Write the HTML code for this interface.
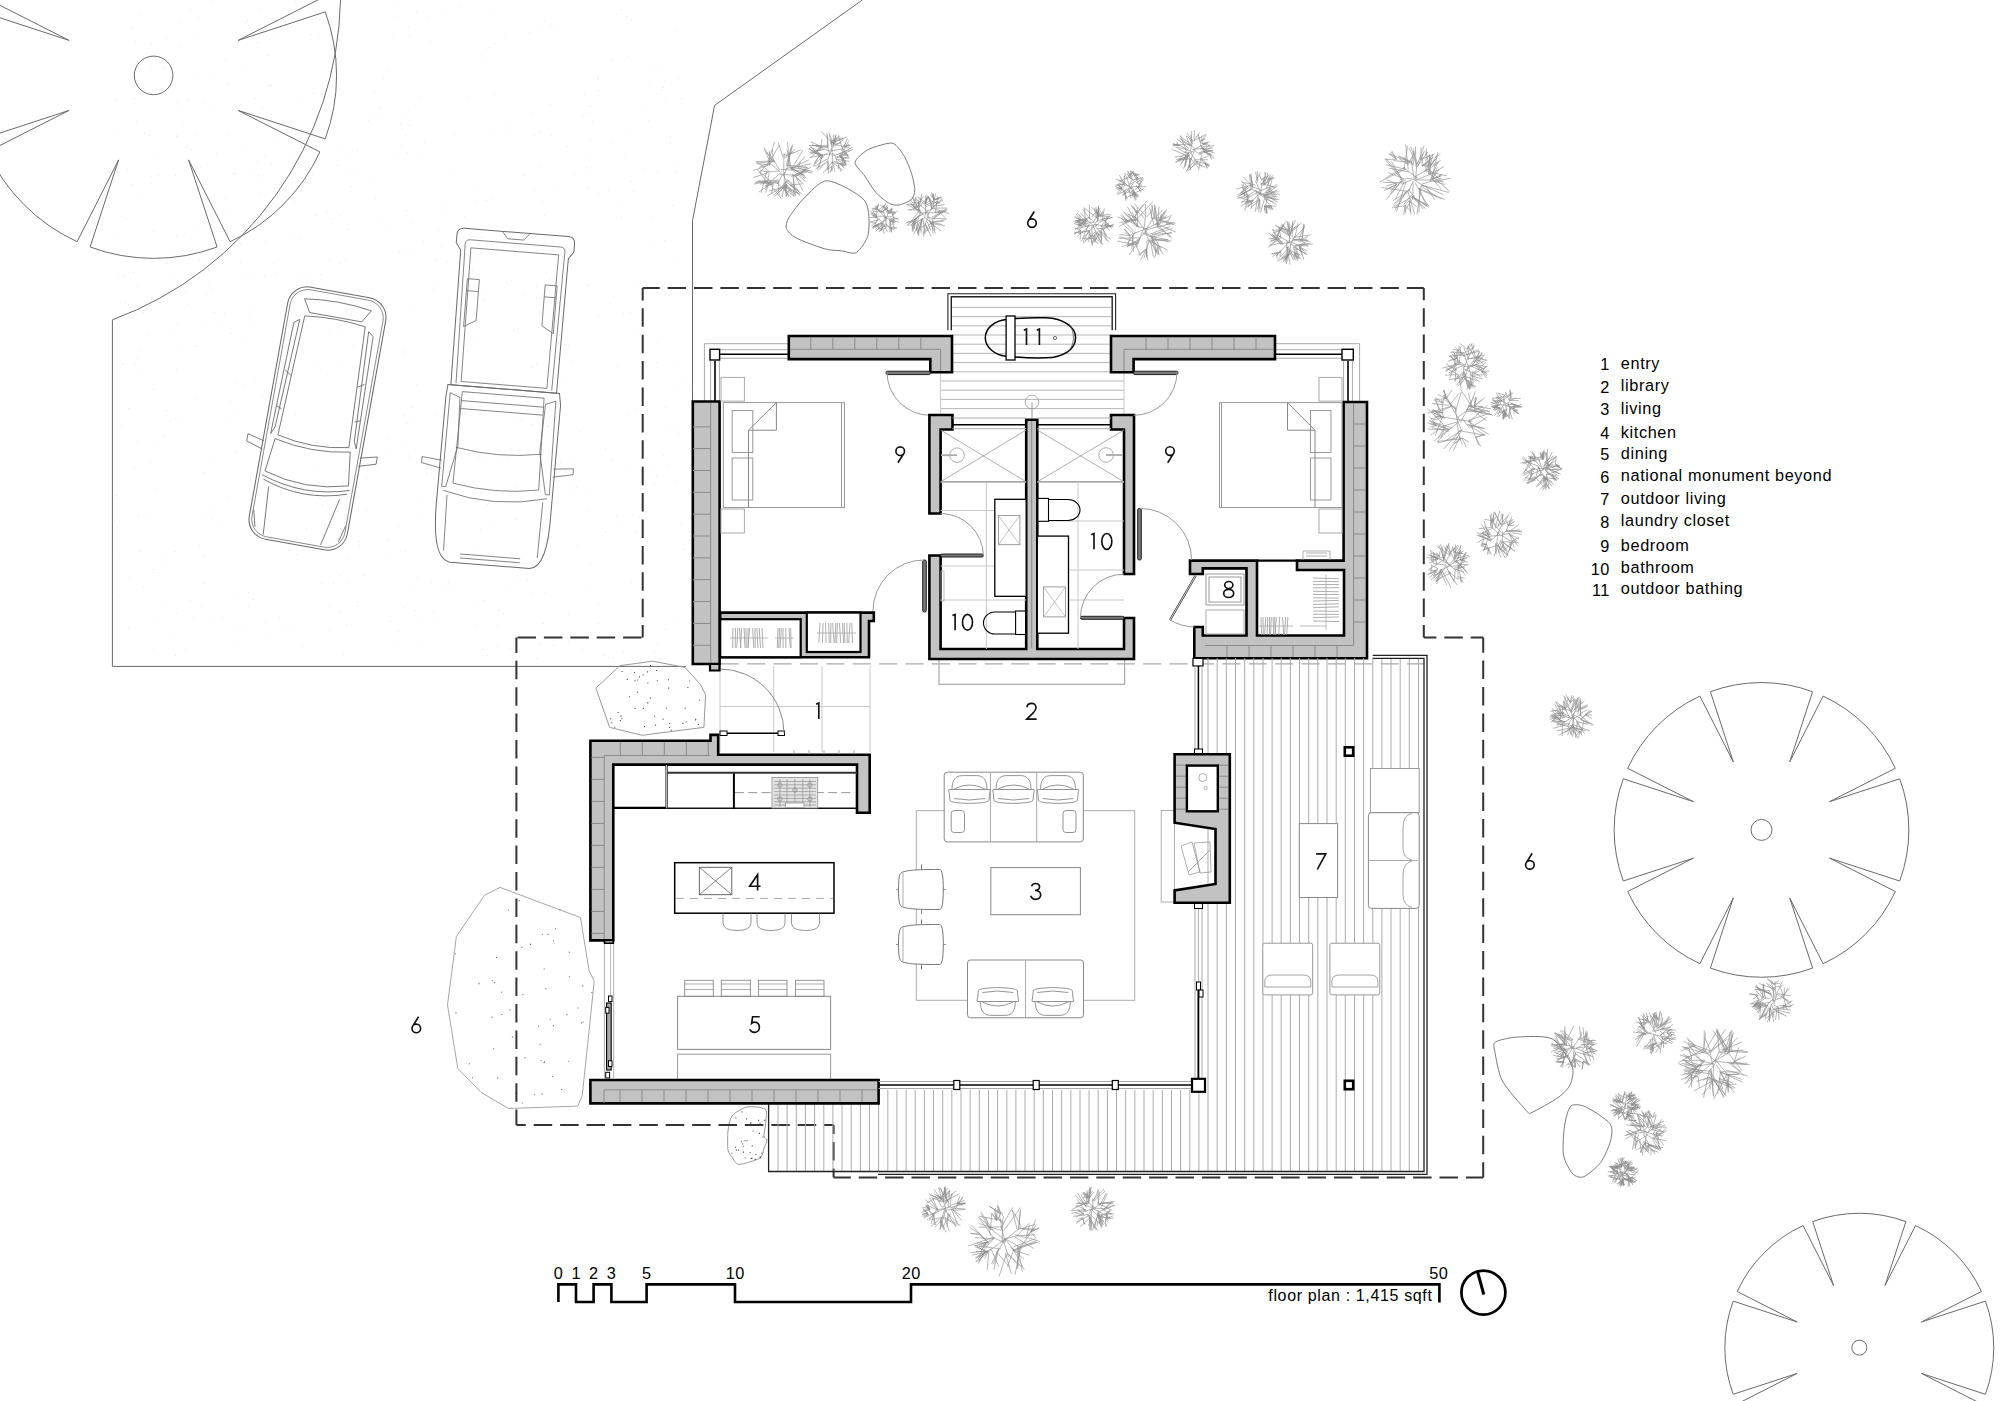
<!DOCTYPE html>
<html><head><meta charset="utf-8"><title>floor plan</title>
<style>
html,body{margin:0;padding:0;background:#fff;width:2000px;height:1401px;overflow:hidden}
svg{display:block}
.lbl{font-family:"Liberation Sans",sans-serif;fill:#111}
.leg{font-family:"Liberation Sans",sans-serif;fill:#000}
</style></head><body>
<svg width="2000" height="1401" viewBox="0 0 2000 1401" stroke-linecap="butt">
<rect x="0" y="0" width="2000" height="1401" fill="#fff"/>
<path d="M301.2 99.6h0.8 M489.3 47.8h0.8 M423.1 241.4h0.8 M148.3 334.9h0.8 M136.6 286.2h0.8 M155.2 59.9h0.8 M359.1 545.7h0.8 M186.2 147.3h0.8 M475.8 625.5h0.8 M446.8 261.8h0.8 M676.3 30.7h0.8 M608.6 191.1h0.8 M197.9 77.7h0.8 M292.4 538.6h0.8 M218.9 383.9h0.8 M482.4 245.8h0.8 M430 41.4h0.8 M149.3 135.9h0.8 M506.2 282.2h0.8 M295.6 386.5h0.8 M375.6 197.8h0.8 M571.8 461.3h0.8 M255.4 379.1h0.8 M417 577.6h0.8 M534.4 190h0.8 M678.6 77.9h0.8 M355.4 499.7h0.8 M202.4 322.7h0.8 M137.5 441h0.8 M554.6 378.2h0.8 M618.4 207.1h0.8 M514.8 392.3h0.8 M448.4 301.1h0.8 M598 623.5h0.8 M387.6 438.3h0.8 M149.9 463h0.8 M487.1 655.4h0.8 M587.6 187.8h0.8 M336.8 441.3h0.8 M128 304.7h0.8 M211.6 77.3h0.8 M148.9 507h0.8 M189.4 163.4h0.8 M339.8 575.1h0.8 M161.3 296.5h0.8 M430.9 583h0.8 M586.1 570.2h0.8 M275.1 274.1h0.8 M321.3 583.6h0.8 M665.7 99.6h0.8 M216.3 153.1h0.8 M249.2 320.1h0.8 M453.7 173.4h0.8 M117.4 276.5h0.8 M327.3 373.8h0.8 M663 455.7h0.8 M411.4 407.6h0.8 M503.8 35.6h0.8 M632.2 514.8h0.8 M617.8 526.6h0.8 M340.6 263.3h0.8 M174.5 418.6h0.8 M150.8 44.4h0.8 M235 107.1h0.8 M310.5 34.7h0.8 M115.1 99.8h0.8 M173.3 240h0.8 M129.7 577.1h0.8 M468.1 98h0.8 M260 229.3h0.8 M324.4 81.1h0.8 M603.1 655.4h0.8 M382.9 319.3h0.8 M164.4 67.4h0.8 M312 174.7h0.8 M591.6 106.5h0.8 M128.3 627.7h0.8 M418.7 96.8h0.8 M427.3 17.8h0.8 M418.7 645.8h0.8 M611.4 459.5h0.8 M265.1 242h0.8 M211 509.5h0.8 M421.2 514.2h0.8 M304.6 147.2h0.8 M581.6 650.1h0.8 M605.3 532h0.8 M585.5 488.3h0.8 M245.4 341.6h0.8 M319.4 19.1h0.8 M131.1 184.4h0.8 M264 457.1h0.8 M665 295.2h0.8 M653.8 652.1h0.8 M664.1 240.7h0.8 M241.8 149.7h0.8 M228.1 134.9h0.8 M473.8 594.2h0.8 M598.3 316.5h0.8 M490.5 527.8h0.8 M163.7 436h0.8 M638.1 516.3h0.8 M546.3 315.5h0.8 M217.6 520.8h0.8 M306.2 528.5h0.8 M673.7 261.3h0.8 M345.8 624.9h0.8 M531.8 112.2h0.8 M188 99.8h0.8 M635.3 532.3h0.8 M199.1 545.5h0.8 M678.7 433.8h0.8 M316.5 362.1h0.8 M190.3 9.4h0.8 M673.3 428.8h0.8 M417.8 616.2h0.8 M364.4 575.4h0.8 M590 139.3h0.8 M259.8 193.4h0.8 M253.3 387h0.8 M264.1 276.5h0.8 M190.4 600.6h0.8 M318.4 302.4h0.8 M450.4 596.8h0.8 M356.9 605.7h0.8 M403.4 351h0.8 M416 12.3h0.8 M368.1 120.9h0.8 M117.3 527.5h0.8 M214.1 312.5h0.8 M532 367.3h0.8 M302.4 342.1h0.8 M434.4 517.6h0.8 M176 369.8h0.8 M257.9 182.8h0.8 M559.1 335.1h0.8 M438 501.6h0.8 M639.7 292.5h0.8 M467.2 333.7h0.8 M409.5 457.2h0.8 M375.1 352h0.8 M389.9 621.4h0.8 M517.1 578.5h0.8 M656.8 171.3h0.8 M436.7 622.6h0.8 M598 90.5h0.8 M184.9 291.8h0.8 M156.7 158.8h0.8 M157 441.9h0.8 M565.8 592h0.8 M203.8 472.6h0.8 M494.6 94.4h0.8 M622.6 638.6h0.8 M241.3 628.7h0.8 M344 321.6h0.8 M684.2 549.4h0.8 M207.8 284.8h0.8 M411.5 223.8h0.8 M227.6 210.2h0.8 M530.2 12.9h0.8 M433.6 290.7h0.8 M125.4 218.8h0.8 M473.8 338.1h0.8 M152 650.2h0.8 M568.3 641.3h0.8 M175.2 175.3h0.8 M137.8 514.1h0.8 M270.5 85.5h0.8 M357.8 601.5h0.8 M585.9 170.7h0.8 M200.9 606.7h0.8 M443.1 462.3h0.8 M166.4 38h0.8 M510.7 280.7h0.8 M156.6 619.3h0.8 M479.8 529.1h0.8 M163.2 565.1h0.8 M153.3 569.4h0.8 M375.9 223.8h0.8 M433 611.6h0.8 M269 85.3h0.8 M418 157.4h0.8 M177.9 106.6h0.8 M144 133.2h0.8 M294.4 201.3h0.8 M551.7 191.4h0.8 M402.6 117.4h0.8 M314.5 12h0.8 M259 10.1h0.8 M536.5 363.7h0.8 M223.9 313.3h0.8 M652.4 70.1h0.8 M585.9 285.2h0.8 M399.6 550.8h0.8 M341 334.4h0.8 M510.5 648.4h0.8 M312.1 549.3h0.8 M521.4 419.7h0.8 M347.7 229.4h0.8 M146.3 85.7h0.8 M155.7 489h0.8 M262 107.7h0.8 M163.6 555.2h0.8 M615.6 442.6h0.8 M277.1 159.9h0.8 M283.5 303.2h0.8 M205.6 294.2h0.8 M266.4 634.8h0.8 M674.3 361.1h0.8 M255.6 637.3h0.8 M293 235.3h0.8 M115.6 251.9h0.8 M387.9 331.8h0.8 M230.6 333.1h0.8 M117.8 174.4h0.8 M166.6 263.7h0.8 M139 14.8h0.8 M289.9 153.7h0.8 M451.7 349.3h0.8 M546.6 434h0.8 M526.7 580.2h0.8 M339 215.2h0.8 M681.2 98.6h0.8 M531.4 424.5h0.8 M140.2 551.3h0.8 M627.9 414h0.8 M537 536.1h0.8 M195.1 345.7h0.8 M405 551.1h0.8 M577.7 545.4h0.8 M450.8 589.3h0.8 M507.7 457.6h0.8 M247.2 20.6h0.8 M191.5 238.1h0.8 M175.3 551.6h0.8 M436.2 414.3h0.8 M475.1 449.2h0.8 M396.3 2.2h0.8 M573.7 493.9h0.8 M404.2 353.2h0.8 M494.1 43.6h0.8 M538.7 166.4h0.8 M157.8 175.3h0.8 M534.4 135.4h0.8 M540.4 644h0.8 M399 252.5h0.8 M390.4 451.2h0.8 M556 407.2h0.8 M484.6 51.1h0.8 M199.8 167.6h0.8 M542.3 200.9h0.8 M441.5 8.2h0.8 M149.9 177.4h0.8 M501.4 456.8h0.8 M503.5 192h0.8 M412 306.7h0.8 M383.1 78.2h0.8 M628.9 131.5h0.8 M677.4 617.9h0.8 M125.1 302.9h0.8 M586.4 639h0.8 M373.4 177.3h0.8 M235.7 624.1h0.8 M236.2 383.8h0.8 M196.5 345.9h0.8 M662.8 87.5h0.8 M586.6 335.8h0.8 M624.9 464.2h0.8 M248 592.5h0.8 M394.5 16.4h0.8 M117.1 324.5h0.8 M374.2 199.3h0.8 M195.9 227h0.8 M296.7 554.6h0.8 M116 495.5h0.8 M597.5 79.2h0.8 M647.7 470.6h0.8 M633.4 191.3h0.8 M329 259.3h0.8 M689.3 388.9h0.8 M322.4 282.5h0.8 M273.2 31.9h0.8 M173.5 550.9h0.8 M279.2 617.5h0.8 M258.4 175.4h0.8 M408.8 125.3h0.8 M329.7 631.1h0.8 M623.5 535.9h0.8 M477.8 602.9h0.8 M655.9 362.5h0.8 M528.8 32.7h0.8 M536.1 297.6h0.8 M547.8 425.4h0.8 M279.6 32.3h0.8 M647.9 84h0.8 M386.5 226.8h0.8 M286.2 487.8h0.8 M676.4 171.7h0.8 M492.2 198.6h0.8 M435.5 260.3h0.8 M211.2 106.7h0.8 M234.5 597.9h0.8 M400.8 145.2h0.8 M636.1 657.7h0.8 M373.7 92.1h0.8 M225.6 59.9h0.8 M311.6 60.1h0.8 M252.5 170.5h0.8 M442.5 585.6h0.8 M546.1 272.4h0.8 M353 346h0.8 M331.7 223.2h0.8 M150.7 183.2h0.8 M671.4 83.1h0.8 M404.5 415.6h0.8 M611.1 142.5h0.8 M270.8 164h0.8 M344.9 294.3h0.8 M663.5 560.1h0.8 M616.9 14.4h0.8 M133.5 468.3h0.8 M630 312.4h0.8 M452.6 0.1h0.8 M340.1 611.7h0.8 M589.7 564.6h0.8 M674 164h0.8 M177.7 101.9h0.8 M415.4 450.2h0.8 M656.4 476.3h0.8 M487.2 504.8h0.8 M378 364h0.8 M137.7 516.3h0.8 M248.7 607.1h0.8 M486.2 200.5h0.8 M188.6 166.2h0.8 M480.9 461.1h0.8 M179.5 46.4h0.8 M416.6 384.7h0.8 M338.1 147.6h0.8 M460.6 6.9h0.8 M288.4 304.1h0.8 M666.4 425.4h0.8 M623.2 313.7h0.8 M250 163.1h0.8 M667.4 465.1h0.8 M291.8 14.4h0.8 M401.5 445.1h0.8 M356.5 169.8h0.8 M498.7 610.6h0.8 M245.4 22.5h0.8 M309.4 277.6h0.8 M507.5 130.7h0.8 M573.3 487.8h0.8 M405.3 135.4h0.8 M672.7 205.7h0.8 M586.5 152.3h0.8 M242.3 501.9h0.8 M284.6 628.3h0.8 M400.1 123.6h0.8 M243.4 275.2h0.8 M497.5 626.2h0.8 M199.2 259.7h0.8 M237.4 642.9h0.8 M196.6 34.2h0.8 M149.6 259.6h0.8 M631.4 583.2h0.8 M536.3 658.4h0.8 M650.7 217.3h0.8 M221.7 617.7h0.8 M544.1 21h0.8 M497 249.9h0.8 M330 218.9h0.8 M212.3 1.9h0.8 M275.9 232h0.8 M664.4 81.6h0.8 M669.5 136.9h0.8 M320.1 542.2h0.8 M587.7 285.4h0.8 M143.3 312.5h0.8 M329.3 606.9h0.8 M226 240.4h0.8 M630.8 20h0.8 M351.2 535.8h0.8 M555.8 26.8h0.8 M135 41.3h0.8 M644 169.6h0.8 M544.7 593h0.8 M310 179.7h0.8 M665.7 407.2h0.8 M265.7 473h0.8 M297 181.9h0.8 M117.2 498.7h0.8 M642 418.4h0.8 M657.4 16h0.8 M249.5 313.6h0.8 M665.1 629.6h0.8 M337.2 165.7h0.8 M362.2 325.7h0.8 M648.7 120.7h0.8 M576.5 487.4h0.8 M588.1 510.1h0.8 M464.2 216.3h0.8 M298.7 238.8h0.8 M564.8 52.1h0.8 M228.5 496.9h0.8 M257.2 42.7h0.8 M134.5 364.7h0.8 M302.3 647h0.8 M623 652h0.8 M267.3 55.5h0.8 M170.4 329h0.8 M523.1 295h0.8 M249.7 275.1h0.8 M471.7 444.9h0.8 M545.1 559h0.8 M497 80h0.8 M598.5 193.9h0.8 M441 246.2h0.8 M539.4 131.5h0.8 M257.3 161.9h0.8 M203.2 583.6h0.8 M447.5 215.4h0.8 M342.7 655h0.8 M406.7 152.7h0.8 M579.9 431.2h0.8 M684.8 67.5h0.8 M388 540.6h0.8 M598.3 603.5h0.8 M138.2 193.8h0.8 M183.5 125.1h0.8 M674.5 384.9h0.8 M649.8 245.7h0.8 M613 296.4h0.8 M264.5 513.3h0.8 M658.8 69.8h0.8 M457.8 409.2h0.8 M240.1 243.3h0.8 M196.3 134.6h0.8 M261.6 395.6h0.8 M489.7 134.3h0.8 M121.5 216h0.8 M505 122.2h0.8 M294.5 134.2h0.8 M572.3 361.7h0.8 M151.4 66.9h0.8 M342.3 363.1h0.8 M482.5 60.2h0.8 M209.1 459h0.8 M350.6 187h0.8 M291.9 629.1h0.8 M294.6 373.9h0.8 M320.4 274.9h0.8 M611.9 657.8h0.8 M324.2 130.2h0.8 M533.6 134.4h0.8 M118.4 595.1h0.8 M358.7 541.4h0.8 M348.6 582.7h0.8 M380 107.3h0.8 M123.5 364h0.8 M483.4 600.5h0.8 M166.2 410.6h0.8 M328.2 332.9h0.8 M198.9 187h0.8 M414.7 610.8h0.8 M177.6 323.7h0.8 M577.8 638.1h0.8 M228.5 83.6h0.8 M657.3 643.9h0.8 M392.6 35.2h0.8 M647.5 256h0.8 M634.9 409.4h0.8 M589.1 105.8h0.8 M566.8 146.6h0.8 M347.6 558.6h0.8 M591.8 120.8h0.8 M240.4 263.8h0.8 M412.8 253.2h0.8 M185.8 163.1h0.8 M531.8 592.2h0.8 M138.6 371.1h0.8 M550.5 25.2h0.8 M597 77.7h0.8 M459.7 363h0.8 M475.5 202.1h0.8 M356.5 384.5h0.8 M359.8 434.8h0.8 M371.9 289.3h0.8 M128.4 408.5h0.8 M396.5 155.3h0.8 M554 514.8h0.8 M378.5 118.5h0.8 M387.1 70.7h0.8 M188.9 284.2h0.8 M167.7 291.7h0.8 M408.3 26.9h0.8 M481 54.3h0.8 M536.8 513.2h0.8 M409.1 35.8h0.8 M404.8 249.4h0.8 M661.7 89.9h0.8 M607.8 657.4h0.8 M535.9 537.9h0.8 M226.4 647.9h0.8 M397.8 631.4h0.8 M641.7 109h0.8 M568.3 614.2h0.8 M152.7 231.6h0.8 M549.8 104.8h0.8 M630.5 181.5h0.8 M584 94.8h0.8 M403.8 607.1h0.8 M234.8 173.5h0.8 M406 210.6h0.8 M136.2 120.2h0.8 M207.7 618h0.8 M505.8 591h0.8 M212 518h0.8 M181.2 350.3h0.8 M480.9 237.5h0.8 M616.9 366.4h0.8 M448.5 582.5h0.8 M175.2 655.4h0.8 M477.1 260.2h0.8 M573.7 174.7h0.8 M684.5 381.1h0.8 M322.1 504.7h0.8 M369.3 116.7h0.8 M542.6 31.9h0.8 M586.4 167.4h0.8 M482.6 649.5h0.8 M451.9 438h0.8 M294.8 1.2h0.8 M134.4 98.6h0.8 M469.2 285.3h0.8 M409.8 591.1h0.8 M190.9 150h0.8 M490.5 14.7h0.8 M116.5 234.3h0.8 M176.2 235.7h0.8 M243.9 385.2h0.8 M453.7 134.8h0.8 M473.8 313.4h0.8 M192.5 618.2h0.8 M255.1 98.5h0.8 M170.1 421.2h0.8 M616 516.2h0.8 M346.1 174.4h0.8 M121.6 425.7h0.8 M438.3 231.2h0.8 M486.2 292.9h0.8 M653.9 484.1h0.8 M257.9 596.3h0.8 M140.3 350.8h0.8 M348.4 156.9h0.8 M148.6 514.1h0.8 M122.1 363.6h0.8 M656 93.9h0.8 M229.7 401.3h0.8 M406.5 423.4h0.8 M582.7 115.3h0.8 M292.9 198.2h0.8 M142.9 587h0.8 M565.2 472.2h0.8 M118.7 557.3h0.8 M543.5 307.1h0.8 M541.5 298.6h0.8 M244.9 69.5h0.8 M248.6 25.6h0.8 M307.9 494.8h0.8 M514.7 557.9h0.8 M524.2 175.6h0.8 M433.4 287.8h0.8 M568.4 345.3h0.8 M267.5 423.7h0.8 M670 143.2h0.8 M621 10.1h0.8 M264.7 155.8h0.8 M542.7 623.5h0.8 M544 215.7h0.8 M621.1 216.8h0.8 M252.5 599h0.8 M477.7 457.3h0.8 M497.5 646.1h0.8 M385 554.2h0.8 M516.1 566h0.8 M366.4 478.3h0.8 M442.9 203.1h0.8 M236.9 410.9h0.8 M159.7 601.1h0.8 M198.1 17.8h0.8 M176.3 613.1h0.8 M313.3 93.6h0.8 M131.5 27.5h0.8 M513.3 418.4h0.8 M515.8 486.3h0.8 M152.8 389.7h0.8 M324 539.6h0.8 M586.2 588.2h0.8 M152.9 572.7h0.8 M640.8 623.3h0.8 M176.6 135.8h0.8 M179.4 22.7h0.8 M602.4 535.9h0.8 M479.6 544.5h0.8 M478.1 189.7h0.8 M172.4 64.6h0.8 M550.5 135.3h0.8 M298.5 279.7h0.8 M127 169.4h0.8 M277.5 472.4h0.8 M326.6 211.7h0.8 M669.3 332.5h0.8 M604.5 408.1h0.8 M132.8 272.5h0.8 M366 510.2h0.8 M314.4 465.1h0.8 M424.3 142.9h0.8 M610.8 60h0.8 M586.4 112.4h0.8 M115.7 133.3h0.8 M553.3 645.4h0.8 M117.5 323.9h0.8 M397.6 525.9h0.8 M221.1 326.4h0.8 M314.6 549h0.8 M264.8 623h0.8 M278.1 141.7h0.8 M517.2 328.9h0.8 M178.2 420.1h0.8 M161.5 520h0.8 M515.9 519.4h0.8 M476.1 234.7h0.8 M345.7 260.4h0.8 M627 56.9h0.8 M625.9 16.6h0.8 M233.5 173.7h0.8 M633.2 330.8h0.8 M333.1 583.4h0.8 M249.3 304.2h0.8 M420.6 498h0.8 M548 426.6h0.8 M315.4 215.6h0.8 M204.3 556.5h0.8 M495.7 489.7h0.8 M212.5 289.6h0.8 M559.7 382.3h0.8 M187.5 304.9h0.8 M623.9 157h0.8 M225.2 199h0.8 M519.3 556.8h0.8 M203.9 103h0.8 M257.4 215.5h0.8 M415.3 106.2h0.8 M303.6 124.9h0.8 M675.7 481h0.8 M173.5 635.2h0.8 M173.4 253.6h0.8 M680.7 524.6h0.8 M536.6 287h0.8 M227.8 421.1h0.8 M176.5 136.3h0.8 M338.3 22.4h0.8 M344.4 522.1h0.8 M513.7 330.3h0.8 M478.6 305.8h0.8 M196.5 398.4h0.8 M347.7 489h0.8 M637.1 283.8h0.8 M445 494.4h0.8 M357.2 150.9h0.8 M530.3 580.9h0.8 M560.1 462.1h0.8 M605.2 448.5h0.8 M483.9 299.6h0.8 M295 414.7h0.8 M171.3 276.9h0.8 M564.9 470.7h0.8 M477 165h0.8 M358.6 300.4h0.8 M472.4 270.2h0.8 M503.3 613.9h0.8 M220.3 432h0.8 M562.5 256.5h0.8 M396.7 643.2h0.8 M136.9 358.6h0.8 M207.5 516h0.8 M655.8 342.7h0.8 M173.1 379.2h0.8 M426.1 473.4h0.8 M409.5 421.9h0.8 M591.7 344.3h0.8 M351 625.7h0.8 M235.8 451.7h0.8 M340.7 503.4h0.8 M185.4 649.7h0.8 M319.4 37.4h0.8 M272.8 263.8h0.8 M122.7 276.3h0.8 M356.8 460.8h0.8" stroke="#d8d8d8" stroke-width="0.8" fill="none"/>
<path d="M188.6 -9.1L230.1 -90.9A183 183 0 0 1 319.9 -1.1L238.1 40.4M238.1 40.4L325.2 11.9A183 183 0 0 1 325.2 138.9L238.1 110.4M238.1 110.4L319.9 151.9A183 183 0 0 1 230.1 241.7L188.6 159.9M188.6 159.9L217.1 247A183 183 0 0 1 90.1 247L118.6 159.9M118.6 159.9L77.1 241.7A183 183 0 0 1 -12.7 151.9L69.1 110.4M69.1 110.4L-18 138.9A183 183 0 0 1 -18 11.9L69.1 40.4M69.1 40.4L-12.7 -1.1A183 183 0 0 1 77.1 -90.9L118.6 -9.1M118.6 -9.1L90.1 -96.2A183 183 0 0 1 217.1 -96.2L188.6 -9.1" stroke="#6a6a6a" stroke-width="1" fill="none"/>
<circle cx="153.6" cy="75.4" r="19.3" stroke="#6a6a6a" stroke-width="1" fill="none"/>
<path d="M1789.7 761.9L1823.1 696.1A147.3 147.3 0 0 1 1895.3 768.3L1829.5 801.7M1829.5 801.7L1899.7 778.8A147.3 147.3 0 0 1 1899.7 881L1829.5 858.1M1829.5 858.1L1895.3 891.5A147.3 147.3 0 0 1 1823.1 963.7L1789.7 897.9M1789.7 897.9L1812.6 968.1A147.3 147.3 0 0 1 1710.4 968.1L1733.3 897.9M1733.3 897.9L1699.9 963.7A147.3 147.3 0 0 1 1627.7 891.5L1693.5 858.1M1693.5 858.1L1623.3 881A147.3 147.3 0 0 1 1623.3 778.8L1693.5 801.7M1693.5 801.7L1627.7 768.3A147.3 147.3 0 0 1 1699.9 696.1L1733.3 761.9M1733.3 761.9L1710.4 691.7A147.3 147.3 0 0 1 1812.6 691.7L1789.7 761.9" stroke="#6a6a6a" stroke-width="1" fill="none"/>
<circle cx="1761.5" cy="829.9" r="10.5" stroke="#6a6a6a" stroke-width="1" fill="none"/>
<path d="M1885 1285.6L1915.5 1225.6A134.4 134.4 0 0 1 1981.4 1291.5L1921.4 1322M1921.4 1322L1985.4 1301.1A134.4 134.4 0 0 1 1985.4 1394.3L1921.4 1373.4M1921.4 1373.4L1981.4 1403.9A134.4 134.4 0 0 1 1915.5 1469.8L1885 1409.8M1885 1409.8L1905.9 1473.8A134.4 134.4 0 0 1 1812.7 1473.8L1833.6 1409.8M1833.6 1409.8L1803.1 1469.8A134.4 134.4 0 0 1 1737.2 1403.9L1797.2 1373.4M1797.2 1373.4L1733.2 1394.3A134.4 134.4 0 0 1 1733.2 1301.1L1797.2 1322M1797.2 1322L1737.2 1291.5A134.4 134.4 0 0 1 1803.1 1225.6L1833.6 1285.6M1833.6 1285.6L1812.7 1221.6A134.4 134.4 0 0 1 1905.9 1221.6L1885 1285.6" stroke="#6a6a6a" stroke-width="1" fill="none"/>
<circle cx="1859.3" cy="1347.7" r="7.5" stroke="#6a6a6a" stroke-width="1" fill="none"/>
<path d="M340.5 0 A348.5 348.5 0 0 1 112.4 319.8 L112.4 666.4 L 686 666.4" stroke="#6a6a6a" stroke-width="1" fill="none"/>
<path d="M862.3 0 L714.6 105.4 L692.5 220.6 L692.5 402" stroke="#6a6a6a" stroke-width="1" fill="none"/>
<path d="M827.6 180.7C835.5 181.1 859.5 193.9 864.8 200.8C870.1 207.7 869.4 227.1 868.3 233.8C867.2 240.5 860 250.3 856.5 252.5C853 254.7 845.5 251.3 841.4 250.8C837.3 250.3 830.8 250.6 824.9 248.9C819 247.2 801 240.6 796 237.9C791 235.2 787.3 231 786.4 228.3C785.5 225.6 786.8 221.2 789.1 217.3C791.4 213.4 799.3 202.8 804.3 198C809.3 193.2 819.7 180.3 827.6 180.7Z" stroke="#7a7a7a" stroke-width="1" fill="none"/>
<path d="M855.1 162.3C855.5 158.9 863.4 152.3 867.5 149.9C871.6 147.5 883.2 144.3 886.8 143.6C890.4 142.9 892.7 142.7 895 144.4C897.3 146.1 902.5 153 904.6 156.8C906.7 160.6 910.2 169 911.5 173.3C912.8 177.6 914.8 186.4 914.8 189.8C914.8 193.2 913.5 197.4 911.5 199.4C909.5 201.4 902 204.4 899.1 204.9C896.2 205.4 892.5 205.1 889.5 203.5C886.5 201.9 879 196.1 875.8 192.5C872.6 188.9 867.5 179.9 864.8 176C862.1 172.1 854.7 165.7 855.1 162.3Z" stroke="#7a7a7a" stroke-width="1" fill="none"/>
<path d="M1495.6 1041.9C1498.5 1040.1 1509.7 1037.5 1517.1 1037.1C1524.5 1036.7 1545.2 1035.2 1552.4 1039C1559.6 1042.8 1569.8 1060.1 1572.1 1066C1574.4 1071.9 1572 1080.5 1570.2 1084.6C1568.4 1088.7 1563 1094 1558 1097.6C1553 1101.2 1536.1 1110.7 1532 1112.4C1527.9 1114.1 1530.3 1114.7 1526.4 1110.6C1522.5 1106.5 1506.4 1088.6 1502.3 1080.9C1498.2 1073.2 1495.7 1056.3 1494.8 1051.2C1493.9 1046.1 1492.7 1043.7 1495.6 1041.9Z" stroke="#7a7a7a" stroke-width="1" fill="none"/>
<path d="M1570.9 1106.1C1573.7 1103.7 1580.7 1104.6 1585.8 1106.9C1590.9 1109.2 1606.7 1119.3 1609.9 1123.6C1613.1 1127.9 1611.9 1135.2 1610.7 1140.3C1609.5 1145.4 1604.1 1157.9 1600.6 1162.6C1597.1 1167.3 1587.5 1175.2 1583.9 1176.7C1580.3 1178.2 1575.5 1176.6 1572.8 1173.8C1570.1 1171 1564.6 1161.4 1563.5 1155.1C1562.4 1148.8 1563.6 1131.8 1564.6 1125.4C1565.6 1119 1568.1 1108.5 1570.9 1106.1Z" stroke="#7a7a7a" stroke-width="1" fill="none"/>
<polygon points="595.9,688 619.9,665.7 652.5,661.2 685,667.4 700.5,684.6 705.6,694.8 703.9,727.4 676.5,730.8 642.2,735.3 609.6,727.4" stroke="#999" stroke-width="1" fill="none"/>
<path d="M634.5 680.8h1M620.5 716.1h1M699 700.3h1M619.9 720.6h1M638.9 676.9h1M610.1 718.7h1M684.7 708.2h1M647.4 702.8h1M634.6 708.5h1M685.7 721.7h1M647.3 683h1M656 670.5h1M687.4 687.5h1M689.2 681h1M637.2 680h1M642.6 675h1M626.7 679.4h1M629 696.7h1M642.9 708.4h1M668.2 688.1h1M697.8 724.5h1M695.3 719.3h1M611.3 722.8h1M667.9 679.7h1M621.5 718.7h1M633.9 672.5h1M695.1 719.9h1M614.3 727.2h1M662.6 719.1h1M669.2 727.4h1M682.4 723.4h1M617.6 712.5h1M654.1 716.2h1M644 726.6h1M656.8 680.8h1M621.6 671.5h1M650 665.5h1M647.1 671.9h1M649.8 698.1h1M655.1 725.1h1M647.2 702.9h1M668.9 723.5h1M637 692.2h1M665.8 708.3h1M670.8 730.2h1" stroke="#444" stroke-width="1.1" fill="none"/>
<polygon points="500,887.4 484.5,895.3 456.4,936.4 447.5,1005 457.8,1068.4 481.1,1092.4 508.5,1108.5 577.8,1106.1 582.2,1095.8 589.1,1030.7 594.2,981 589.1,970.7 580.5,917.6" stroke="#a5a5a5" stroke-width="1" fill="none"/>
<path d="M522.4 994.6h1M552.9 1025.6h1M497.2 1077.9h1M501.2 992.3h1M524.6 1057.8h1M478.4 983.6h1M509.5 1009.9h1M568.8 952.2h1M568.9 976.7h1M521.4 947.5h1M521.8 1103h1M543.5 1062.5h1M496 957.5h1M491.4 1017.1h1M540.6 1060.8h1M577.4 1008h1M454.8 953.8h1M582.7 1022h1M544 1061.9h1M581 1022.7h1M538 1026h1M549.7 1019.2h1M547.4 934.4h1M545.3 988.6h1M559.4 909.8h1M561.1 1089.5h1M543.7 969h1M568.2 1061.3h1M530 944.4h1M491.8 980.7h1M494.2 982.6h1M541.6 1093.9h1M455.5 1012.9h1M566.4 1014.6h1M582.3 986.1h1M534.3 1094.7h1M591.4 992.5h1M508 910h1M542 934.3h1M553 941h1M555.1 928.8h1M552.2 1076.5h1M539.7 1044.2h1M515.1 1093.5h1M493.1 1048.7h1M471.9 1077.8h1M518.8 900.6h1M501.4 1014.5h1M511.9 1037.1h1M468.8 1063.7h1" stroke="#666" stroke-width="1.1" fill="none"/>
<path d="M747 1107C751.3 1106.1 762.5 1107.3 765 1109C767.5 1110.7 766.1 1116.5 766 1120C765.9 1123.5 763.9 1133.4 764 1136C764.1 1138.6 767 1138.4 767 1140C767 1141.6 764.9 1145.7 764 1148C763.1 1150.3 763.2 1155.9 760 1158C756.8 1160.1 742.6 1164.5 739 1164.4C735.4 1164.3 733.4 1158.9 732 1157C730.6 1155.1 728.5 1153.4 728 1150C727.5 1146.6 727.5 1135.4 728 1131C728.5 1126.6 729.5 1119.1 732 1116C734.5 1112.9 742.7 1107.9 747 1107Z" stroke="#999" stroke-width="1" fill="none"/>
<path d="M742.2 1144h1M752.6 1131h1M743 1152.1h1M750.1 1123.8h1M755.4 1154.5h1M740.9 1141.8h1M751.4 1124.7h1M744.7 1158h1M742.7 1146.3h1M751.5 1158.4h1M759.5 1123.3h1M744.5 1140.7h1M759.8 1157.9h1M759.7 1156.8h1M750.3 1122.7h1M761.2 1153.3h1M754.7 1159.4h1M741.5 1111.9h1M749.6 1152.8h1M735.8 1150.1h1M764.3 1120.4h1M751.7 1145.9h1M746.1 1118.9h1M737.9 1150.1h1M758.9 1133.4h1M731.4 1153.3h1M758.1 1120.4h1M750.6 1158.5h1M762.5 1137h1M746.6 1140.8h1M735.4 1118h1M735 1147.2h1" stroke="#444" stroke-width="1.1" fill="none"/>
<path d="M783.7 174.4L784 153.3M782.6 157.1L801.2 149.8M782.8 156.5L778.2 142.3M785.1 158.2L794.9 149.3M783.8 154.6L794.6 152.5M783.9 174.7L788.4 164.8M788.4 165.4L806.7 167.1M789.4 166.9L787.6 141.9M786.2 165.9L790.9 147.9M787.6 167.2L791.7 146M787.1 166.3L792.8 144.4M785.2 169L791.1 167.4M790.3 167.7L804.5 175.2M791 166.9L787.1 149.7M790.5 167L812.7 171.4M790.2 168.7L808.7 159.8M789.7 166.9L804.6 175.8M791.2 167.8L811.4 163.7M780.4 169.4L794.6 170.1M793.1 168.7L806.5 178.1M791.2 169.4L812.6 172.9M792.4 170.3L805.4 156.2M792.7 170.1L805.6 181.6M791.1 169.6L803.1 150.1M780.1 174.4L795.4 175.2M793.7 175L794.1 195.4M791.1 176.5L807.9 168.6M792.6 173.9L795.5 196.3M794.3 176L811 167.2M794.6 174.7L803.2 191.1M782.2 173.5L787.8 182.6M787.5 180.3L773.7 195.7M786 180.7L781.9 197M786.1 182L786.4 197M787.5 180.2L800.4 196.2M787.8 179.4L798.9 190.9M785.4 181.2L802 194.2M784.9 172L783.8 187.2M783.1 188.1L794.1 196.3M782.9 186.3L798.7 193.8M785.2 186.2L800 194.3M783.7 187.2L769 191M782.6 184.8L788.5 196.5M785.4 185.3L774.8 196.3M785.3 185.3L767.2 195.8M782.4 174.6L777.9 183.3M779.6 182.2L754.9 182.7M778.6 183.6L779.1 195.2M779.9 180.1L756.4 181.6M777.3 182.7L791.3 197.6M777.8 181.2L759.8 184.1M779.2 183.5L758.2 180.7M782.3 171.4L767.7 184.1M767 182.4L757.4 169.3M769.6 180.2L754.2 184.1M768.9 182.4L765.7 192.5M769.1 182.9L781.3 198.5M770.9 183.4L758.9 192.1M770.9 181.4L759.8 171.6M779.5 171L765.7 171.9M769.2 172.9L765.8 190M766.4 172L759.9 170M769.1 171.4L756.5 161.6M768.4 172.6L753.1 177.6M766.8 171.1L761.2 192.7M780.2 171.8L767.3 161.4M769.6 161.8L779.3 145.1M769.5 165.6L769.6 150.8M770.6 164.3L757.5 164M769.7 161.4L759 173.5M768.2 161.4L774.6 141.9M770 164.5L753 170.6M770.3 162.5L764.4 149.4M779.4 169.4L773.2 159.4M773 161.9L763.9 147.6M775.3 161L755.9 163.3M773.3 161.5L772.5 149.3M774.2 162.4L769.1 152.5M772.6 160.9L755.7 161.7M773.2 161.7L759.4 167.1M772.2 160.7L766.8 152.1M795.5 176.5L801 181.8M795.5 176.5L805.7 169.8M795.5 176.5L803.9 184.1M795.5 176.5L804.3 171.5M773.2 183.8L762.7 182.5M773.2 183.8L764.8 185.5M773.2 183.8L765.4 186.9M773.2 183.8L771.5 193.7M798.1 167.9L807.9 167.7M798.1 167.9L806.3 170.7M798.1 167.9L800.4 161.9M786.1 184.2L785.4 192.5M786.1 184.2L789.8 191.3M786.1 184.2L778 192.9M786.1 184.2L792.1 190.9M789.3 190.1L794.6 196.8M789.3 190.1L785.6 196.2M789.3 190.1L795.8 194.6M790.5 185.1L802.2 183.8M790.5 185.1L799.2 191.6M790.5 185.1L796 188.6M799.5 174.3L806.8 167M799.5 174.3L809.2 170.6M799.5 174.3L805.1 178.8M786.1 184L785.5 194M786.1 184L779.5 192.2M786.1 184L785.2 191.3" stroke="#8e8e8e" stroke-width="0.65" fill="none"/>
<path d="M833.1 153.4L836.8 158.5M835.2 157.9L845.2 165.3M837.6 159.5L849.4 161.3M836.7 157.2L847.8 157.4M835.7 157.6L841.1 172M836.6 157.4L853 149.4M832.4 153.2L832.3 163.2M832.3 161.9L832 170.9M832.8 161.7L823 173M833.6 161L845.3 165.8M833.3 163L843.1 170.6M832.3 160.9L835 171.8M833.2 162.7L845.3 164.1M831.9 149.6L826.4 162.6M827.6 158.8L813.5 166.7M827.4 161.1L827.4 169.7M828.3 160.9L828.6 173.8M826.3 163L815.5 168.9M825.1 162.4L818.3 170.7M827.5 153.2L820.8 157.8M821.5 157L815 163.9M821.5 157.5L808.4 148.5M820.9 157.8L810.3 145.7M822.7 157.5L809.8 146.6M823.6 157.1L812.9 147.5M822.4 155.5L813 151.9M833 153.9L819.2 154.5M821.7 155L808.9 148.5M820.5 154.2L814.2 163.2M822.4 154.9L819.1 167.1M822.6 155.2L817.3 169.5M820.2 153.2L810.9 153.9M822.8 155.1L809.4 157.5M819.5 155.3L813.1 166.4M829.8 151.4L821.8 148M822.7 147.3L810.7 141.7M822.1 147.2L810.3 158M822 149.7L810.4 153.1M823.7 149.3L809.3 152.5M829.9 154.9L827.3 145.1M828.3 146L826.8 133.3M828 146.3L812.3 145.4M827.6 147.3L827.2 135.1M828.9 146.2L808.8 145.4M827.8 147.9L811.9 144.8M832.4 152.5L830.9 140.3M830.6 142.1L839.4 136.3M831.4 140.7L841.8 137.8M831.8 142.5L843.3 138.7M829.9 143.9L846.9 136.8M832.3 143.3L821.6 131.6M830 150.8L834.5 144.2M832.4 146.7L829.2 134.6M834.3 146.8L828.8 132.3M834.7 144.4L846.5 147.3M835 146L843.7 139.6M833.6 144.2L833.2 134.6M832.7 145L836.1 134.6M830.3 151L843 148.9M841.4 149.9L849.3 158M841.8 148.4L845.8 142.9M842.6 149.6L838.3 135.2M842.5 148.7L847.2 154.4M841.6 150.4L849.1 156.3M843 148.7L849 143.9M833.4 155.2L841.3 153.9M839.5 155L846 165.3M841 153.8L848.2 155.6M840.7 153.7L845.5 164.6M838.4 153.7L850.6 149.8M840.2 155.4L845.9 161.2M841.9 154.4L848.8 140.5M840.1 154L852.5 147.1M841.7 157.9L849.2 158.3M841.7 157.9L846.6 165.1M841.7 157.9L843.3 166M841.7 157.9L846.4 163.4M821.1 147.7L815.6 152.2M821.1 147.7L821.7 139.2M821.1 147.7L816.3 149.8M821.1 147.7L816.2 145M821.1 147.7L815.7 146.2M839.3 163.3L843 166.4M839.3 163.3L843.9 166.3M839.3 163.3L837.8 169.2M839.3 163.3L844.7 168.4M839.7 156.1L844.1 159M839.7 156.1L846 162.4M839.7 156.1L848.2 154.4M839.7 156.1L844.3 160.2M839.7 156.1L843.4 159.1M834.6 144.2L835.2 135.1M834.6 144.2L837.1 137.5M834.6 144.2L840.9 143M834.6 144.2L834.4 139.2M831.9 166.7L826.8 169.5M831.9 166.7L830.1 172.5M831.9 166.7L831.7 171.3M844.4 145.9L850.7 145.2M844.4 145.9L850.8 148.5M844.4 145.9L850.2 145.6M844.4 145.9L847.2 138.6" stroke="#8e8e8e" stroke-width="0.65" fill="none"/>
<path d="M881.3 221.3L878.5 218.9M877.1 217.6L872.5 214.8M878 219.6L871.3 226.3M878.1 218.1L873 228.8M879.8 219.2L870.3 222.2M878.3 218.5L872.5 215.9M883.3 216.1L875.4 216.3M876.6 215.4L873.2 212.3M877.2 215.8L873.1 212.5M877.2 217.7L869.6 217.6M876.1 216.7L877.8 204.9M876.6 217.5L870.3 213.7M877.2 217.5L870.8 212.3M877.2 217.2L870.2 210.6M884.4 216.3L879.5 211M878.7 210L886 204.4M881.2 212.5L888.2 207.1M880.5 212.9L885.8 202.8M880.1 212.6L876 205.8M885.7 218.4L883.2 211.3M882.7 211.5L872.9 211.4M884.2 212.5L873 207.8M882.7 212.7L874.6 206.7M883 211.7L887.2 205.1M883.3 210.8L887.7 205.5M885.5 221.3L888.7 211.1M887.4 211.4L891.9 209.3M887.8 213.9L882.9 205.4M889.2 212.8L891.5 208.5M887.9 210.6L880.1 204.9M889.1 212.6L895.9 212.9M888.7 212.7L884.2 206.1M888.3 213.4L894.2 212.7M882.7 216.7L893.4 216.8M893.8 218.2L890.9 208.5M892.3 216L894.6 211.5M892.5 215.7L897.3 210.6M893.4 217.4L898.9 219.3M884 217.4L893.3 220.4M891 220.3L899 222.1M892.6 219.1L896 222.2M893.7 219.9L893.9 224.9M889.9 219.6L891.3 231.8M890 218.2L889.6 229.4M890.6 218.5L897.9 219M891.7 220.5L894 227.7M885.4 217.6L886.7 227.2M887.8 225L876.5 230M885.6 223.6L879 232M886.4 227.6L879.3 231.3M888 226.7L897 227.7M885.2 223.7L891.4 228.8M885.3 216.8L882.1 224.7M884 223.9L880.8 231M882 223L872.8 227.3M883.6 223.1L875.5 231.6M883.2 222.9L872.1 227.3M883.9 224.2L887.3 232M881.6 222.6L880.8 230.3M881.4 222.5L884.2 233.9M885.9 219.8L877.2 224.7M877.1 224.4L872.6 227M879.4 225.4L870.1 221.6M877.1 225.5L879.3 229.5M878.8 223.3L874 228.3M877.5 225L875.5 227.5M878.7 225.4L874.5 225.9M878.7 225.4L875.4 229.6M878.7 225.4L879 229M888.6 212.9L887.2 208.4M888.6 212.9L892.4 208M888.6 212.9L887.3 206.9M888.6 212.9L894.4 211.1M888.6 212.9L893.1 209.3M890 221.2L891.4 225.3M890 221.2L893.2 220M890 221.2L894 222M891.6 221.2L895 218.2M891.6 221.2L895.1 222.5M891.6 221.2L894.1 218.8M891.3 227.9L891.7 231.4M891.3 227.9L896.2 228.9M891.3 227.9L889.3 232.1M891.3 227.9L891.4 232.8M891.3 227.9L894.7 230.5M876.9 209.1L872 210.3M876.9 209.1L878.7 204.4M876.9 209.1L871.5 208.6M876.9 209.1L875.9 205.7M876.9 209.1L878.7 204.1" stroke="#8e8e8e" stroke-width="0.65" fill="none"/>
<path d="M925.9 213.2L919 212.8M920.8 214.4L911.7 222M920.8 212.3L910.6 204.2M918.7 211.5L907.8 225.9M921.2 214.3L906.7 225.5M921.4 211.9L911 225.4M923.9 215.5L918.9 210.4M920.4 211.8L912.8 198.3M920.6 210.2L907.6 209.6M920.8 211.2L906 204.4M918.5 212.7L921.7 193.8M918.9 212.4L910.1 202.4M918.7 210.6L910.8 203.7M919.8 210.7L911.9 196.8M928 211.5L918.2 203.6M920.7 204.8L928.3 197.6M920 202.6L914.5 197.4M919.7 204.4L912.1 196.9M917.5 204.1L924 196M918.4 203.3L912.9 202.1M922 205.4L909.7 210.2M925.2 215L925.8 204.4M925 205.5L917.5 196.7M925.5 205.6L927.2 197.5M926 206.9L938.6 200.9M927 204.7L919.3 197.3M926.7 205L940.6 196.8M927.7 214.2L934.7 205.2M934.2 203.7L928.3 197.1M933.1 206.2L944.6 204.7M933.9 207.5L926.4 194.5M933.3 206.2L933.5 193.8M935.1 204.6L942.7 198.7M924.8 212.5L932.3 208.3M931.1 208.2L943.2 199.9M931.1 207.8L948.9 213.6M931.8 209.5L928.5 196.3M932.2 208.9L929.2 197M932 208.1L946.6 208M925.3 212.7L939.3 212.7M934.4 211.9L947 210.9M937.6 212.5L942.8 210.1M935.4 213.1L937.8 195.9M939.2 212.2L945 217.4M936.9 213.2L943 212.1M927.6 217.2L934.9 219M933.4 217.9L946.6 208.4M932 217L945.7 210.9M933 219.1L947.5 208.8M933.1 218.3L946.9 218.8M932.4 218.4L935.2 233.8M924.1 216.8L932.4 223.8M931.6 222.3L933 233.7M932.9 224.6L922.3 234.4M932.5 222L934.9 229.7M931.5 222.3L942 224.4M930.2 222.3L945.7 219.7M926 211.6L932.2 225.2M930.4 223.4L945 225.6M931.3 222.3L922.8 233.2M931.2 223.3L941.1 231M931.6 222.3L943.6 221.3M929.1 220.2L934 230.8M928.9 212.9L925 225.2M927.5 222L930.8 230.7M925.8 225.7L915.6 228.9M924.4 224.8L923.8 236.8M925.2 223.6L931.2 236.5M924.9 222.9L928 231.5M926 215.3L922.3 220.1M922.4 218.7L918.1 235.6M922.7 218.3L911.3 226.2M922.2 219.5L917.5 233.1M921.8 218.6L914 233.7M922.7 218L925.2 233.8M921.4 220.2L921.1 232.9M921.7 220.3L917.5 234M923.7 213.4L914.7 219.9M915.1 220.1L913.3 228.1M913.6 220.9L912.1 229.7M918.4 217.6L916.2 231M915.8 218.8L905.6 223.4M915.3 217.9L921 230.9M914.6 219.7L918.9 235.7M916.2 217.6L912.7 231.9M934.1 199.5L932.5 193.4M934.1 199.5L942 197.5M934.1 199.5L939 199.3M934.1 199.5L930.2 194.4M934.1 199.5L941.5 197.4M913.9 222L906.8 221.7M913.9 222L914.6 228.7M913.9 222L910.4 226M913.9 222L912.4 230.6M925.1 203.7L927.1 196.3M925.1 203.7L926.7 197.3M925.1 203.7L925.7 195.5M925.1 203.7L930.6 200.4M925.1 203.7L928.8 196.2M934.7 202.4L939.5 202.4M934.7 202.4L939.7 203.1M934.7 202.4L933.3 196.2M914.3 204.9L906.8 204.2M914.3 204.9L916.2 196.5M914.3 204.9L909.7 198.9M934.1 199.9L931.9 194.4M934.1 199.9L935.6 193.3M934.1 199.9L931.4 192.4M918.4 206.2L921.4 198.4M918.4 206.2L913.3 206.5M918.4 206.2L918.4 199.6M918.4 206.2L913.6 207.8M918.4 206.2L912.9 204.6" stroke="#8e8e8e" stroke-width="0.65" fill="none"/>
<path d="M1192.3 151.2L1187.6 157.1M1189.7 155.4L1175.1 162.1M1188.1 157.7L1178.3 161.4M1188.2 156.9L1176.1 159.6M1189 155.3L1190.7 170.4M1188.5 155.1L1174.8 157.2M1187.6 155.8L1172.4 149.5M1186.3 156.5L1177.4 160.7M1193.2 151.7L1186.6 152.6M1188.3 153.1L1185.3 167M1188.8 152.2L1183.7 168.8M1186.4 152.8L1177.8 148.6M1186.4 151.7L1184.9 165.5M1188.3 152.8L1180.1 165.4M1188.5 152.7L1181.6 162.8M1191.4 151.6L1186.5 149.4M1185.9 149.2L1176.4 143.1M1189.1 148.6L1176.9 138.7M1188.4 148.4L1176 162.9M1186.1 150.2L1180.6 135.4M1187 149.4L1175.7 147.2M1194.5 148.3L1190.3 143.9M1192.5 143.6L1187.5 135.8M1192 146.4L1179.6 138.2M1191 142.8L1191.3 131.2M1191.6 144.9L1174 144.5M1189.5 145L1181.2 141M1191.9 144.3L1179.8 136.5M1189.9 146.3L1186.3 135.9M1190.5 151.1L1192.6 139.4M1194 139.1L1194.3 130.2M1193.2 141.4L1199.6 132.3M1193.6 140.9L1206.4 134.1M1191.6 141.8L1191.3 134.7M1191.9 140.2L1187.2 133M1193.3 149.8L1203.8 144.4M1202.2 144L1201.6 136.2M1203 144.8L1209.6 141.7M1200.3 145.3L1210.9 155.7M1201.2 146L1198.3 134.1M1200.6 146.9L1209.2 156M1192.2 149.6L1204.7 148M1202.7 149.7L1212.8 147.9M1202.1 148.8L1214.7 153.2M1201.3 147.6L1212.7 151.6M1201.7 147L1214.3 145.8M1193.6 150.2L1201.5 155.2M1199.1 152.5L1213.5 150.3M1201.5 155.3L1198.6 170.3M1200.5 153.1L1209.4 145M1199.2 154L1210.9 150.7M1190.9 153.1L1196.9 162.6M1198 161.8L1190 168.6M1196 160.9L1202.1 167.4M1194 159.9L1207.8 159.7M1195.6 161.4L1210 164.7M1196.4 163.3L1205.4 167.4M1197.2 161.2L1188.3 171M1195.3 160.3L1186 170.9M1194.6 150.5L1191.1 158.8M1190.1 157.9L1198.7 168.1M1189.8 159L1178.9 159.7M1191.6 157.7L1186.7 172.1M1190.4 157.8L1189.2 168.7M1191.2 158.4L1188.1 167.9M1203.3 151.4L1210.8 147.9M1203.3 151.4L1210.5 154.9M1203.3 151.4L1210.1 155M1203.3 151.4L1208.6 153.5M1179.1 145.5L1173.3 145.9M1179.1 145.5L1176.3 141.7M1179.1 145.5L1172.8 144.1M1179.1 145.5L1172.3 145.1M1179.1 145.5L1172.8 143.6M1209.5 153.2L1211.5 159.6M1209.5 153.2L1214 158.9M1209.5 153.2L1213.6 157.2M1200.6 141.3L1205.2 138.4M1200.6 141.3L1197.6 136.5M1200.6 141.3L1206 135.1M1200.6 141.3L1205.5 138.7M1204.9 163.1L1209.5 166.3M1204.9 163.1L1209.1 166.7M1204.9 163.1L1207.6 168.1M1204.9 163.1L1208.6 166.1M1204.9 163.1L1207.2 168.4M1200.8 158.9L1208.1 156.2M1200.8 158.9L1205.5 164.4M1200.8 158.9L1207.7 164M1202.3 143.4L1207.7 143.4M1202.3 143.4L1207.9 142.3M1202.3 143.4L1210 145.6M1202.3 143.4L1206.5 145.5" stroke="#8e8e8e" stroke-width="0.65" fill="none"/>
<path d="M1133.2 183.5L1128.8 190.9M1129.3 188.3L1122.2 196.3M1128.9 189.2L1131.1 198.3M1127.4 190.7L1137.4 196.5M1130.2 191.5L1122.1 194.5M1130.7 190.1L1136.4 200M1131.8 187.4L1123.3 190.9M1125 189.8L1125.8 200.8M1123.2 189.8L1126.1 199.1M1124.1 190.6L1127.4 199.1M1124.6 191.3L1118.3 194.3M1123.1 190.3L1115.4 186.5M1122.7 189.7L1118.5 187.2M1132.8 187.6L1122.2 184M1123.2 184.5L1116.9 194.4M1122.5 184.8L1118.3 182.9M1124.4 183.5L1124.5 175.4M1125.1 184.6L1119.4 193.5M1124 184.1L1119.4 175M1131.9 188.4L1123.3 182.1M1124.8 183L1120.5 178.4M1123.9 184.2L1118.6 179.3M1125.6 183.8L1115.2 185.1M1122.8 181.9L1115.6 179.2M1124.6 184.2L1116.6 185.5M1129.8 186.7L1126.5 177.2M1127.1 178.9L1135.2 173.6M1126 178.6L1123.3 175.9M1125.4 179.4L1133.9 170.8M1125.4 178.2L1119.4 181.5M1126.5 177.4L1124.7 172.8M1129 184.5L1132.9 179.1M1132.3 180.8L1138.3 177.2M1131.9 179.1L1127.5 173.7M1131.6 180.1L1126.8 173.5M1133.4 180.5L1128 171.1M1129.5 184.5L1138 179.9M1138.1 179.7L1134 172.1M1136.9 179.3L1131.4 171M1137.8 179.6L1135.6 173M1135.8 179.8L1142.4 177.7M1135.3 179.8L1140.6 177.4M1132.1 186.9L1139 186.4M1137.1 185.9L1140.8 192.6M1138 187.7L1143.6 178.1M1136 185.6L1144.5 190.9M1138 188L1142.5 176.9M1137.5 187L1146 186.6M1135.8 185.8L1141.2 191.3M1128.9 186.9L1133.9 189.7M1132.5 190.7L1137.4 197.2M1133.3 189.4L1135.1 200.7M1133.3 189.9L1132.9 197.7M1134.6 189.7L1141.9 184.9M1131.2 188.5L1134.5 193.7M1132.9 192.5L1139 196.6M1135.5 193.2L1126.6 197.4M1134.9 192.9L1143.3 189.1M1135 194.2L1136.6 198.3M1130.2 175.7L1130.4 171M1130.2 175.7L1132.8 172.8M1130.2 175.7L1126.9 170.7M1130.2 175.7L1132.1 171.6M1122.1 188L1116.9 184.8M1122.1 188L1119 186.8M1122.1 188L1116.8 190M1122.1 188L1116.2 188.3M1122.1 188L1118.2 184.8M1136.4 182.5L1141.4 184.3M1136.4 182.5L1140.7 179.8M1136.4 182.5L1140.4 180.3M1136.4 182.5L1139.8 185.3M1134.5 175.6L1139.3 174.9M1134.5 175.6L1139.6 174.1M1134.5 175.6L1137.4 173M1134.5 175.6L1130.8 170.8M1134.5 175.6L1133.1 171.7M1134.1 191.4L1132.3 195.6M1134.1 191.4L1135.6 195.5M1134.1 191.4L1131.8 195.5M1134.1 191.4L1135.3 196.9M1133.8 192.8L1136.9 195M1133.8 192.8L1131 196.2M1133.8 192.8L1138.5 194.8" stroke="#8e8e8e" stroke-width="0.65" fill="none"/>
<path d="M1091.6 228.2L1098.4 219.2M1096.7 218.6L1094.5 207.8M1097.7 221.8L1098.7 205.1M1097.6 220L1095.9 207M1096.6 221.6L1109.8 216.2M1098.6 218.8L1098.8 207.4M1095.7 226.3L1104.9 217.8M1104.1 219.9L1110.9 227.5M1103.6 218.9L1112.6 217.4M1102.3 218.6L1111.7 228.5M1101.6 221.3L1112.1 217.4M1102.2 220.7L1104.3 208.2M1094.9 224.3L1102.7 225.9M1101.8 226.8L1113 226.6M1101 225.7L1106.9 236.4M1101.8 225.4L1110.7 225.6M1100.7 226.5L1111.1 214.2M1096.7 228.1L1101.9 228.7M1101.8 227.3L1101.2 244.1M1101.7 228.8L1113.3 224.9M1102.1 229.9L1113.9 224.1M1102.9 228.1L1106.5 240.5M1095.7 227.4L1099.7 231M1098.3 230.7L1092.3 243.3M1100.1 231L1110.8 239.5M1100.5 232.2L1108.8 242M1100.2 229.8L1101.4 242.7M1100.1 230.7L1094 243.1M1092.8 225.1L1097.4 234.8M1097.9 233L1084.8 240.5M1095.7 232.3L1092.5 242.1M1097.1 235.5L1102.9 244.9M1095.8 231.2L1082.7 243.8M1091.8 226.5L1092.2 237.8M1092.8 238.4L1081.6 238.2M1091.8 237.3L1098.6 244.3M1093.5 237.4L1096.4 242.8M1091.5 234.9L1102.3 243.7M1097.1 224.7L1087.3 232.3M1088.7 230.6L1078.3 233.6M1089.3 229.9L1088.8 242.2M1088.4 231.8L1082.8 242.4M1090.1 230.5L1080.6 241.4M1089.6 231.6L1092.3 246M1089.2 230.7L1074.1 233.1M1089 230.4L1092.7 244.9M1097 224.5L1087.3 226.1M1089.6 225.5L1075.3 229M1089.5 226.1L1078.8 222.3M1090.2 224.4L1076.2 221.1M1088.9 226.3L1077.1 236.5M1087.2 226.7L1076.6 221.1M1088 226.5L1082.9 237.7M1092.1 222.5L1085.2 221.7M1085.8 222.6L1074.7 216.7M1085.4 223.1L1078.7 227.5M1085.8 222.8L1078.9 230.6M1087.3 221.2L1079.4 219M1085.3 221.5L1077.4 213.2M1086.4 222L1077.9 225M1085.4 221.2L1078.3 225M1092.6 224.7L1084.9 218.5M1086.6 220.6L1077.6 221.5M1085.3 218L1080.4 212.8M1085.3 220.4L1084.4 207.8M1087 218L1078.4 226.4M1087.6 219.7L1078.8 219.9M1087.4 219.1L1074.7 230M1085.8 219.4L1074.7 223.1M1094.7 222.7L1089.2 217.5M1091.6 217.1L1098.3 208.8M1090.1 217.4L1077.3 220.7M1089.5 218.9L1089.4 204.8M1090.8 220.2L1082.9 209.5M1092.7 223.3L1098.2 214.2M1096.1 214.5L1100.6 208M1098.5 214.5L1091.3 207M1097.6 216.7L1098.4 206M1097.6 218.3L1083.7 207.7M1097.7 215.8L1109.7 214.3M1104.9 224.6L1109.2 223.1M1104.9 224.6L1109.6 230.8M1104.9 224.6L1106.9 217.9M1104.9 224.6L1113.5 226.2M1104.9 224.6L1109.7 225.7M1099.2 233.8L1094.3 241.1M1099.2 233.8L1098.8 239.6M1099.2 233.8L1101.8 238.1M1080.8 230.7L1074.9 227.9M1080.8 230.7L1080.1 239.4M1080.8 230.7L1074.2 234.2M1080.8 230.7L1074.6 233M1080.2 220.2L1073.6 221.2M1080.2 220.2L1079.7 215M1080.2 220.2L1075.3 220.9M1080.2 220.2L1074.1 216.9M1080.2 220.2L1075.9 213.7M1081.8 225.8L1076.6 224.3M1081.8 225.8L1075.8 221.6M1081.8 225.8L1077.1 220.6M1081.8 225.8L1074 223.5M1097.9 216.7L1100.8 210.7M1097.9 216.7L1098.3 210.3M1097.9 216.7L1101.8 213M1097.9 216.7L1102.9 215.8M1097.9 216.7L1096.1 209.2M1100.5 216L1108.7 216.4M1100.5 216L1097.6 211M1100.5 216L1103.4 212.3M1100.5 216L1102.6 211.4" stroke="#8e8e8e" stroke-width="0.65" fill="none"/>
<path d="M1142.9 230L1136.6 247.3M1137.1 243.5L1128.4 245.9M1136 244.9L1140.3 255.2M1138.4 243.3L1119.4 236.6M1137 244.8L1117.1 241.1M1147.3 230.2L1136.4 241.3M1139.3 239.3L1127.5 246M1139.7 237.9L1118.3 238.3M1140.6 237.7L1129.2 255.1M1136.2 242L1122.2 246.6M1139.6 240.8L1127 246.6M1144.1 229.4L1130.9 234.8M1135.5 232.1L1127.1 244.2M1133.8 233.8L1121.8 223.2M1132.3 234.8L1133.7 251.8M1133.4 234.8L1131.7 248.8M1134.6 232.4L1121.4 218.1M1147.6 229L1135.6 226.2M1139 227.8L1123.3 211.3M1137.8 226.7L1137.1 207.1M1137.1 226.7L1127.6 213.5M1137.8 226.2L1124.2 212.7M1137.7 225.8L1124.1 218.5M1137.6 225.5L1127.4 206.6M1148.2 233.9L1134.5 216.4M1133.7 216.9L1119.1 226.6M1137.3 218.9L1124.7 220.7M1137.5 218.6L1128.2 214.1M1139 220.1L1119.5 222.4M1134.4 216.8L1147.1 200.7M1136.3 219.6L1152.9 201.5M1136.1 220.1L1132.1 211.9M1143.7 230.3L1146 212.5M1146.4 216.6L1134.2 203.7M1144.5 218.1L1131.2 205.9M1145.6 213L1145.6 204.2M1146.8 216.9L1152.7 209.7M1145.3 230.9L1154.5 216.1M1153.2 219.1L1162.4 210.4M1151.3 218.5L1152.2 205.4M1154.6 217L1154.5 204.5M1153.9 216.5L1151.8 204.4M1151.7 218.1L1174.1 224.7M1153.5 217.8L1166.6 218M1144.5 229.5L1158.1 223.1M1158.2 222.7L1165.1 210.8M1155.3 223.3L1175.7 232M1154 224.9L1149.5 207.8M1155 224.8L1167.7 220.7M1157.6 224.9L1171.5 238.3M1145.6 230.2L1158.8 226.2M1158.9 225.5L1166.5 209.3M1157.8 225L1154.7 208.2M1156.9 227.6L1172.2 222.7M1157.3 226.6L1155.3 205.7M1156.9 226.8L1171.4 236.5M1157.2 226.5L1161.1 214.9M1157.6 226L1159 206.6M1143.6 232.5L1153.4 236.4M1153.9 235.3L1161.1 250.5M1149.6 235.1L1163.4 254.3M1150.1 234.1L1170.3 226.5M1152.3 236L1156.9 252.8M1151.3 237L1156.2 253.8M1152.8 234.5L1171.9 233M1152 234.8L1172.5 228.5M1142.6 232.9L1153.3 238.3M1150.5 236.3L1167.9 239.8M1152.6 239.3L1171.5 241M1151.4 238.4L1169 241.7M1151.4 237.4L1171.7 232.4M1144.7 230.3L1149.5 242.5M1150.5 241.2L1153.3 256.6M1147.1 240.5L1146.6 256M1147.5 240.3L1167.8 250.1M1148.7 239.1L1156.7 252.4M1148.9 241.8L1144 258.3M1150.7 240.6L1168 239.5M1149.6 239.5L1161 247.6M1166.2 224.5L1174.6 222.1M1166.2 224.5L1171.6 214.6M1166.2 224.5L1175.4 223.7M1130.3 235.7L1119.3 234.6M1130.3 235.7L1124.9 229M1130.3 235.7L1127.6 246.9M1130.3 235.7L1124 229M1130.3 235.7L1124.7 232.4M1134.8 219.8L1136.8 210.2M1134.8 219.8L1124.6 223.4M1134.8 219.8L1125 222.1M1157.6 247L1154.5 258M1157.6 247L1158.9 255.1M1157.6 247L1158.1 255.2M1136.5 213.3L1131 204.7M1136.5 213.3L1133.6 206.7M1136.5 213.3L1143.1 204.7M1160.3 220.3L1161.4 213.7M1160.3 220.3L1170.9 222.9M1160.3 220.3L1163.8 211.8M1160.3 220.3L1169.3 216M1160.3 220.3L1166.7 215.3M1146.4 248.8L1147.7 259.8M1146.4 248.8L1138.2 254.9M1146.4 248.8L1139.5 255.7M1146.4 248.8L1146.6 257.7M1146.4 248.8L1140.7 259.8M1127 220.9L1122.3 214.7M1127 220.9L1120.5 215.3M1127 220.9L1117.7 216.9" stroke="#8e8e8e" stroke-width="0.65" fill="none"/>
<path d="M1256.4 192.5L1259.1 199.7M1258.8 198.6L1258.9 212.4M1260.2 199.6L1250.3 208.4M1259.3 198.6L1260.2 209.3M1260.4 200.3L1256.9 209.9M1257.6 197.1L1255.3 211.7M1258.6 199.9L1245.9 207.3M1259.7 192.7L1251.3 202.4M1252.9 201.4L1244.8 203.1M1252.7 201.5L1236.8 196.7M1253.1 200.6L1241.5 201.7M1253 199.8L1240.7 206.2M1258.6 191.5L1247.4 198.3M1247.4 196.9L1242.3 198.4M1248 198.7L1245.2 204.6M1250.2 196L1241.1 203M1248.2 198.2L1244.8 210.5M1256.2 190.3L1245.8 197M1249.5 195.7L1240.8 192.1M1247.5 195.4L1248.3 206.8M1248.1 196.7L1242.9 184M1247.1 194.2L1242.2 187.2M1248.2 196.6L1240.5 193.3M1246.1 195.5L1237.8 198.4M1244.8 196.2L1241.8 184.2M1261 193.3L1250.4 188.5M1252.4 188.5L1239.4 195.9M1251 189.1L1238.5 196M1252 189.2L1251 173.5M1250.8 189.7L1241 194.7M1260.5 189.6L1249.8 185.8M1250.8 187.4L1249.4 174.4M1249.9 186.9L1237.7 195.2M1251.3 184.8L1236.4 189.2M1251.8 185.8L1243.4 176.9M1252.8 187.9L1251.3 177M1253.1 186L1250.1 174.3M1261 193.7L1255.5 180.9M1255.7 185L1241.9 182.3M1256.1 180.4L1260.5 172.4M1257 181.4L1255.7 171.7M1257.8 182.6L1257.5 171.1M1260.4 194.6L1261.9 183.3M1260.3 185.4L1269.2 174.6M1260.6 183.3L1274.1 187.1M1261.8 186L1272.6 177.5M1262.7 184.3L1265.8 172.8M1259.5 191.2L1270.7 186.5M1266.5 187.9L1270.4 178.3M1271.6 186L1275.8 188M1269.2 187.3L1275.6 196.2M1269.2 185.4L1264.4 171.9M1267.1 187.2L1276.4 200.4M1258.3 195L1268.2 192M1268.8 192.5L1271.9 179.4M1266.4 193.5L1277.3 186.3M1266.1 192L1278.4 191.9M1265.6 191.7L1277.3 184.3M1255.1 190.4L1266.3 197.3M1263.1 194.5L1279.7 194.2M1264.5 194.2L1275.4 192.6M1262.6 194.8L1273.8 198.2M1267.5 197.1L1264.4 210.4M1267.5 196.2L1277.8 202.4M1264.2 195.2L1277.7 196.8M1263.8 197.3L1279 199.7M1256 191.3L1264.9 198.3M1262.8 195.4L1275.4 199.6M1264.2 196.9L1276.6 204.7M1263.8 196L1277.1 190.1M1263.9 198.1L1273.9 202.5M1264.4 199L1260.5 212.5M1264.9 198.7L1272.8 209.3M1264.5 205.9L1265.3 213M1264.5 205.9L1272.2 207.8M1264.5 205.9L1271.5 209.8M1264.5 205.9L1272.1 205.6M1264.5 205.9L1267.2 213.6M1251.3 201.6L1248.4 207.1M1251.3 201.6L1246.7 202.7M1251.3 201.6L1251.9 208.8M1268.3 179.5L1273.7 177.3M1268.3 179.5L1267 172.5M1268.3 179.5L1270.7 174.5M1268.3 179.5L1274.4 178.4M1268.3 179.5L1273.3 175.3M1247.8 186.8L1240.6 192.4M1247.8 186.8L1241.5 180.9M1247.8 186.8L1243.1 188.8M1266.4 206.2L1275.6 206.2M1266.4 206.2L1271.7 206.1M1266.4 206.2L1266.5 213.9M1266.4 206.2L1267.2 212.8M1266.4 206.2L1273.6 209.4M1264.2 184.9L1264.7 178.6M1264.2 184.9L1271 179.7M1264.2 184.9L1266.2 178.3M1264.2 184.9L1262.8 179.3M1261.4 179.7L1266 176.2M1261.4 179.7L1266.7 177.1M1261.4 179.7L1259.3 174.9" stroke="#8e8e8e" stroke-width="0.65" fill="none"/>
<path d="M1291.4 243.6L1278 235.3M1277.1 234.8L1285.7 221.6M1281.1 238.1L1278.7 227.8M1277.5 236.7L1280 226.6M1279.6 237.5L1269.6 245.6M1276.9 236.6L1283.8 224.1M1281 236.1L1270.9 238.6M1281 237.7L1267.9 247.5M1290.7 239L1287.7 232.7M1287.6 234.3L1289.3 222.5M1288.9 234.9L1295.8 226.2M1289 234.1L1295.6 220M1288.1 232.6L1276.4 225.7M1287.1 232.1L1301.4 223.4M1289 243.5L1290.2 232.3M1291.7 231.5L1298.8 225.5M1290.7 235.3L1293.1 220.5M1288.9 235.4L1289.9 224.3M1289.7 236.4L1278.7 229.1M1290.5 233.9L1286.8 220.8M1288.9 235L1275 224.9M1288.9 232.6L1281.5 223.7M1291.2 243.3L1294.4 236.6M1294 237.3L1311.3 234.8M1294.9 237.1L1305 226.9M1292.2 239L1309.6 241.3M1292.9 239.4L1306.9 239.3M1292.2 236.9L1292.4 223M1294.6 238.4L1298.2 223.1M1291.3 240.9L1301.4 239.6M1298.9 239.4L1304.4 224.9M1297.9 241.4L1307.5 240.4M1299.6 238.6L1308.2 246.9M1300.1 240.5L1308 236.4M1302 240.2L1303.5 223.9M1301.8 240.4L1304.4 224.5M1288.7 240.5L1299.2 246.1M1295.7 245.9L1310.6 243M1299.6 245.7L1306.2 253.9M1296.3 244.9L1312.8 244.1M1300.4 245.1L1308.4 240.2M1299 244.4L1303.9 259.8M1290 243L1295.3 247.5M1294.9 246.7L1306.3 254.7M1294.3 247.2L1298.5 256.8M1295.6 248.3L1306.5 254.2M1293.4 245.9L1308.2 245.8M1295.4 245.7L1299.2 258M1293.4 247L1296.5 259.2M1290.7 244.1L1289.4 254.3M1290.3 251L1285.5 259.5M1288.6 251L1280.9 258.9M1289 250.1L1300.6 255.1M1288.3 252.2L1301.3 258.8M1289.6 254.2L1283.9 260.7M1288.9 252.6L1282.9 262.1M1291 254.1L1277.6 261.2M1287 240.9L1286.5 248.4M1288.1 246.1L1295.7 260.3M1287.2 246.9L1293.3 259.7M1287 247L1290.1 264.5M1287.1 246.7L1286.5 264.2M1287.7 246.4L1287.7 261.4M1287.7 248.9L1277.4 260.2M1288.9 241.9L1279.9 252M1280.8 252.2L1271.5 253.5M1280.1 250.8L1276.4 255.8M1280.3 250.6L1280.1 256.2M1281.9 250.7L1275.9 255.9M1290.2 242.3L1279.4 244M1280.6 243.5L1268.9 233.1M1282.6 245L1272.6 229M1280.5 242.8L1269.8 245.6M1280.7 244.1L1272.5 234.4M1283.1 242.8L1272.1 234.5M1282.8 244.1L1270 234.2M1299.3 247.2L1301.8 252.1M1299.3 247.2L1302 255.5M1299.3 247.2L1306.9 250.7M1299.3 247.2L1303.5 250.7M1299.3 247.2L1304.7 244.3M1294.9 252.7L1298.4 259M1294.9 252.7L1298 258.9M1294.9 252.7L1299.7 255.2M1294.9 252.7L1294.2 259.5M1294.9 252.7L1297.7 261.2M1280.7 230.4L1282.6 226.1M1280.7 230.4L1273.2 232.8M1280.7 230.4L1271.8 230M1280.7 230.4L1281.3 224.7M1288.1 230.5L1281.5 228M1288.1 230.5L1282.8 225.9M1288.1 230.5L1293 224.5M1288.1 230.5L1281.1 227.9M1288.1 230.5L1288 221.5M1277.2 239.1L1273.9 232.5M1277.2 239.1L1273.3 234.9M1277.2 239.1L1270.7 240.7M1277.2 239.1L1268.4 238.7M1277.2 239.1L1269.6 242M1277.7 252.7L1276.6 258.5M1277.7 252.7L1272.5 256.7M1277.7 252.7L1271.9 254.2M1287.8 254.3L1284.9 262.9M1287.8 254.3L1282.2 257.9M1287.8 254.3L1285.2 259M1287.8 254.3L1286 259.1M1287.8 254.3L1282.8 259.8" stroke="#8e8e8e" stroke-width="0.65" fill="none"/>
<path d="M1416.9 177.7L1403.6 167.6M1405.4 169L1379.8 181.8M1405.3 169.1L1386 164.8M1409 172L1388.9 168.2M1405.1 167L1385.7 177.9M1408.2 169.4L1405.6 144.5M1404 170.1L1407.5 145.7M1413.8 177.2L1411.3 160.6M1410.3 162.5L1393.4 160.5M1410.5 161.8L1399.3 156.2M1412.9 163.6L1389.3 153.7M1411.2 161.8L1398.3 156.2M1411.3 164.4L1414.1 148.4M1413 165.8L1415 150.9M1415.6 179.9L1416.9 162.5M1415.9 166.5L1415.5 146.5M1417.7 163.8L1424.1 145.6M1418 165.7L1422.9 153.6M1418 164.2L1410.4 146.6M1416.3 168L1427.7 152.1M1417.5 165.9L1408.9 147.8M1413.6 177.5L1429.3 168.6M1428.5 168.2L1440.2 153.3M1426.1 170.9L1438.6 162.6M1428.3 168.9L1443.1 182.6M1424.2 170.7L1446.9 175.9M1426.2 170.7L1431.3 155.9M1425.8 170.7L1426.2 148.6M1414.6 180.7L1432.3 173.3M1429.4 175.3L1444.2 166.3M1428.5 174.7L1429.5 157.2M1430.2 173.9L1426.3 151.5M1429 173.1L1449.6 191.5M1430.4 173.8L1429.6 154.1M1415.9 179.8L1434.9 180.3M1435 181.4L1443.8 181.1M1431.3 179.7L1438 152.2M1432.3 178.8L1441.8 174.5M1432.6 181L1445.1 184.5M1429.9 181L1439.5 169.4M1430.5 179.9L1437.9 161.6M1435 181.2L1450.4 178.2M1413.7 179.6L1424.2 186.4M1421.2 186.1L1417 214.6M1421.2 185.1L1448.6 192.4M1420.9 185.9L1436.5 196.4M1425.4 185.6L1434.7 199.9M1421.3 184.3L1441.8 178M1422.6 185.2L1443.3 194.6M1415 182.9L1419.9 191M1418.5 191.2L1428.2 205.5M1420.2 190.8L1426.9 206.6M1418.6 188.2L1444.7 199.5M1418.2 188.8L1441.6 198.9M1419.6 188.2L1419.1 212.3M1413 182.3L1412.8 199.6M1414 198.8L1425.7 208.7M1411.7 196.2L1428.9 207.4M1414.3 195.6L1404.8 211.1M1411.6 197.6L1429.2 205.6M1411.5 195L1403.7 204.4M1414.3 195.8L1392 208M1413.3 196.9L1427.3 206.1M1413.5 181.2L1408.2 191M1408.7 189.7L1423.3 209.1M1407.9 191.2L1393.7 203.8M1406.9 190.4L1395 210.3M1410.7 188.4L1393.6 206.1M1409.5 189.9L1392.8 200.9M1407.8 190.9L1414.7 214.5M1407.3 191.3L1381.6 187.5M1417.8 177.2L1402.7 183.6M1406.1 181.4L1396.5 211.8M1403.7 182.9L1395.6 198.7M1405.1 183.1L1382.8 182.2M1405.6 180.5L1385.9 186M1412.4 178.1L1399.6 179.6M1402.5 179.7L1386.1 199.9M1401.7 177.9L1386.1 158.3M1401.4 179.1L1384.8 159M1403 179.6L1390.9 193.7M1401.9 179.4L1391.4 161.4M1403.8 178.9L1388.3 172.5M1409.2 200.7L1417.3 207.1M1409.2 200.7L1411.1 214.5M1409.2 200.7L1410.7 212.1M1409.2 200.7L1404.1 206.8M1420.6 159.6L1434.4 154.2M1420.6 159.6L1424.4 151.1M1420.6 159.6L1421.2 147.5M1405.1 205.6L1394.3 207.5M1405.1 205.6L1403.7 215.2M1405.1 205.6L1410.5 210.9M1405.1 205.6L1405.7 213.1M1408.1 164.6L1399.2 158.8M1408.1 164.6L1414.3 152.7M1408.1 164.6L1403.9 157.1M1396.6 159.3L1391.9 151.1M1396.6 159.3L1385.1 159.3M1396.6 159.3L1388.8 153.9M1396.6 159.3L1390.9 152.1M1430.2 166.1L1435.1 159.6M1430.2 166.1L1432.9 154.1M1430.2 166.1L1429 154.9M1430.2 166.1L1437.4 154.4M1430.2 166.1L1440.7 160.6M1422 165.9L1430.5 163M1422 165.9L1433.6 157M1422 165.9L1429.8 166.1M1422 165.9L1422.4 156.8M1422 165.9L1429.3 161.1M1396.9 184.3L1387.3 189.2M1396.9 184.3L1383.8 190.8M1396.9 184.3L1386.5 179.4M1396.9 184.3L1391.3 190.3M1396.9 184.3L1390.7 191.9M1432.5 179.2L1440.9 175.9M1432.5 179.2L1437.5 166.9M1432.5 179.2L1441.3 189.1M1432.5 179.2L1441.7 175.4" stroke="#8e8e8e" stroke-width="0.65" fill="none"/>
<path d="M1467.9 365.8L1463.6 352.6M1463 353.8L1456.5 351M1463.7 353.5L1474.7 346.6M1462.6 354.8L1449 356.3M1464.2 355.8L1478.8 349.6M1465.6 354.7L1479.1 351.3M1463.9 352.5L1450.5 352.2M1464.2 367.3L1468.9 355.3M1467.8 359.2L1484.8 354.8M1467.2 358.7L1482.8 357.8M1468.8 358.8L1463.7 347.5M1469.4 355.8L1474.1 344.5M1468.6 355.2L1467.8 346.2M1467.4 368L1476.5 357.5M1476.7 356.7L1480.2 356.4M1472.5 361.4L1483.3 359.5M1475 356.6L1487.3 360.4M1476.1 358.9L1483.2 363.6M1475.3 356.6L1471.2 343.6M1476.3 358.4L1479.8 350.6M1475.6 358.7L1468.2 346.4M1467.5 368.2L1476.9 364M1477.3 362.9L1484.1 355.1M1474 365.1L1487.2 374M1475.1 364.5L1486.3 366.7M1476.6 364.5L1483.4 369.6M1476.4 362.9L1482 352.1M1463.8 367L1472.9 365.6M1472.9 365.2L1479.8 352.2M1471.4 365.8L1482.5 352.9M1470.4 365.9L1484.7 372.2M1471.5 366.5L1485.9 360.4M1471.8 364.6L1483.9 368.6M1463.9 368.9L1475.1 373.7M1474.2 373.4L1487.8 365.9M1472.3 371.5L1480.8 376.7M1472.4 373.8L1486.1 362.3M1472.1 372.5L1473.1 383M1468.1 364.5L1471.2 376.9M1471.2 377.5L1470.9 383.4M1471.9 375.7L1482.6 379.1M1470.4 374.4L1479.7 382.2M1470 376.7L1472.3 386.5M1471.4 375.1L1482.8 374.8M1468.3 367.3L1464.3 379.1M1465.6 378.2L1457.5 386.2M1465.4 379.2L1473.5 388.1M1466 374.7L1456.4 385.2M1465.4 376.6L1476.5 380.5M1463.5 377.4L1448.8 379.8M1463.2 365.4L1463.8 375.1M1465.1 373L1469.5 389M1463.9 372.4L1459.3 382.8M1464.5 372.4L1468.2 388.5M1464.1 375.5L1468.1 386.9M1463.4 373.7L1455 380M1464.7 372.9L1460.9 384.8M1468.4 368.4L1456.2 377.2M1458.2 376.2L1454.7 380.6M1457.4 374.7L1444.7 375.2M1458.5 375.7L1461.3 388.8M1458.8 375L1446.2 368.2M1463.6 365.4L1454.8 368.9M1456.9 369.4L1448.5 372.9M1455.3 369.5L1449.6 374.2M1456.1 369.9L1445.9 363.9M1456.1 367.2L1455 381.5M1463.1 365.1L1453.8 363.4M1455.3 363.6L1454.5 353M1456.4 362.9L1449.6 378.2M1454.4 364.9L1442.3 368.2M1455.8 364.5L1450.8 355.3M1465.6 365.2L1458.9 362M1459.5 362.8L1448.7 355.7M1459.7 360.9L1446.7 369.9M1461.1 362.1L1445.6 370.8M1458.2 363L1456.1 352M1460.4 363.5L1445.6 371.2M1459.6 362.2L1451.5 353.7M1459.3 362.4L1460.8 348.8M1467.2 349.3L1459.9 343.4M1467.2 349.3L1469.7 343.9M1467.2 349.3L1472.9 343.5M1470 383.5L1469.7 390.1M1470 383.5L1466.7 389.9M1470 383.5L1475.6 386.5M1470 383.5L1471.1 388.4M1470 383.5L1475.1 387.2M1457.2 358.3L1458.5 352.1M1457.2 358.3L1453.5 353.8M1457.2 358.3L1448.1 361.1M1457.2 358.3L1451.4 359.8M1457.2 358.3L1452.6 350.7M1464.3 356.4L1458.8 349.9M1464.3 356.4L1461 352.3M1464.3 356.4L1457.5 353.8M1468.1 380.3L1473.8 384M1468.1 380.3L1469.4 387.4M1468.1 380.3L1471.6 385.6M1468.1 380.3L1470.3 388.2M1481.6 371.6L1489.3 371M1481.6 371.6L1487.2 376.2M1481.6 371.6L1486.6 366.4M1481.6 371.6L1486.8 372.9M1481.6 371.6L1486.7 378M1458.5 350.9L1459.4 345.9M1458.5 350.9L1461.3 346.2M1458.5 350.9L1455.2 347.3M1458.5 350.9L1453 349.2" stroke="#8e8e8e" stroke-width="0.65" fill="none"/>
<path d="M1460.1 419.9L1439.6 416.4M1441.3 417.1L1434.7 416.1M1442.1 417.6L1435.1 436M1441 417.7L1436.5 401.4M1444.2 417.2L1432.8 419.9M1439.8 416.3L1430.6 419.2M1444.8 418.7L1435.3 400.7M1443.2 418.2L1434.4 410.7M1459.4 420.1L1449.3 403.2M1451.4 406.4L1443.4 390.5M1451 406.3L1427.5 413.2M1448.9 405.4L1432.3 403.5M1451.4 406.5L1433.7 414M1450 404.4L1459.2 393.2M1457.6 422.3L1454.9 406.3M1454.1 408.5L1443 394.6M1456.8 410.2L1444.6 399.5M1455.4 411.9L1461.3 391.9M1456 409L1444.3 396.7M1460.5 422.4L1469.2 406.2M1465.9 411.4L1489.3 411M1466.5 409.6L1492 414.7M1469.5 407L1475.3 391.2M1468 405.2L1485.4 412.4M1469.5 405.5L1491.2 408.8M1466.7 410L1473.7 397.3M1468.4 406.1L1490.1 411.9M1456.9 418.1L1473.7 405.6M1470.3 408.1L1486.4 420.8M1469.1 409.2L1492.7 415.2M1471.8 406.3L1460.4 389.2M1472.2 407.4L1468.1 392.7M1458.1 419.8L1472.3 421.5M1467.8 421.2L1488.6 434.4M1469.4 420.1L1478.6 445.2M1468.9 422.2L1487.6 405.2M1468.2 420.4L1490 413.3M1461.7 417.8L1469.3 427.9M1469.6 425.5L1484.4 428.8M1470.5 427.6L1487 417.4M1466.8 424.2L1484.6 428.3M1468.3 425.1L1484.6 434.9M1457.4 420.9L1461.5 430M1461.6 430.1L1449.5 450.3M1459.8 430.8L1485.3 435.3M1460.6 430L1443.7 449M1462.6 429.4L1445.7 440.7M1456.8 422.5L1459.8 439.2M1460.9 438.8L1437.3 441.5M1457.8 437.4L1437.4 443.2M1459.4 436.2L1462.1 444.7M1460 436.8L1453.3 450.7M1459.8 420.9L1447.1 431.3M1447.8 429.4L1427.8 429.3M1449.2 429.2L1433.6 441.2M1449.1 430.1L1432.3 421.6M1447.8 430.7L1437.1 441.7M1448.5 431.5L1432 427.6M1449.7 429.3L1430.3 424M1451.6 427.9L1433.1 422.2M1456.8 422L1442.8 426.2M1444.5 426.8L1438.1 438.5M1443.6 424.6L1427.5 408.2M1445.6 425.7L1440.7 438.3M1445 425.1L1430.5 435.1M1446.2 398.6L1443.4 390M1446.2 398.6L1438.1 394.6M1446.2 398.6L1452 390.1M1446.2 398.6L1434.3 399.7M1446.2 398.6L1444.1 389.6M1443.3 402.9L1435.1 397.8M1443.3 402.9L1444.6 395M1443.3 402.9L1434.3 400.2M1475.7 437.4L1485.4 433.9M1475.7 437.4L1480.7 446.4M1475.7 437.4L1483.9 434.9M1436.8 425.5L1429.6 427M1436.8 425.5L1427.1 422.7M1436.8 425.5L1429.2 420.9M1436.8 425.5L1429.4 416.6M1436.8 425.5L1429.3 419.9M1474.2 410.2L1483.3 414.1M1474.2 410.2L1475.4 397.2M1474.2 410.2L1483.1 406.8M1461.9 437.9L1469.1 442M1461.9 437.9L1454.7 443.2M1461.9 437.9L1466.3 447.2M1461.9 437.9L1454 443.9M1443.1 417.5L1433.1 412.6M1443.1 417.5L1432.6 409.4M1443.1 417.5L1431.9 412.1M1442.8 412.9L1431.5 410.3M1442.8 412.9L1432.1 410.7M1442.8 412.9L1441.9 399.8M1474.4 406L1482.6 406.4M1474.4 406L1476.9 397M1474.4 406L1484.8 397.7M1474.4 406L1475.5 397.7M1474.4 406L1481.2 399.8" stroke="#8e8e8e" stroke-width="0.65" fill="none"/>
<path d="M1504.8 403.5L1500.9 408.8M1500.1 407.7L1494.5 415.6M1501.6 407.8L1497.2 416.8M1500.6 408.3L1492.1 406.3M1501 408.9L1504.1 418M1500.3 409.1L1494.7 405.9M1500.2 407.3L1494.5 410.6M1503.8 405L1498.3 404.7M1497.9 405.9L1492.8 410.2M1499.6 405.8L1490.7 402.3M1501.2 405.2L1496.6 392.7M1499.4 404.5L1492.1 398.4M1499 403.9L1496.2 396.6M1509.4 406L1502.3 400.1M1501.6 400.1L1491.9 402.4M1502.7 401.3L1492.2 400.3M1504.8 402.7L1496.9 397.1M1502.1 400.9L1497.9 397.2M1501.8 401.1L1493.1 403.7M1505.2 400.3L1497.6 396.8M1504.1 405.6L1503.7 395.9M1503 397.7L1506.4 392.8M1503.4 399.7L1513.3 392.7M1504.2 397L1511.3 394.1M1502.5 397.3L1498.7 394.5M1503.3 396.9L1492.1 398.4M1505.2 395.4L1497.7 392.9M1507.5 404.2L1510.9 399.3M1510.3 400.5L1518.6 400.7M1509.4 400.9L1505.3 392M1509.8 399L1510.6 390.2M1511.5 398.8L1509.5 389.6M1510.1 400.2L1515.9 398.2M1512.2 398.6L1520.7 398.3M1509.8 400.5L1511.2 392.2M1505.9 405.4L1511.6 404.2M1510.7 404.2L1519.1 406.3M1510.3 403.1L1522.1 407.1M1512.3 404.7L1518.7 406.1M1510.6 403L1520.6 407.2M1504.8 405.5L1511.3 407.4M1510.5 406.8L1521.9 406.9M1512.2 408.3L1518.3 411.1M1509.7 407.9L1521.5 404.4M1510.3 406.7L1518.6 413.4M1509.9 407.8L1518.5 414.2M1507.6 402L1510.9 410M1510 407L1509.6 418.7M1510.1 409.5L1508.1 416.4M1509 407.8L1512.3 419.4M1510.8 408.3L1519.5 406.9M1505.7 402.5L1506.5 411.4M1506.3 409.4L1505.9 416.9M1507.4 409.3L1497 413.5M1504.9 409.4L1498.4 416.8M1505.2 410.6L1503.9 418M1503.7 407L1503.8 412.2M1504.6 412.9L1504.9 418.6M1504 411.1L1510.1 418.7M1504.4 411.2L1503.1 419.3M1504 409.9L1505.2 416.8M1504.9 411.7L1502.6 418.9M1503.4 411.4L1503.5 419.7M1502.9 410L1508.3 416.5M1499.8 408.1L1494.2 410.2M1499.8 408.1L1493.6 407.6M1499.8 408.1L1499.8 412.8M1499.8 408.1L1494.3 405.2M1499.8 408.1L1495 405.4M1514.1 410.4L1513.9 414.3M1514.1 410.4L1518.5 413.5M1514.1 410.4L1517.7 409.8M1498.3 405.1L1493.2 407.7M1498.3 405.1L1494.9 401.5M1498.3 405.1L1492.9 407.5M1498.3 405.1L1496 408.8M1498.3 405.1L1495.6 403.2M1496.2 406.8L1490.5 404.4M1496.2 406.8L1493.6 409.3M1496.2 406.8L1492.2 407.4M1496.2 406.8L1490.9 407M1505.7 413.4L1506.3 417.1M1505.7 413.4L1502.4 415.5M1505.7 413.4L1502.8 414.7M1505.7 413.4L1505.5 416.8M1505.7 413.4L1502.5 417.6M1513.2 406.4L1516.8 405.8M1513.2 406.4L1513.9 410M1513.2 406.4L1514.8 409.6" stroke="#8e8e8e" stroke-width="0.65" fill="none"/>
<path d="M1542.8 470.7L1545.4 462.5M1546 464.1L1552.3 452M1545.7 464.7L1547.8 448.7M1543.9 462.6L1553.6 456M1544 465.2L1559.9 467.2M1545.5 463.7L1556.9 456.3M1542.6 470.1L1547.8 464.8M1548.6 465.3L1545.7 452.8M1547.8 466.3L1546.6 452.1M1547 465.1L1557.8 469.9M1545.6 466.7L1560.6 474.5M1547.8 464.2L1559.2 466M1546.5 465.1L1552.9 457.3M1538.1 468.2L1548 468.7M1545.1 469.4L1556 479.6M1545.1 467.7L1555.4 460.8M1546.2 469.3L1556.4 455.9M1547.3 468.2L1558.4 476M1545.2 469.9L1561.9 469M1545.8 467.8L1560 465.8M1545.8 467.9L1559 473.4M1543.6 466.5L1548.4 474.8M1547.2 474.7L1562.6 468.7M1546.5 473.8L1549 487.9M1546.3 474.4L1546 489.2M1546.8 471.7L1555.1 480.7M1549.1 473.7L1559.1 478.8M1538 466.7L1545.8 478.9M1543.8 476.3L1552.1 486.4M1545.2 477.7L1552.3 482.1M1544.1 477.6L1557.5 479.1M1544 478.6L1548.9 488.7M1546.5 478.8L1536.3 487M1546 476.9L1536.4 486.1M1543.9 476.1L1546 488.2M1539.3 467.4L1541.3 476M1539.8 473L1554 485M1541.4 474.1L1527.5 484M1541.9 474.7L1530.1 480.8M1540.2 473.9L1531.9 482.1M1538.5 465.9L1535.4 479.3M1535.8 477.5L1546 489.7M1535.7 476.9L1526.7 480.6M1535.5 480.2L1526.1 482.8M1534.7 479.5L1524.8 477.4M1543.7 469.6L1530.1 474.4M1533.2 473.2L1528.4 480.3M1534.1 472L1524.5 462M1531.8 474.2L1525.1 469.2M1532.5 473.6L1527.5 483.8M1540.2 470.6L1532.4 468.2M1532.4 469.3L1529.5 480.1M1533.3 468.6L1523.5 481.4M1533.4 468.5L1524 473.6M1534.8 468.7L1523.1 475.8M1535.2 469.9L1522.9 456.2M1538.2 466L1528.9 462.6M1531.5 463.5L1521.9 474.9M1530.8 463.1L1530.3 456.5M1531.4 463.8L1525.2 459.9M1531 464.8L1521.9 458.1M1529.5 462.5L1523.7 472.8M1540.3 466.7L1534.6 459.7M1534.5 460.3L1520.4 463.2M1535 459.7L1525.6 460.9M1536.1 459.7L1523.2 463.5M1534.7 462.3L1531.4 455.6M1535.3 461.2L1545.1 452.3M1542.1 469L1538.6 458.5M1539.3 460.8L1530.4 451.4M1538.8 461.4L1544.3 449.7M1539.1 457.7L1528 456.3M1537.2 459.7L1530 457.1M1555.5 464.1L1559.1 467.6M1555.5 464.1L1561.5 469.1M1555.5 464.1L1561.5 468.6M1555.5 464.1L1556 457.2M1555.5 464.1L1559.6 465.8M1542 459.7L1542.6 454M1542 459.7L1542.1 451.9M1542 459.7L1543.6 451.7M1543.2 477.4L1540.7 481.7M1543.2 477.4L1546.2 481.1M1543.2 477.4L1544.1 485.2M1543.2 477.4L1547 479.8M1552.4 474.5L1556.8 481M1552.4 474.5L1554.5 480.3M1552.4 474.5L1556.6 476M1545.7 483.7L1542.6 490.7M1545.7 483.7L1539.9 489.7M1545.7 483.7L1549.6 489M1542.9 459.5L1539.8 452.7M1542.9 459.5L1546.3 453.3M1542.9 459.5L1540.1 451.9M1542.9 459.5L1544.6 451.7M1542.9 459.5L1544.1 451.1M1535.2 458.6L1529.5 457.6M1535.2 458.6L1532.4 451.5M1535.2 458.6L1529 457.5M1535.2 458.6L1528.2 458.7M1535.2 458.6L1534 453.6" stroke="#8e8e8e" stroke-width="0.65" fill="none"/>
<path d="M1500.7 536.3L1506.5 530.9M1505.8 531.2L1521.8 531M1505.6 532L1511.9 516.4M1506.5 531.5L1519.8 529.7M1506.2 530.1L1522.1 531.9M1502.7 534.9L1510.8 532.9M1508.9 533.9L1517 541.3M1511.8 532.9L1521.9 534.4M1509.4 533.6L1514.2 547.5M1510.2 534.2L1517.7 545.8M1508.1 533.3L1519 539.1M1508.3 532.3L1519.2 524.2M1501.6 535.4L1512.5 542.3M1512.1 541.8L1518.7 537.4M1512 540.3L1518.6 543.1M1512.2 542.5L1506.5 556.7M1512.9 541.3L1502.9 551.7M1511.6 543.1L1508.7 551.4M1509.7 541.3L1511 549.5M1502.6 531.6L1502.3 543M1500.9 541.4L1507.9 555.2M1501.1 542.8L1498.4 553M1502.7 541.5L1516 542.9M1502.2 541.5L1514.9 551.4M1501.3 541.2L1514.7 550.9M1503.1 542.7L1504.1 551.6M1501 539.7L1494 556.1M1498 532.3L1496.5 546.4M1495.5 546.1L1483.6 549.4M1495.7 542.9L1495.6 552.3M1497.3 544.8L1507.9 555.8M1496.7 544.9L1506.2 554.4M1496.7 545.2L1500.9 557.4M1495.8 544.2L1496.2 554.3M1497 542.8L1505.1 557.9M1500.4 532.1L1490.3 541M1491.2 541.6L1476.5 532M1492.1 539.5L1482.2 532.6M1491.6 539.9L1476.6 535.2M1490.3 540.4L1478.4 535.2M1500.3 535.1L1487.5 536.6M1488.8 536.4L1480.9 533.5M1488.5 536.4L1484 520.8M1489.8 536.9L1481.1 524.1M1491.4 535.6L1484.6 525.7M1488 537.7L1483.7 551.1M1490.2 537.3L1483.2 539.3M1501 535.9L1490.2 526M1492.1 528.5L1481.9 533.3M1490.1 524.9L1493.4 517.5M1491.9 528.1L1494 512.2M1493 529.1L1489.8 514.3M1490.8 527.5L1478.5 528.8M1490.6 526L1491.5 513.6M1502.6 533.5L1495.3 526M1496.1 527.2L1490.5 518.4M1496.7 527.9L1507.4 516.6M1497.7 526.5L1503.2 513.9M1496 525.5L1491.7 518.3M1495.1 528.6L1499.7 510.8M1497.2 535.1L1502.8 522.7M1500.8 524.4L1494.2 512.3M1500.6 524.6L1494.6 511.6M1501.7 527.1L1503 514.1M1503.7 524.2L1509.3 513.4M1502.2 524.8L1511.9 519.8M1503.3 522.3L1501.6 513.7M1488.7 548.3L1491.3 554.8M1488.7 548.3L1482.2 546.2M1488.7 548.3L1489 553.9M1488.7 548.3L1487.1 554.8M1488.7 548.3L1482.1 550.4M1508 525.6L1513.4 521.7M1508 525.6L1515.1 521.2M1508 525.6L1514.4 525.1M1508 525.6L1506.4 520.6M1508 525.6L1513.1 519.2M1493.6 521.1L1496 516.4M1493.6 521.1L1493.6 514.4M1493.6 521.1L1484.6 519.3M1483.8 539L1477.4 542.6M1483.8 539L1478.9 534.7M1483.8 539L1481.7 546.4M1489.4 534.4L1480.5 533.5M1489.4 534.4L1487.5 529.3M1489.4 534.4L1482.1 536.4M1489.4 534.4L1483 531.6M1503 544.6L1501.3 550.5M1503 544.6L1507.6 551.5M1503 544.6L1500.4 549.8M1486.7 544.3L1483.6 550M1486.7 544.3L1480.7 545.1M1486.7 544.3L1481.3 543M1486.7 544.3L1481.2 545.2M1486.7 544.3L1488.4 551.1" stroke="#8e8e8e" stroke-width="0.65" fill="none"/>
<path d="M1447.8 567L1440.9 570M1442 569.5L1435.7 581.6M1441.8 570.1L1431 580M1440.8 568.9L1436.6 584.1M1441.8 569.1L1433.7 578.3M1439.8 570.6L1446.9 585.2M1446 565.2L1433 563.4M1433.1 562.7L1433.7 552.9M1437.2 565L1434.1 553.5M1431.9 564.4L1430.7 574M1432.2 562.4L1430.7 549.8M1450.2 565.3L1441.4 560.2M1443.6 560.5L1440.7 543.8M1441.2 559.7L1427.6 554.6M1445.1 561.2L1438.8 544.8M1441.6 559.5L1431.9 556M1443.1 561.4L1446.5 545.5M1443 560L1428.5 569.9M1449.6 565.8L1442.1 554.7M1444.1 557L1449.3 542.5M1444.4 557.7L1426.4 557.8M1443.8 558.5L1442.2 546.8M1444.6 558.3L1447.5 546.4M1445 563.7L1451 551.7M1449.4 553.8L1457.9 545.1M1450.3 554L1443.4 545.7M1450.4 552.5L1452.9 548M1450.4 555.7L1436.6 546.2M1450.4 555.2L1448.7 544.3M1446.3 567.5L1456 557.2M1453.9 557.8L1461.2 545.5M1454.5 557.3L1461.3 549.5M1454.6 560L1446.8 544.9M1455.9 557L1463.6 550.6M1454.2 558.6L1460.2 551M1454.7 557.5L1452.6 545.9M1454.1 558.8L1469.1 555.1M1447.7 567.2L1457 560.2M1458.3 558.9L1460.7 545.4M1455.9 561L1466 570.7M1453.4 562.1L1469.5 556.5M1454.5 561.9L1456 547.1M1455.4 560.9L1467 572.3M1455.7 563.5L1460.3 550.4M1456.6 560.5L1468.5 574.2M1449.7 566.2L1461.3 565.8M1460.4 566L1466.4 552M1458.7 567.1L1465.8 552.6M1457.8 565L1465.5 575.5M1458.1 564.6L1458 579.5M1459.7 564.5L1469.1 564.8M1458.9 564.9L1464.6 561.8M1457.7 564.8L1461.9 582.8M1446.2 561.8L1456.6 571.5M1455.3 570.1L1454 581.9M1453.8 568.1L1464.6 567.3M1454.6 569.1L1463.9 572M1456 569.6L1466.6 565.1M1445.8 566.8L1450 573.3M1448.2 572.3L1457.5 585.3M1447.4 570.3L1438.3 579.5M1448.2 570.4L1453.9 581.1M1451 572.4L1436.2 581M1448.4 571.2L1458.4 579.6M1446.5 565.3L1441.2 573.3M1442.7 570.8L1433.8 580.5M1440.1 573L1433 575.7M1442.8 571L1436.1 582.2M1441.9 570L1451.1 587.9M1435.5 570.7L1428.3 574.5M1435.5 570.7L1429.9 577.7M1435.5 570.7L1427.3 574.6M1435.5 570.7L1428.9 569.8M1435.5 570.7L1433.3 576.6M1439.6 556.2L1434.1 556.5M1439.6 556.2L1431.7 551.5M1439.6 556.2L1439.9 551.4M1439.6 556.2L1431.3 553M1439.6 556.2L1436.5 552.5M1460 559.9L1465.1 560.6M1460 559.9L1466.7 558.6M1460 559.9L1465.8 552.9M1460 559.9L1468 562.3M1460 559.9L1461.1 551.3M1438 559.4L1429.2 562.7M1438 559.4L1434.3 556.3M1438 559.4L1429.3 559.9M1438 559.4L1429.6 554.7M1454.9 552.7L1464.3 553.8M1454.9 552.7L1455.4 544.3M1454.9 552.7L1452.9 547.8M1454.9 552.7L1458.5 546M1454.9 552.7L1462.2 553.1M1459.7 576.7L1463.5 582.4M1459.7 576.7L1464.5 578.3M1459.7 576.7L1460.9 581.8M1437.4 568.3L1436.5 573.4M1437.4 568.3L1432.1 565.7M1437.4 568.3L1434.2 574.8" stroke="#8e8e8e" stroke-width="0.65" fill="none"/>
<path d="M1574.4 715L1582.8 720M1583.7 721.3L1581.2 733.7M1580.1 718.7L1589.5 723.8M1581.3 718.8L1591.1 710.7M1580.8 719.4L1589.8 710M1580.9 719.9L1587.4 723.2M1583.4 720.5L1593.4 724.5M1571.7 715.2L1578 722M1576.6 721.7L1587.6 724.3M1577.7 720.7L1575.5 734.2M1576.4 722.2L1584.7 733.7M1576.7 721.3L1583 731.2M1573.5 714.7L1573.8 728.7M1573.8 726.6L1558.6 735.3M1572.5 727.2L1582.7 730.1M1573.7 725.4L1570 734.5M1572.6 723.9L1567.5 735.2M1573.2 724.7L1590.1 731M1573.2 717.1L1572.5 727.6M1572.3 727.6L1556.6 730.9M1571.4 728.3L1564.7 732.2M1573.8 726.3L1576.2 737.9M1573.3 724.8L1565.9 732.6M1571.3 726.8L1585.9 730.7M1570.5 719.8L1567.8 726.2M1569.2 724.4L1580 733.2M1569.7 723.6L1556.6 724.9M1566.9 724.7L1553 728.3M1567.7 725.1L1572.7 736.9M1568.9 727.2L1553.6 721.5M1568.9 725.3L1578.9 738.8M1574.9 715.5L1562.2 723.7M1566 721.5L1553.3 721.4M1562.2 723.1L1562.3 736.1M1564.5 723.6L1551.9 713.5M1563.3 722.7L1555.4 716.4M1564.5 722L1550.7 715.4M1574.9 718.9L1562.9 716.2M1562.1 716.8L1555 704.5M1564.4 718L1555.8 702.2M1563.5 717.4L1551.9 721.4M1563 717.8L1552 708.5M1566.5 716.5L1555.9 710M1564.5 715.2L1550.7 715.9M1570.6 717.1L1561.6 712.4M1561.4 713.1L1559 705.7M1562.4 713.5L1563.6 701.2M1564.1 712.1L1551.3 721.7M1561.7 713.4L1551.2 715.1M1563.3 713.2L1554.8 713.4M1569.8 717.9L1564.2 706.7M1565.1 709L1568.2 697.9M1566 710.6L1558.7 706M1564.3 709.6L1573.8 699.2M1565.2 707.8L1559.8 705.2M1564.5 708.6L1565.2 696.4M1564.5 707.9L1555.5 701.7M1564.7 709.1L1550.2 711.3M1572.7 718.1L1571 710M1570.6 710.7L1563.7 695.7M1570.1 710.1L1562.9 700.8M1570.2 712.7L1579.5 696.5M1571.6 712L1584.4 701.1M1570.1 710L1578.3 697.2M1571.6 711.5L1557.3 705.3M1571.7 711L1573.9 699.5M1571.1 720L1576.6 707.9M1574.7 709.6L1577.6 699.2M1576.6 711.7L1587.8 706.1M1576.3 708.1L1573.8 697.4M1574.4 709.9L1580.6 701M1571.9 714.9L1580.5 707.4M1579.3 708.7L1587.7 704.6M1578.1 708.3L1578 698.9M1578.5 709.7L1575.5 699.4M1579.8 708.8L1586.5 706.8M1573.7 718.4L1581 714.3M1577.6 714.4L1581.3 701.3M1580.5 715.7L1580.1 700M1580.8 715L1580.1 697.9M1579.7 713.9L1587 709.8M1579.2 714.4L1592.6 725.7M1570.2 702.4L1568 697.7M1570.2 702.4L1573.6 695.7M1570.2 702.4L1566 694.8M1570.2 702.4L1572 695.1M1560.9 717L1557.1 724.2M1560.9 717L1556.8 710.4M1560.9 717L1553.1 718.7M1585.5 714.9L1591.9 718.5M1585.5 714.9L1592 711.2M1585.5 714.9L1592.2 715.1M1579.7 730.9L1581.9 735.5M1579.7 730.9L1574.9 737.4M1579.7 730.9L1578.7 737.1M1574.3 728.2L1580.9 731.6M1574.3 728.2L1571.2 733.6M1574.3 728.2L1572.9 735.6M1561.6 720.8L1560.6 725.4M1561.6 720.8L1556.9 721.7M1561.6 720.8L1557.9 724.7M1556.9 716.9L1549.4 717.1M1556.9 716.9L1552.5 710.4M1556.9 716.9L1552.1 717M1556.9 716.9L1549.7 719.6M1556.9 716.9L1551.4 721.7" stroke="#8e8e8e" stroke-width="0.65" fill="none"/>
<path d="M1771 1003.9L1774 1010.6M1774.3 1008.1L1790.8 1010M1772.7 1009.6L1773.9 1017.5M1775.1 1011.2L1764.8 1019.5M1773.7 1011.6L1767.1 1022M1773.4 1008.9L1790.5 1013.3M1773.4 1009L1783.9 1014.8M1775.2 1011L1786.8 1016.2M1771.9 1003.7L1769.4 1009.7M1770.5 1007.9L1773.9 1022.3M1769.7 1007.3L1769.1 1020M1770.4 1008.5L1769.5 1021.5M1770.9 1008.9L1762.1 1015.9M1768.6 1007.5L1765.1 1018.5M1769.6 1008.2L1769.2 1019.6M1772.9 999L1766 1006M1766 1004.7L1753.8 1004.3M1767.6 1005.3L1759.2 1020M1768.2 1005.1L1755.1 1009.7M1765.4 1004.5L1753.8 1008.6M1767.2 1005.3L1751.6 1006.9M1767.9 1004.7L1759.5 1019.9M1766.1 1005.1L1761.1 1018.1M1771.4 1001.9L1761.3 1004.1M1760.6 1004.1L1759.8 1018.8M1763.4 1002.6L1754.2 1007.4M1760.3 1003.8L1753.9 1005.4M1763.9 1002.7L1750.1 1004M1769.8 998.4L1763.3 997.9M1764.1 999L1755.1 1005.2M1762.4 997.7L1755.2 989.6M1764.1 997.4L1756 984.8M1764.3 996.5L1763.8 984.5M1761.9 999.4L1763.8 983.3M1764.1 996.8L1752.2 1007.2M1765.6 999L1762.6 984.8M1774 1002.6L1769.3 990.6M1769 992.6L1755.5 989.1M1771.5 994.3L1755 986.7M1772.1 995L1755.4 986.3M1770.3 990.7L1754.8 989.2M1770.4 994.2L1757.1 988.1M1772.9 1002.2L1774.1 987.2M1772.7 987.6L1783.5 985.6M1773.9 991.5L1766.1 982.5M1775.2 989.4L1759.3 983.5M1774.8 990.2L1768.5 983.6M1774.2 1003.9L1776.7 994.2M1776.1 996.7L1774.9 981.1M1774.6 998.5L1771.4 981.7M1777.5 993.6L1791.2 995.9M1776.8 993.5L1782.5 981.1M1776.9 994.4L1788 1000.1M1772.8 1000.7L1784.5 997M1784.1 998.3L1791.1 1006M1783.3 998.2L1791.2 1003M1783 997.3L1788.2 987.5M1784 996.6L1784.4 987.6M1780.5 997.7L1789.6 988.7M1783.8 997.8L1780.3 987M1784 998.5L1786.6 1009.4M1772.2 1003.4L1779.5 1008.3M1779.8 1008.5L1794 1004.7M1778.3 1006.2L1779 1020M1779.2 1008.8L1792.4 1000.6M1777.2 1006.6L1775.5 1020M1779 1005.6L1791.7 1006.7M1758.8 999.7L1755.5 995.2M1758.8 999.7L1753.2 1006.8M1758.8 999.7L1750.8 1003.8M1758.8 999.7L1753.8 1006.7M1758.8 999.7L1756.5 995.5M1761.1 1006.6L1758.2 1013.2M1761.1 1006.6L1756.4 1009.3M1761.1 1006.6L1753.3 1005.2M1761.1 1006.6L1757 1012.3M1774 984.3L1771.4 980.5M1774 984.3L1780.2 982.9M1774 984.3L1767.3 978.4M1774 984.3L1767.5 979.5M1774 984.3L1778.9 980.1M1760.7 1002.8L1755.7 1002.6M1760.7 1002.8L1754.8 1005.5M1760.7 1002.8L1758.6 1008.3M1760.7 1002.8L1757.5 1007.6M1783.1 1005L1789.5 1007.1M1783.1 1005L1783.8 1009.7M1783.1 1005L1787.7 1009.3M1767.2 1013.7L1763.6 1017.2M1767.2 1013.7L1760.6 1018.2M1767.2 1013.7L1759.8 1018.2M1758.1 995.3L1752.7 999.5M1758.1 995.3L1749.4 994.2M1758.1 995.3L1749.7 993.4" stroke="#8e8e8e" stroke-width="0.65" fill="none"/>
<path d="M1652.7 1031.3L1661.9 1029.6M1662.5 1030.1L1669.6 1016.9M1662 1028.4L1675.8 1030.2M1661.4 1028.7L1668.9 1016.3M1659.8 1029.3L1672.7 1031M1658.4 1028.9L1667.2 1021.2M1659.6 1030.6L1673.2 1042.9M1661.9 1028.8L1670.8 1027.1M1652.6 1034.2L1662.9 1036.8M1660.1 1035L1671.8 1029.5M1662.5 1037.4L1660.2 1053.1M1660.5 1035.1L1672.9 1024.2M1660.4 1035.6L1671.2 1038.7M1660.8 1037.8L1676.2 1039.4M1661.5 1037.8L1671.9 1043.7M1655.2 1034.4L1663.5 1042.5M1664 1043.5L1676.1 1037M1663.2 1042.1L1652.1 1049.3M1662.3 1040L1672 1034.6M1663.6 1041.4L1671.5 1031.8M1662.1 1042.2L1655.6 1052.8M1662.6 1042L1673.8 1033.8M1663.4 1041.6L1663.6 1048.2M1652.8 1033.4L1657 1044.3M1656.2 1043L1645.4 1048.6M1658.1 1042.8L1667.3 1043.6M1656.3 1042.3L1649.4 1049.9M1655.5 1042.9L1649.7 1050.3M1655.9 1043.4L1643.8 1047M1654.9 1035.5L1651.1 1039.5M1650 1038.9L1652.9 1052.9M1652.4 1038L1653.6 1051.3M1652.9 1038.2L1660.7 1050M1652.6 1038.7L1643.2 1049.6M1651.6 1033L1644.4 1033.7M1647.5 1032.2L1636.6 1036.9M1646.2 1033.9L1638.1 1036M1644.3 1033.9L1637.4 1028.5M1644.7 1033.6L1634.9 1039.9M1646.2 1035L1636.5 1030.5M1645 1033.6L1633.1 1032M1651.5 1034.1L1643.7 1030.6M1644.3 1030.5L1638.1 1017M1645.7 1030.9L1636.5 1046.7M1643.6 1031.9L1636.3 1042.9M1646.8 1031.3L1639.2 1022.8M1644.1 1031.1L1643.7 1013.3M1645.7 1032.2L1638.7 1017.3M1655.8 1032.8L1648.5 1020.3M1648.8 1022.5L1640.7 1015.1M1647.6 1020.7L1647.2 1016.2M1650.6 1022.9L1635.5 1022.2M1650.4 1021.8L1639.1 1018.6M1650.3 1022L1656.5 1011.7M1649.8 1025.1L1656.5 1014.8M1652.4 1030.9L1656.1 1025.5M1655.2 1025.3L1654.7 1012.3M1654.8 1026.6L1653.2 1013.2M1656.2 1028.2L1671.4 1021.4M1655.6 1027.1L1668 1020.1M1657 1027.2L1651.2 1015.5M1654 1028.1L1649.5 1012.7M1656.8 1025.3L1656.5 1013.5M1655.1 1031.5L1661.1 1024.8M1660.9 1026L1661.5 1012.9M1657.9 1026.4L1653.7 1013.1M1661 1026.7L1663 1017.5M1659.8 1026.1L1671.8 1018.1M1658.3 1025.7L1660.2 1011M1648.3 1020.8L1646.2 1012.8M1648.3 1020.8L1642.9 1014.3M1648.3 1020.8L1642.6 1018.9M1645 1028.2L1639.7 1023.7M1645 1028.2L1640.6 1026M1645 1028.2L1638.3 1027.2M1645 1028.2L1640.2 1029.3M1653.4 1043.4L1658.9 1046.7M1653.4 1043.4L1650.6 1050.3M1653.4 1043.4L1648.3 1046.9M1645.7 1023.8L1639.4 1023.6M1645.7 1023.8L1642.3 1019M1645.7 1023.8L1648.1 1016.1M1645.7 1023.8L1638.4 1027M1666.9 1033.1L1670.8 1028.9M1666.9 1033.1L1675.4 1035.3M1666.9 1033.1L1673.5 1038.7M1666.9 1033.1L1674.4 1032.4M1653.1 1046.2L1649.9 1053.3M1653.1 1046.2L1646.7 1049.1M1653.1 1046.2L1651.1 1054.6M1658.4 1020.2L1659.8 1012.6M1658.4 1020.2L1656 1016.1M1658.4 1020.2L1655.4 1014.8M1658.4 1020.2L1656.1 1014.9M1658.4 1020.2L1652.7 1014.4" stroke="#8e8e8e" stroke-width="0.65" fill="none"/>
<path d="M1712.8 1063.5L1697.1 1066.3M1696.8 1067.4L1686.8 1082M1697.8 1065.5L1687.2 1073.6M1700.5 1065.8L1681.6 1063.4M1701.8 1064.6L1688.1 1071.5M1701.5 1065.4L1683.4 1060.2M1714.1 1063.9L1700.2 1061M1705.3 1060.3L1682.2 1060.4M1702.5 1062L1684.8 1079.3M1703.6 1061L1688.4 1087.7M1705 1060.6L1686.4 1077.7M1703.5 1061.9L1683.8 1047.2M1701.7 1061.4L1687.8 1043.6M1715.4 1061.2L1702.2 1048.9M1703.9 1050.1L1704.3 1030.4M1703.2 1049.3L1678.5 1062.7M1705.7 1051.4L1685.2 1057.6M1704 1052.5L1683.7 1041.2M1703.8 1049.7L1705.5 1032.8M1704.8 1051.4L1718.1 1029.3M1712.9 1065.1L1709.3 1049.7M1710.1 1052.7L1725.4 1029.3M1710.7 1051.6L1704.6 1037.1M1709.3 1050.5L1688.3 1042.7M1710.7 1052.4L1729.8 1034.4M1708.9 1054.1L1681.7 1046.7M1709.7 1051.3L1727.7 1039M1709.1 1052.9L1690.4 1044.8M1715 1060.8L1720.1 1049M1718.6 1052.4L1741.7 1042M1721.2 1049.2L1747.9 1051.6M1719.3 1052.5L1743.4 1050M1718.9 1049.8L1717.3 1030.6M1714.7 1060.9L1728.2 1047.7M1725.4 1051.2L1718.7 1033.3M1727.8 1049.2L1716.4 1030.4M1724.5 1050.8L1716.6 1030.8M1725.9 1048.9L1713.2 1030.8M1725.6 1051.1L1747.8 1052.7M1727.9 1049.8L1716.4 1028.6M1726.2 1049.5L1738 1037.4M1711.1 1063.1L1731 1051.5M1725.1 1054L1732.8 1034.7M1727 1054.5L1732.2 1043M1728.7 1053.4L1741.7 1070.3M1729.3 1052.6L1730 1031.9M1727.7 1054.3L1733.4 1032.5M1731.1 1051.2L1732 1030.2M1724.3 1053.9L1731.3 1030.3M1712.9 1061.3L1734 1062.9M1731.2 1062.8L1747.6 1063.3M1730 1063.5L1749.7 1064.6M1730.5 1062.1L1743.8 1075.3M1727 1061.8L1740.7 1071.7M1733.7 1063.4L1738.8 1047.3M1715.3 1059.7L1728.3 1075.5M1727.2 1074.4L1739.5 1074.1M1725.4 1069.8L1747.5 1075.9M1726.7 1074.1L1728.2 1091.5M1729.2 1073.9L1725 1094.6M1727.3 1073.5L1713.7 1099.1M1728.9 1074.9L1728.2 1092.8M1726 1074.8L1738.6 1074.2M1716.1 1064.7L1722.3 1073.5M1720.5 1071.4L1717.7 1094.1M1719.1 1071.8L1742 1079.3M1722.1 1072.6L1742.5 1082.2M1720.4 1071.9L1728.6 1085.2M1720.4 1072.2L1728.1 1087.8M1721.4 1071.7L1739.8 1072.2M1713.7 1064.3L1712.6 1083.8M1713.9 1078.2L1723.8 1097.8M1713.1 1080.8L1693.8 1091M1713.8 1080.5L1724.9 1094.6M1713.2 1079.9L1733.3 1088.5M1711.6 1079.3L1730.5 1084.3M1713.4 1081L1702.4 1095M1716.5 1061.6L1708.4 1072.5M1711 1070.5L1713.6 1096.5M1708.7 1072.3L1724.3 1096.6M1709.1 1071.2L1684.9 1068.7M1709 1071.4L1703.6 1097.7M1710.8 1068.8L1713.4 1095.7M1709.3 1070.1L1726.4 1096.3M1708.5 1073.6L1683.4 1069.9M1713.1 1062.6L1700 1073.5M1700.2 1071.8L1683.4 1059.5M1702.3 1070.4L1681.6 1075M1699.9 1074.2L1684.3 1071.1M1702.1 1071.1L1685.1 1066.6M1700.3 1073L1678.4 1063.6M1702.7 1071.3L1684.2 1083.9M1733.6 1062L1740.4 1057.5M1733.6 1062L1746.1 1055.9M1733.6 1062L1745.7 1064.6M1709.8 1077.1L1696.4 1081.5M1709.8 1077.1L1714 1086M1709.8 1077.1L1710.2 1089.6M1709.8 1077.1L1702.9 1080.3M1709.8 1077.1L1705.7 1084.1M1728.1 1084.3L1736.6 1084.2M1728.1 1084.3L1734.6 1093M1728.1 1084.3L1735.1 1088M1691.9 1059.1L1689 1048.5M1691.9 1059.1L1679.8 1054.8M1691.9 1059.1L1682.6 1054.1M1698.1 1076.6L1699.4 1087.7M1698.1 1076.6L1683.9 1072.9M1698.1 1076.6L1687.5 1078.3M1719.2 1078.4L1722.9 1089.2M1719.2 1078.4L1733.2 1083M1719.2 1078.4L1730.5 1087.6M1695.1 1045.6L1686.7 1037.3M1695.1 1045.6L1681.6 1050.7M1695.1 1045.6L1683.4 1048.2M1695.1 1045.6L1687.6 1039.7M1691.5 1074.7L1681.2 1079.7M1691.5 1074.7L1691.5 1087.5M1691.5 1074.7L1691.7 1082.4M1696 1066.7L1685.2 1061.9M1696 1066.7L1686.3 1055.8M1696 1066.7L1684.2 1064.7" stroke="#8e8e8e" stroke-width="0.65" fill="none"/>
<path d="M1574.6 1046.7L1561.8 1050.4M1561.3 1051.5L1554.6 1050.7M1561.6 1050.5L1555.7 1035.7M1565.1 1048.7L1554.4 1038M1562 1049.7L1551.9 1043.5M1563.6 1049L1562.9 1067.7M1565.3 1048.1L1556 1053.8M1566.1 1050.4L1553.3 1048.1M1571.9 1045.9L1565.8 1045.2M1565 1044.7L1551.6 1044.9M1566.1 1045.7L1558.5 1034.9M1565.3 1045.4L1561.1 1034.1M1567 1046L1555.3 1032.7M1566.4 1044.9L1564.6 1029.5M1566.9 1044.5L1554.2 1033.6M1567.2 1043.9L1550.9 1052.1M1571.2 1047.7L1566.3 1040.1M1565.1 1039.8L1564.7 1026.5M1565.9 1039.7L1554.8 1032.7M1567 1039.7L1573.9 1025.6M1566.2 1042.2L1558.4 1033.5M1571.4 1048.5L1571.8 1039.5M1571.5 1040.8L1559.8 1036.7M1573.1 1039.9L1555.6 1033.4M1573.1 1039.6L1561.6 1030.4M1570.3 1040.6L1560 1030.6M1571.9 1049.2L1580.2 1036.6M1579.5 1038.3L1591.4 1040.8M1580.6 1037.8L1579.6 1026.3M1577.1 1038.7L1594.3 1044.3M1581.3 1036.8L1581 1031.8M1580.4 1038.8L1587.3 1035.2M1575.3 1049.2L1584.7 1043.4M1585.8 1042.8L1592.3 1044.5M1581 1044.9L1593.6 1044.2M1583 1043.3L1586.3 1033.2M1583.1 1044.2L1593.6 1053.5M1584.5 1042.6L1583 1027.5M1572.3 1048.7L1588.3 1046.5M1586.8 1045.3L1595.7 1054.5M1586.8 1046.1L1588.9 1037.5M1586.3 1048L1590.7 1061.2M1589 1046.4L1593.9 1059.7M1586.4 1047.7L1597 1050.6M1584.6 1046.6L1586 1030.5M1575.9 1048.2L1584.5 1052.2M1584.9 1052.7L1590.5 1051.5M1584.9 1053L1596.9 1051M1584.3 1052.1L1591.2 1055.8M1584.8 1051.1L1593.6 1044.8M1581.3 1050.4L1593.3 1039.6M1583.2 1050.5L1587.5 1062M1583 1052.6L1587.6 1063.3M1573.1 1047.5L1575.9 1054.4M1575.7 1052.6L1570.8 1064.8M1576.1 1054L1568.3 1068.4M1574.5 1052.8L1589.6 1064.1M1576.5 1052.1L1593.4 1056.8M1573.1 1050.4L1574.2 1061M1574.2 1058.6L1575.6 1067.6M1574.2 1059.5L1565.4 1065.8M1572.5 1057.2L1584.5 1063.9M1574.6 1060.7L1567.9 1065M1573.6 1046.3L1566.5 1057.3M1567.6 1054.6L1574.1 1067.4M1566.6 1057.8L1553.1 1055.3M1567.1 1055.9L1557.3 1059.9M1568.1 1055.7L1556.4 1059.1M1568.4 1055.4L1557 1060.4M1565.4 1057L1554.1 1052.1M1573.4 1046.1L1566.1 1051.3M1567.5 1051.4L1558.5 1057.1M1566.9 1049.8L1551.2 1043.5M1566.8 1051.2L1563.2 1061.9M1566.5 1051.1L1550.7 1045.3M1566.5 1052.1L1555.1 1039.6M1567.4 1051.6L1560.8 1066.9M1590 1046.6L1594 1052.2M1590 1046.6L1594.6 1050.2M1590 1046.6L1596.7 1043.4M1564.1 1062L1559.9 1067.3M1564.1 1062L1556.5 1061.8M1564.1 1062L1559.1 1062.6M1564.1 1062L1555.3 1062M1564.1 1062L1556.8 1061.2M1563.7 1050.8L1560.6 1058.1M1563.7 1050.8L1561 1056.3M1563.7 1050.8L1556.5 1057M1575.1 1059.6L1574.4 1067.5M1575.1 1059.6L1571.2 1067.1M1575.1 1059.6L1579.9 1067.2M1575.1 1059.6L1580.5 1062.7M1575.1 1059.6L1575.4 1067.4M1583.2 1061.2L1582.1 1069.5M1583.2 1061.2L1590 1064.9M1583.2 1061.2L1582.2 1069.4M1583.2 1061.2L1589 1065.6M1583.2 1061.2L1590.1 1064.8M1586.9 1040.2L1587.4 1031.5M1586.9 1040.2L1596.2 1040.6M1586.9 1040.2L1592.1 1042.8M1586.9 1040.2L1586.1 1033.1M1586.9 1040.2L1594.4 1042.8M1564.5 1043.6L1555.6 1045.2M1564.5 1043.6L1556.1 1045.3M1564.5 1043.6L1557.2 1047M1564.5 1043.6L1564.4 1034.1" stroke="#8e8e8e" stroke-width="0.65" fill="none"/>
<path d="M1624.8 1107L1626.7 1097M1625.7 1098L1618.1 1094M1626 1097L1635.3 1095.3M1625.7 1096.9L1632.3 1092.8M1625.7 1097.7L1635.5 1099.6M1627.5 1100.6L1635.3 1094M1627.3 1100.1L1633.8 1097.9M1627.1 1100.8L1633 1094.3M1627.6 1104.2L1630.7 1097.6M1632 1096.3L1637.5 1099.7M1630.2 1098.1L1631.5 1091.5M1629.6 1100.1L1636.8 1097.2M1629.9 1097.6L1624 1094M1626.8 1103.4L1631.2 1101.3M1631.3 1100.3L1640 1108.6M1630.3 1102L1634.2 1096.5M1631.5 1100.2L1639.3 1108.3M1630.6 1100.4L1628.8 1092M1630 1100.2L1628.7 1094.3M1626.3 1103.8L1632.3 1103.8M1630.5 1104.2L1635.5 1096.7M1630.5 1103.9L1638.1 1108.1M1631.5 1105.3L1640.8 1106.3M1631.1 1104.5L1639.1 1098.1M1626.5 1105.7L1631.6 1108.1M1629.2 1106L1640.3 1100M1631 1106.8L1636.6 1112.5M1629.6 1108.4L1636.4 1099.4M1632.3 1107.7L1634.8 1113.6M1631.5 1108L1639.3 1104M1629.8 1106.9L1633.4 1116.2M1627.4 1105.1L1630.1 1110M1630.5 1109.9L1625.3 1119.5M1629.4 1109L1625.6 1120.5M1628.7 1110.4L1625.5 1119.1M1630.4 1108.9L1637.6 1107.4M1628.6 1108L1638.9 1107.6M1630.8 1109.5L1640.5 1107.5M1628.5 1105.7L1627.3 1113.5M1626.8 1111.2L1618.4 1118.5M1626.6 1112.9L1638.1 1114M1627.9 1111.2L1632.1 1119.3M1626.4 1114.3L1633 1117.7M1626.5 1113.2L1634.2 1117.4M1625.9 1103.7L1622.7 1114M1622.9 1112.8L1615.8 1113.2M1622.3 1112.1L1624.9 1120.4M1623.5 1111.9L1631.6 1118.4M1623.9 1112L1614.2 1115.4M1623.8 1107.5L1619.7 1111.6M1620.1 1109.9L1614.2 1116M1621.3 1111.9L1613.9 1112.9M1620.8 1110L1625.3 1119.2M1619.2 1112L1618.5 1119.7M1628.1 1107.5L1619.7 1111M1619.8 1111.7L1612.2 1109.7M1622.1 1109.8L1614.2 1112.2M1622.5 1109.6L1613.5 1115.7M1620 1111.7L1612.7 1104.9M1621.2 1109.5L1609.6 1104.2M1623.1 1110.2L1609.8 1104.6M1620.7 1111.5L1612.9 1109.9M1626.1 1107.4L1620.3 1106.6M1622 1108.2L1612.3 1110.2M1622.8 1105.8L1612.4 1114.2M1620.5 1107.7L1612.6 1097.6M1619.5 1107.5L1613.3 1102.2M1622.3 1107.9L1610.7 1111.3M1621.5 1105.3L1614.9 1099.8M1624.9 1105.3L1619.5 1100.5M1620.4 1102.5L1613.4 1100.2M1620.1 1100.2L1615.4 1093.9M1618.5 1099.9L1615 1095.7M1621.5 1099.9L1617.7 1092.3M1624.9 1103.7L1621.2 1101.6M1623.2 1103.1L1612.6 1101.4M1622.5 1102.2L1624.6 1093.1M1621.7 1102.6L1624.9 1091.3M1622.3 1101.7L1613.9 1099.4M1623.3 1102.3L1612.3 1100M1632.7 1108.2L1635.7 1106.2M1632.7 1108.2L1636.3 1107M1632.7 1108.2L1636.3 1109M1631.2 1109.4L1635.5 1106.2M1631.2 1109.4L1631.2 1114M1631.2 1109.4L1637.4 1109.5M1631.2 1109.4L1630.7 1114.3M1628.3 1114.7L1626.1 1118.5M1628.3 1114.7L1627.9 1119.3M1628.3 1114.7L1629.6 1120.1M1628.3 1114.7L1632 1115.3M1628.3 1114.7L1626.1 1119.5M1632.4 1104.3L1636.4 1101.2M1632.4 1104.3L1638.6 1105.1M1632.4 1104.3L1635.5 1102.2M1632.4 1104.3L1635.8 1101.9M1632.4 1104.3L1638.5 1104M1620 1101.3L1616.4 1102M1620 1101.3L1621.4 1096.5M1620 1101.3L1615.7 1097.9M1620 1101.3L1615.3 1098.9M1620 1101.3L1618 1095.8M1628.7 1096.2L1632.1 1096M1628.7 1096.2L1632 1091.6M1628.7 1096.2L1634.5 1094M1628.7 1096.2L1624.2 1091.8M1628.7 1096.2L1634.5 1095.4" stroke="#8e8e8e" stroke-width="0.65" fill="none"/>
<path d="M1643.6 1134.7L1650 1146.2M1651.1 1144.8L1660.5 1148.8M1647.6 1145.2L1659.7 1149M1648.3 1145.1L1652.7 1150.8M1648.7 1143.4L1648 1151.5M1648.9 1144.2L1645.1 1152.3M1649.7 1144.6L1663.4 1147.9M1646.1 1135.8L1645.1 1145.1M1646.1 1145.6L1649 1150.8M1644.3 1144L1651.5 1149.4M1644.3 1142.1L1659.7 1150.2M1645.3 1142.5L1646 1149.7M1644.1 1141.2L1642.5 1155.1M1645.6 1141.6L1640.2 1152.8M1644.7 1142.1L1656.3 1148.3M1647.8 1134.8L1636.6 1141.8M1638.9 1141.1L1645.7 1149.7M1640.7 1140.2L1625.6 1130.9M1637.8 1140.4L1634.9 1149.3M1639.7 1140.6L1641.7 1153.1M1637 1142L1627.3 1131M1646.9 1131.4L1636 1133.4M1638.7 1134L1634.8 1147.5M1636.4 1133.2L1628.3 1129.9M1635.2 1133.8L1632.5 1149.8M1636 1132.9L1634.8 1145.7M1636.2 1131.9L1624.8 1135.6M1646.4 1131.8L1638.8 1130.1M1639.3 1130.5L1629.9 1119.7M1639.2 1131.1L1630.1 1122.7M1640.8 1129.2L1625.5 1135.7M1641.3 1129.6L1632.7 1117.3M1641.1 1131.7L1638.5 1117.5M1640.8 1129.5L1625.7 1139M1644.1 1135.2L1643.7 1126M1642.9 1127.1L1630.1 1125M1642.4 1127.2L1637.2 1115.2M1644 1127L1643.4 1112.3M1645 1126.3L1631.4 1120.1M1642.5 1126.3L1631.8 1123.5M1642.6 1126.1L1626.1 1124.9M1643.9 1130.9L1648.1 1125.8M1648.4 1125.4L1649.8 1114M1649.3 1126.4L1637.2 1114.3M1645.6 1127.2L1637.4 1114.9M1647.4 1126.4L1643.8 1114.3M1647.1 1127.8L1648.9 1115.2M1647.8 1127.9L1663.9 1121.1M1647.9 1132.8L1651.9 1125.6M1651.6 1127.6L1646.3 1114.7M1652.6 1126.5L1664.2 1132.3M1652 1125.9L1646.6 1115.4M1652.6 1127.1L1666.7 1127.2M1645.6 1134.6L1654.2 1127.3M1654.3 1128.9L1665.2 1125.1M1651 1129.5L1663.3 1132.1M1653.5 1129.7L1647.2 1116.1M1654.5 1127L1660.7 1123.8M1652.7 1126.3L1661.7 1124.6M1652.3 1130.2L1656.1 1114.9M1654.4 1128.4L1648.2 1110.6M1645.1 1132.1L1656.6 1134.6M1653.3 1133.2L1659.4 1144.4M1653.5 1135.3L1663.3 1135.1M1656 1132.8L1660.4 1150.6M1656.1 1135.2L1663.9 1145.5M1652.9 1134.9L1661.5 1119.2M1657.4 1135.6L1666.3 1128.3M1645.9 1134L1653.8 1139.6M1652.5 1138.2L1666.8 1130.6M1652.9 1140.2L1657.8 1148.2M1652.5 1138.2L1666.1 1140.6M1653.4 1137.6L1661.2 1149.6M1643.8 1116.3L1649.1 1110.1M1643.8 1116.3L1639.1 1113.9M1643.8 1116.3L1649.2 1111.9M1643.8 1116.3L1636.5 1114.1M1636.2 1120.7L1630.7 1119.8M1636.2 1120.7L1627.6 1120.2M1636.2 1120.7L1629.1 1119.8M1652.6 1117.6L1654.9 1111.8M1652.6 1117.6L1656.5 1114.1M1652.6 1117.6L1649.6 1113.4M1652.6 1117.6L1650 1113.3M1643 1146.6L1648.5 1152.6M1643 1146.6L1640.4 1152.3M1643 1146.6L1635.8 1150.1M1643 1146.6L1649.4 1152.9M1651 1149.2L1655.3 1152M1651 1149.2L1658.5 1152.4M1651 1149.2L1655.2 1154.1M1651 1149.2L1651 1155.4M1656.1 1132.5L1661.7 1136.8M1656.1 1132.5L1661 1134.1M1656.1 1132.5L1658.6 1137.9M1656.1 1132.5L1661.5 1128.7M1645.5 1117.5L1642.3 1112.3M1645.5 1117.5L1641.2 1110.5M1645.5 1117.5L1645.7 1111.6M1645.5 1117.5L1650 1111.1" stroke="#8e8e8e" stroke-width="0.65" fill="none"/>
<path d="M1621.4 1172.7L1627.6 1174.2M1625.7 1173.9L1635.6 1174.8M1626.2 1174.2L1632.9 1185M1625.4 1172.5L1633.5 1180.8M1628 1175.2L1629.8 1186.2M1626.4 1174L1633.1 1167.4M1625.5 1172.9L1631.4 1182.4M1627 1175.5L1631.9 1180.8M1622.8 1175L1631.4 1177.6M1628.4 1177.7L1628.2 1186.9M1630.9 1178.2L1638.5 1170.2M1630.4 1176.8L1630.6 1182.8M1629.8 1177.7L1632.2 1180.9M1621.3 1175.9L1625.7 1179.3M1623.8 1179.3L1632.2 1182.6M1623.2 1179.5L1635.9 1177.6M1623.7 1179.6L1619.1 1185.5M1626.4 1177.4L1633 1183.5M1624.1 1178.8L1636 1181.8M1624.4 1178.5L1634.3 1181.8M1621.8 1170.7L1623.5 1180.7M1622.8 1179.6L1617.8 1183.4M1623.8 1177.3L1623.6 1184.7M1622.7 1180.5L1623.5 1184.8M1622.1 1176.9L1623.2 1185.7M1623.4 1179.3L1635.3 1182.8M1622.1 1177.6L1622 1185.2M1622.6 1180.3L1624.3 1185.3M1623.5 1171.1L1618.7 1179.4M1619 1178.1L1624.1 1185M1620.4 1179.3L1609.7 1177.1M1618.5 1178.6L1613.1 1179.9M1617.8 1178.8L1607.7 1175.8M1621.1 1178.5L1621.5 1186.2M1624.2 1175.8L1618.2 1176M1619.8 1174.9L1610.1 1171.2M1618.7 1174.5L1615.1 1182.8M1619.9 1175L1620.4 1187.2M1619 1176.7L1613 1183.6M1619.1 1176.3L1609.1 1175.4M1623 1174.7L1615 1172.9M1615.8 1174.2L1611.1 1176.1M1614.9 1173.9L1608 1171.5M1614.1 1173.5L1611.9 1166M1616.8 1173.2L1612.4 1181.8M1617.9 1174.3L1612.5 1166.9M1623.7 1173.2L1616.2 1171.9M1615.4 1173.1L1612 1168.1M1618.2 1173.6L1610.4 1166.6M1616.8 1170.7L1610.8 1171.5M1617.7 1172.6L1610.1 1167.2M1618.6 1172L1608.9 1165.9M1617.5 1172.7L1617 1162.8M1620.7 1173.7L1618.4 1165.8M1617.6 1168L1626.9 1161.5M1619 1166.5L1608.7 1166.8M1619.8 1167.6L1612.1 1168.4M1619.4 1168.8L1611.6 1168.2M1618.2 1166L1625.7 1161.3M1617.9 1168.2L1610.6 1166M1617.8 1165.7L1624.7 1160.8M1620.7 1174.2L1621 1165.1M1621.6 1167L1617.7 1158.6M1621.9 1166.8L1614.3 1162.2M1622.1 1166.2L1611.2 1167.3M1621.5 1166.8L1620.9 1157.6M1621.9 1167.4L1613.3 1166M1619.9 1165.2L1627.7 1162.2M1621.4 1166.8L1628.7 1160.7M1624.2 1174.1L1625.5 1167.1M1626 1166L1635 1167.8M1624.5 1167L1619.4 1157.9M1625.4 1168.1L1617.8 1160.9M1624.1 1169.2L1625.6 1160.9M1626.5 1166.1L1632.4 1161.7M1624.8 1167.2L1633.1 1163.5M1624.4 1169.1L1629.5 1161.4M1623 1175.1L1628.5 1167.2M1628.7 1168.8L1637.9 1168.1M1626.2 1168.4L1634.7 1173.3M1628.9 1167.5L1625.5 1160.6M1627.8 1168.4L1638.6 1173.2M1624.9 1173.7L1626.9 1170.2M1627.4 1170.1L1623.7 1161.3M1626 1171L1636.9 1169.3M1626.4 1170.2L1631 1160.3M1625.9 1169.7L1634.1 1167.8M1627.7 1168.3L1629.9 1165.4M1627.7 1168.3L1632.8 1167.3M1627.7 1168.3L1632 1167.2M1627.7 1168.3L1628.4 1161.9M1621.7 1181.1L1616.7 1184.2M1621.7 1181.1L1621.4 1185.3M1621.7 1181.1L1623.8 1186.5M1621.7 1181.1L1618.8 1184.9M1621.7 1181.1L1624.6 1185M1622 1161.7L1624.5 1157.1M1622 1161.7L1622.4 1158.3M1622 1161.7L1622.5 1157.4M1630.8 1170.7L1633.5 1166.2M1630.8 1170.7L1634.6 1170.3M1630.8 1170.7L1633.3 1168.6M1631.9 1177.2L1632.3 1181.1M1631.9 1177.2L1636.7 1180.7M1631.9 1177.2L1636.1 1181.1M1617.3 1167.8L1615.4 1164M1617.3 1167.8L1617.1 1163.1M1617.3 1167.8L1614.6 1164.2M1617.3 1167.8L1611.2 1166.5M1617.3 1167.8L1612.6 1165" stroke="#8e8e8e" stroke-width="0.65" fill="none"/>
<path d="M945.3 1208.4L950.9 1206.3M949.8 1207.5L951.7 1193.8M948 1208.1L949.7 1189.8M949.8 1207.8L965.9 1209.1M950.9 1205.3L965 1200.1M951.2 1207.5L966.1 1203.2M945.3 1210.2L954.4 1209.2M953.1 1210.3L964.7 1209.5M951.3 1209.2L957.5 1223.4M955.3 1209.4L962.8 1197M953 1209.9L960.7 1215.6M951.6 1210.9L963.3 1196.7M952.9 1209.7L961.5 1220.5M944.6 1210.9L950.1 1215.3M947.9 1214L957.2 1222.3M947.8 1213.4L947.2 1226.9M947.9 1214.4L955.9 1226.8M950.5 1214L942.4 1227.8M945.4 1210.1L943.7 1218.4M944.3 1217.8L957.7 1225.9M943.1 1217.9L935.2 1227.1M943.7 1217.1L939.8 1229.5M945.1 1217.6L960.5 1225.4M944.9 1218.5L949.3 1231.5M944.4 1215L930.7 1226.6M943.6 1217L931.2 1219.8M945.6 1206.7L940.2 1222.9M940.8 1219.8L941.7 1227M940.6 1219.8L946.2 1232.3M941.1 1219.4L943.7 1229.8M940.4 1221.7L940.5 1229M945.8 1207.9L931.8 1214.5M933.4 1214.9L927.6 1209.3M934.2 1214.1L934 1225M933.7 1213.7L931.2 1224M933.4 1213.5L923.8 1217.8M931.3 1214L926.9 1205.8M932.8 1213.2L935.7 1225.4M945.7 1208.6L936.6 1209.6M937.4 1209.8L929.4 1197.4M938.4 1210.5L927 1220.2M937.8 1208.2L929 1220.8M937.8 1210L932.6 1197.9M937.9 1210.4L927.4 1205.4M938.5 1210.1L925.3 1199.7M941.7 1206.7L937 1198.2M939 1201.9L944.3 1192.7M939.3 1201.4L949.9 1191.2M937.3 1199.2L949.3 1190.9M938.2 1199.4L934.7 1195.7M935.7 1197.8L926.2 1203.3M937.2 1198.1L928.9 1193.5M946.5 1212.1L943 1199.3M941.7 1200.4L938.9 1187.2M941.6 1199L930 1195.3M943.3 1202L931.7 1197.8M943.8 1202.7L934.2 1189.5M943.5 1199.6L956.3 1191M943.8 1201.1L941 1188.1M942.1 1208.4L947.3 1200.9M945.1 1201L959.2 1193.8M946.8 1203.4L936 1195M946.5 1202.8L944.5 1187.8M946.8 1202.2L953.2 1193.7M947.9 1201.2L939.9 1187.7M947.3 1202.1L945.1 1187.2M946.5 1201.2L934.5 1194.2M930.1 1209.4L925.9 1206.2M930.1 1209.4L925.4 1206.2M930.1 1209.4L927.7 1204.6M930.1 1209.4L923 1210.4M957 1203.7L964.5 1203.8M957 1203.7L959.9 1195.9M957 1203.7L965.3 1202.7M957 1203.7L962.7 1205.4M957 1203.7L965.5 1203.9M929.7 1209.2L926.4 1204.8M929.7 1209.2L923.1 1207.1M929.7 1209.2L921.8 1212.4M929.7 1209.2L927.7 1204.6M929.7 1209.2L925.4 1204.6M943.7 1194.5L945.5 1186.4M943.7 1194.5L944.7 1186.8M943.7 1194.5L945.3 1189.8M943.7 1194.5L947.7 1187.7M927.9 1213.1L921.7 1207.2M927.9 1213.1L922.1 1214.3M927.9 1213.1L922.2 1214.5M928.3 1214.5L922.6 1216.2M928.3 1214.5L924.1 1209.4M928.3 1214.5L923.6 1213M928.3 1214.5L924.6 1210.8M928.3 1214.5L924.3 1217.1M942.6 1198.7L936.9 1195M942.6 1198.7L949.4 1193.1M942.6 1198.7L945.5 1190" stroke="#8e8e8e" stroke-width="0.65" fill="none"/>
<path d="M1004.5 1242.7L991.5 1236.9M993.7 1238.9L975 1237.6M994.4 1238.1L977.7 1248M993.9 1238.1L978.1 1216.7M994.8 1237.3L977.6 1257.2M992.9 1237.6L967.8 1246.1M990.6 1235.6L986 1217.1M1006 1240.9L989.3 1227.7M990.1 1229.1L981.1 1214.2M991.7 1229.4L979.8 1217.8M990.6 1230.4L991.6 1213.2M993.1 1230.2L980.8 1212.1M1005.4 1242.4L1001.2 1227M1002.4 1230.7L997.5 1204.8M1002 1226.9L978.6 1227.2M1003.5 1231.1L1020.5 1207.6M1000.9 1228L1012.7 1207.3M1001.3 1230.5L978.8 1223.4M1002.1 1242.9L1002.9 1218.6M1003.5 1223.1L994.8 1214.6M1001.6 1220.3L979.1 1216.3M1003.8 1218.6L1001.5 1211.9M1003.8 1223.9L992.5 1214.9M1006.8 1238.6L1021.6 1226.6M1020.9 1225.6L1012.3 1210.2M1018.8 1229.6L1020.1 1211.1M1020.5 1229L1035.1 1224.4M1019.8 1228.3L1037.2 1229.4M1017.2 1229.7L1012.2 1210M1021.3 1228.8L1030.5 1230M1018.4 1229.9L1020.6 1209.5M1004.5 1238.9L1018.4 1235.4M1017.4 1235.9L1034.7 1234.8M1016.4 1236.5L1029.2 1223.4M1015.2 1237.2L1033.9 1248.6M1015.1 1234.7L1036.6 1240.3M1005.4 1238.9L1021.9 1248.3M1019.4 1246.3L1039.9 1241.6M1017.8 1246.2L1022.4 1271.8M1017.7 1246.1L1017.9 1268.7M1019.7 1247.1L1016.8 1269.2M1021 1246.3L1015 1274.6M1020.3 1247.2L1030.1 1234.2M1005.1 1239L1014.2 1250.4M1010.5 1247L1023.9 1259.2M1014 1249.2L1007.3 1266.6M1013.7 1250.1L1037.8 1240.2M1013.3 1246.9L1035.3 1238.8M1012.8 1248.1L1024.2 1269.6M1012.6 1250.7L1036.3 1242.6M1012.2 1249.7L1029.4 1255.2M1003.1 1239.5L1008.4 1257M1006.4 1254.2L999 1276.6M1005.5 1253.2L1011.3 1273.9M1006.6 1252.6L1022.4 1267.3M1007.5 1253.4L1019.7 1266.3M1006.2 1237.9L996.9 1252.4M998.3 1249.5L993.8 1269.8M1000.8 1249L973.5 1245.2M996 1251.5L1010 1267.4M997.8 1252.3L993.1 1264.4M998.8 1248.9L991.5 1263.9M1006.4 1238L987.6 1252.1M988.9 1251.3L987.2 1270.1M987.9 1252.6L976.1 1262.1M991.3 1249.6L998.8 1266.4M987.7 1251.1L970.4 1252.6M991.4 1248.7L975.4 1257.6M988 1252.1L972.2 1254.9M1026.4 1236.5L1033.8 1228M1026.4 1236.5L1029.5 1224.7M1026.4 1236.5L1034.4 1228.7M996.3 1220.4L1001.1 1213.6M996.3 1220.4L994.5 1209.7M996.3 1220.4L997.6 1209.2M996.3 1220.4L995.5 1208M996.3 1220.4L992.1 1213.5M985.6 1251.5L978.5 1261.5M985.6 1251.5L978 1263.9M985.6 1251.5L975.7 1261.8M985.6 1251.5L978.7 1258.5M985.6 1251.5L975.3 1245.3M1030.6 1232L1039.2 1228.2M1030.6 1232L1036.7 1224.5M1030.6 1232L1035.4 1220.3M1030.6 1232L1036 1238.3M1030.6 1232L1039 1227.6M986.8 1242.2L979.6 1249.5M986.8 1242.2L980.2 1251.9M986.8 1242.2L979.3 1245M986.8 1242.2L977.1 1245.1M986.8 1242.2L980.4 1252.3M988.7 1242.5L983.7 1248M988.7 1242.5L979.3 1233.6M988.7 1242.5L976.5 1243.1M988.7 1242.5L979.2 1234.5M988.7 1242.5L981.6 1236.4M987.6 1251.6L975.2 1246.7M987.6 1251.6L976 1251.5M987.6 1251.6L975.4 1258.9M987.6 1251.6L979.2 1256.4M987.6 1251.6L984.8 1258.6M1000.8 1213.6L990 1206.5M1000.8 1213.6L998.4 1206.3M1000.8 1213.6L997.1 1206.2M1000.8 1213.6L989 1206.2M980.3 1234.3L970.1 1233.2M980.3 1234.3L970.8 1233.4M980.3 1234.3L969.4 1227.2M980.3 1234.3L971.4 1225" stroke="#8e8e8e" stroke-width="0.65" fill="none"/>
<path d="M1093.1 1208.8L1083.8 1211.5M1085.7 1210.5L1071.2 1213.3M1084.2 1212.8L1075.9 1217.3M1084.9 1209.6L1076.1 1205.2M1086 1211.9L1077.1 1199.3M1086 1209.5L1070.8 1210.8M1093.1 1207.7L1084.7 1205.3M1084.6 1204.3L1075.6 1206.8M1086.1 1206L1075.5 1195.6M1086.1 1207.1L1077.7 1193.2M1087.3 1205L1080.7 1194.4M1086 1206.7L1087 1190.4M1095.5 1208.6L1087.1 1201.3M1088.4 1201.6L1071.7 1209.6M1087.8 1202.8L1076.2 1203.6M1088.9 1203.7L1077.2 1203.1M1088.5 1203.2L1089.5 1187.5M1088.8 1203L1090.9 1186.9M1087.8 1201.7L1087.9 1191.9M1088.4 1202.8L1091.1 1187.1M1093.2 1208.2L1092.3 1198.2M1092.7 1200.7L1104.1 1189M1093.4 1201.8L1105.2 1190.8M1093.5 1200.9L1098.5 1189.9M1091 1197.2L1083.2 1193.4M1092.2 1209.9L1100.9 1203.2M1098.4 1204.9L1097.8 1189.6M1099.5 1204L1112.1 1210.3M1100.5 1202.2L1113.2 1203.9M1098.7 1204.2L1114.2 1201.4M1099.6 1206.1L1106.2 1193.2M1099.4 1203.8L1113 1202.4M1098 1204.6L1099.4 1191.7M1093.4 1208.1L1103.3 1208.5M1103.3 1209.7L1111.2 1201.6M1101.4 1207.4L1107.1 1193.7M1103.5 1209.8L1111.3 1203.3M1101.2 1208.3L1111.1 1214M1102.2 1209.4L1114.9 1205.2M1092.4 1208.5L1100 1212.2M1097.8 1212.2L1103.5 1224.8M1097.7 1212.2L1101.4 1228.3M1096.8 1210.2L1110.8 1218.9M1099.7 1212.9L1097 1225.9M1097.9 1211.9L1102.4 1225.2M1100.1 1211.3L1114.2 1205.5M1091.7 1209.9L1100.1 1217.3M1096.5 1215.4L1113.6 1213.6M1097.9 1215.5L1092.8 1229.4M1099.5 1216.5L1102.1 1225.8M1099.4 1216.8L1113.3 1218.3M1097.9 1214.3L1094.3 1228.3M1098 1217.3L1110.9 1210.7M1098.4 1215.8L1107 1225.9M1092.6 1205.6L1090.3 1219.5M1090 1219.5L1091.9 1226.7M1091.2 1217.4L1088.5 1226M1090.2 1214.1L1102.6 1226.9M1089.2 1218.4L1080.3 1226.7M1089.6 1216.6L1090.8 1230M1090.9 1216.9L1091.9 1231M1089.3 1217.6L1097.8 1230.6M1091.7 1208.5L1088.4 1215.2M1087.3 1214.1L1096.4 1230.2M1089.4 1214.8L1089.9 1230.6M1089.4 1215.2L1076.5 1222.3M1087.7 1214.7L1073.2 1216.3M1106.3 1213.5L1110 1210.1M1106.3 1213.5L1108.3 1220.8M1106.3 1213.5L1109.4 1219.4M1106.3 1213.5L1106.8 1219.6M1106.3 1213.5L1112.2 1213.7M1089.4 1197.4L1089.3 1188.9M1089.4 1197.4L1082.8 1192M1089.4 1197.4L1094.3 1191.7M1089.4 1197.4L1084.1 1196.4M1089.4 1197.4L1084.1 1192.1M1101.6 1215.1L1107.2 1219.2M1101.6 1215.1L1099.2 1223.5M1101.6 1215.1L1099.4 1223.8M1101.6 1215.1L1103.4 1221.8M1087.7 1198L1087.7 1192.8M1087.7 1198L1082.3 1193M1087.7 1198L1082.6 1197.6M1087.7 1198L1092.4 1190.9M1087.7 1198L1083.8 1194M1082.6 1217.8L1083.9 1223.6M1082.6 1217.8L1076.2 1223.8M1082.6 1217.8L1077.7 1219.3M1082.6 1217.8L1085 1224.8M1084.1 1214.3L1078.3 1210.2M1084.1 1214.3L1077.7 1209.6M1084.1 1214.3L1075.4 1213.6M1105.4 1218.9L1113.5 1215.7M1105.4 1218.9L1108.4 1222.8M1105.4 1218.9L1105.9 1227.2" stroke="#8e8e8e" stroke-width="0.65" fill="none"/>
<g transform="translate(317.5 418.5) rotate(10.2) scale(1.06 1.05)"><rect x="-47" y="-122" width="94" height="244" rx="19" stroke="#6a6a6a" stroke-width="1" fill="none"/><rect x="-44.5" y="-119.5" width="89" height="239" rx="17" stroke="#6a6a6a" stroke-width="0.7" fill="none"/><path d="M-32 -110 L-25 -98 L25 -98 L32 -110 Q0 -115 -32 -110 Z" stroke="#6a6a6a" stroke-width="0.8" fill="none"/><path d="M-29 -94 Q0 -98 29 -94 L34 22 Q0 30 -34 22 Z" stroke="#6a6a6a" stroke-width="0.8" fill="none"/><path d="M-38 -86 L-33 -90 L-38 15 L-41 22 Z M38 -86 L33 -90 L38 15 L41 22 Z" stroke="#6a6a6a" stroke-width="0.8" fill="none"/><path d="M-38 -40 L-32 -36 M38 -40 L32 -36 M-40 -5 L-35 -3 M40 -5 L35 -3" stroke="#6a6a6a" stroke-width="0.8" fill="none"/><path d="M-36 26 Q0 34 36 26 L40 58 Q0 70 -40 58 Z" stroke="#6a6a6a" stroke-width="0.8" fill="none"/><path d="M-42 62 Q0 76 42 62 M-40 66 Q0 80 40 66" stroke="#6a6a6a" stroke-width="0.8" fill="none"/><path d="M-34 72 L-31 118 M34 72 L24 118" stroke="#6a6a6a" stroke-width="0.8" fill="none"/><path d="M-46 30 L-62 26 L-62 33 L-46 38 M46 30 L62 26 L62 33 L46 38" stroke="#6a6a6a" stroke-width="0.8" fill="none"/><path d="M-44 96 L-40 112 M44 96 L40 112" stroke="#6a6a6a" stroke-width="0.8" fill="none"/></g>
<g transform="translate(502.9 398.9) rotate(4.6)"><path d="M-59 -160 Q-59 -167 -52 -167 L52 -167 Q59 -167 59 -160 L59 -152 L54 -145 L53 -10 L-53 -10 L-54 -145 L-59 -152 Z" stroke="#6a6a6a" stroke-width="1" fill="none"/><path d="M-50 -152 Q-50 -156 -45 -156 H45 Q50 -156 50 -152 L48 -12 M-50 -152 L-48 -12" stroke="#6a6a6a" stroke-width="0.8" fill="none"/><path d="M-44 -148 H44 L43 -14 H-43 Z" stroke="#6a6a6a" stroke-width="0.8" fill="none"/><path d="M-14 -167 L-8 -160 L8 -160 L14 -167" stroke="#6a6a6a" stroke-width="0.8" fill="none"/><path d="M-45 -117 H-33 V-76 L-45 -69 Z M45 -117 H33 V-76 L45 -69 Z M-45 -105 H-33 M45 -105 H33" stroke="#6a6a6a" stroke-width="0.8" fill="none"/><path d="M-56 -10 L56 -10 L58 2 L57 110 Q58 165 40 167 L-40 167 Q-58 165 -58 110 L-57 2 Z" stroke="#6a6a6a" stroke-width="1" fill="none"/><path d="M-41 -4 L41 -4 L43 88 Q0 96 -43 88 Z M-41 5 L41 5 M-41 13 L41 13 M-43 52 Q0 60 43 52" stroke="#6a6a6a" stroke-width="0.8" fill="none"/><path d="M-53 -2 L-43 2 L-41 50 L-50 92 L-54 92 Z M53 -2 L43 2 L41 50 L50 92 L54 92 Z" stroke="#6a6a6a" stroke-width="0.8" fill="none"/><path d="M-52 96 Q0 110 52 96" stroke="#6a6a6a" stroke-width="0.8" fill="none"/><path d="M-56 66 L-76 64 L-76 70 L-56 74 M56 66 L76 64 L76 70 L56 74" stroke="#6a6a6a" stroke-width="0.8" fill="none"/><path d="M-48 100 L-47 156 M48 100 L47 156 M-30 158 L30 158 M-30 162 L30 162" stroke="#6a6a6a" stroke-width="0.8" fill="none"/></g>
<line x1="642.7" y1="637.4" x2="642.7" y2="288" stroke="#333" stroke-width="2" stroke-dasharray="18.5 7.9" stroke-dashoffset="6.2"/>
<line x1="642.7" y1="288" x2="1423.8" y2="288" stroke="#333" stroke-width="2" stroke-dasharray="18.5 7.9" stroke-dashoffset="1.5"/>
<line x1="1423.8" y1="288" x2="1423.8" y2="637.4" stroke="#333" stroke-width="2" stroke-dasharray="18.5 7.9" stroke-dashoffset="6.2"/>
<line x1="1423.8" y1="637.4" x2="1483.2" y2="637.4" stroke="#333" stroke-width="2" stroke-dasharray="18.5 7.9" stroke-dashoffset="5.9"/>
<line x1="1483.2" y1="637.4" x2="1483.2" y2="1177.5" stroke="#333" stroke-width="2" stroke-dasharray="18.5 7.9" stroke-dashoffset="3.2"/>
<line x1="1483.2" y1="1177.5" x2="833.6" y2="1177.5" stroke="#333" stroke-width="2" stroke-dasharray="18.5 7.9" stroke-dashoffset="1.2"/>
<line x1="833.6" y1="1177.5" x2="833.6" y2="1125" stroke="#333" stroke-width="2" stroke-dasharray="18.5 7.9" stroke-dashoffset="9.4"/>
<line x1="833.6" y1="1125" x2="516.4" y2="1125" stroke="#333" stroke-width="2" stroke-dasharray="18.5 7.9" stroke-dashoffset="9"/>
<line x1="516.4" y1="1125" x2="516.4" y2="637.4" stroke="#333" stroke-width="2" stroke-dasharray="18.5 7.9" stroke-dashoffset="3.1"/>
<line x1="516.4" y1="637.4" x2="642.7" y2="637.4" stroke="#333" stroke-width="2" stroke-dasharray="18.5 7.9" stroke-dashoffset="-1.1"/>
<line x1="720" y1="666" x2="720" y2="752" stroke="#c8c8c8" stroke-width="1"/>
<line x1="773.7" y1="666" x2="773.7" y2="752" stroke="#c8c8c8" stroke-width="1"/>
<line x1="822" y1="666" x2="822" y2="752" stroke="#c8c8c8" stroke-width="1"/>
<line x1="870" y1="666" x2="870" y2="752" stroke="#c8c8c8" stroke-width="1"/>
<line x1="720" y1="706.5" x2="870" y2="706.5" stroke="#c8c8c8" stroke-width="1"/>
<rect x="939" y="659" width="185.7" height="25.3" stroke="#9a9a9a" stroke-width="1" fill="none"/>
<line x1="710" y1="663.8" x2="1424" y2="663.8" stroke="#aaaaaa" stroke-width="1.3" stroke-dasharray="18 8.4" stroke-dashoffset="15.6"/>
<path d="M952 307.4H1111M952 316.6H1111M952 325.8H1111M952 335H1111M952 344.2H1111M952 353.4H1111M952 362.6H1111M952 371.8H1111M940.6 381H1124M940.6 390.2H1124M940.6 399.4H1124M940.6 408.6H1124" stroke="#b5b5b5" stroke-width="1" fill="none"/>
<line x1="940.6" y1="372" x2="940.6" y2="415" stroke="#c8c8c8" stroke-width="1"/>
<line x1="1124" y1="372" x2="1124" y2="415" stroke="#c8c8c8" stroke-width="1"/>
<path d="M947.9 330.3V293.8H1115.6V330.3" stroke="#222" stroke-width="1.1" fill="none"/>
<path d="M951.3 330.3V296.8H1112.2V330.3" stroke="#222" stroke-width="1.4" fill="none"/>
<path d="M1006.1 319.5 C995 320.5 985.3 328 985.3 337.8 C985.3 347.6 995 355 1006.1 356.2 M1015 318.6 C1025 317.8 1035 317.4 1046 317.8 C1063 318.5 1075.6 326.5 1075.6 337.8 C1075.6 349.5 1063 357.4 1046 357.8 C1035 358.2 1025 357.8 1015 357" stroke="#000" stroke-width="1.5" fill="none"/>
<path d="M1069 324 C1072.3 328 1073.4 333 1073.4 338 C1073.4 344 1071 349 1066.5 353" stroke="#555" stroke-width="0.8" fill="none"/>
<rect x="1006.1" y="316" width="8.9" height="44" stroke="#000" stroke-width="1.3" fill="#fff"/>
<circle cx="1055" cy="338" r="1.6" stroke="#444" stroke-width="0.8" fill="none"/>
<circle cx="1032" cy="402" r="6.8" stroke="#999" stroke-width="0.8" fill="none"/>
<line x1="1032" y1="402" x2="1032" y2="420" stroke="#999" stroke-width="1"/>
<line x1="719" y1="354.2" x2="788.8" y2="354.2" stroke="#000" stroke-width="1.6"/>
<line x1="719" y1="349.7" x2="788.8" y2="349.7" stroke="#aaa" stroke-width="1"/>
<line x1="719" y1="358.3" x2="788.8" y2="358.3" stroke="#aaa" stroke-width="1"/>
<rect x="710" y="349.3" width="9.6" height="10.7" stroke="#000" stroke-width="1.4" fill="#fff"/>
<line x1="715" y1="361" x2="715" y2="401" stroke="#000" stroke-width="1.6"/>
<line x1="710.6" y1="361" x2="710.6" y2="401" stroke="#aaa" stroke-width="1"/>
<line x1="719.4" y1="361" x2="719.4" y2="401" stroke="#aaa" stroke-width="1"/>
<path d="M704.4 401V343.7H788.8" stroke="#aaa" stroke-width="1" fill="none"/>
<polygon points="692.8,401.5 719.6,401.5 719.6,664 692.8,664" stroke="#000" stroke-width="2.6" fill="#c2c2c2" stroke-linejoin="miter"/>
<line x1="710.7" y1="403" x2="710.7" y2="663" stroke="#8a8a8a" stroke-width="1"/>
<path d="M693 426.8H710.7M693 448.6H710.7M693 470.5H710.7M693 492.3H710.7M693 514.2H710.7M693 536H710.7M693 557.9H710.7M693 579.7H710.7M693 601.6H710.7M693 623.4H710.7M693 645.3H710.7" stroke="#8a8a8a" stroke-width="1" fill="none"/>
<polygon points="788.8,336 952,336 952,372.3 930.3,372.3 930.3,359.1 788.8,359.1" stroke="#000" stroke-width="2.6" fill="#c2c2c2" stroke-linejoin="miter"/>
<line x1="790" y1="349.3" x2="940.6" y2="349.3" stroke="#8a8a8a" stroke-width="1"/>
<line x1="940.6" y1="349.3" x2="940.6" y2="371" stroke="#8a8a8a" stroke-width="1"/>
<path d="M810.8 337V349.3M832.8 337V349.3M854.8 337V349.3M876.8 337V349.3M898.8 337V349.3M920.8 337V349.3" stroke="#8a8a8a" stroke-width="1" fill="none"/>
<rect x="723.3" y="402.6" width="121.2" height="104.9" stroke="#999" stroke-width="1" fill="none"/>
<line x1="841.5" y1="403" x2="841.5" y2="507" stroke="#999" stroke-width="1"/>
<rect x="732.2" y="410.5" width="20.6" height="42" stroke="#999" stroke-width="1" fill="none"/>
<rect x="732.2" y="458" width="20.6" height="42" stroke="#999" stroke-width="1" fill="none"/>
<path d="M776.4 402.6 L748.5 430.2 V507.5 M776.4 402.6 V430.2 H748.5" stroke="#888" stroke-width="1" fill="none"/>
<rect x="721" y="377.4" width="23.4" height="23.7" stroke="#aaa" stroke-width="1" fill="none"/>
<rect x="721" y="509" width="23.4" height="24" stroke="#aaa" stroke-width="1" fill="none"/>
<rect x="886" y="371.2" width="44.3" height="3.4" stroke="#222" stroke-width="1" fill="#777" rx="1.5"/>
<path d="M887 372 A43.3 43.3 0 0 0 930.3 415.3" stroke="#999" stroke-width="1" fill="none"/>
<rect x="922.7" y="560" width="3.6" height="52" stroke="#222" stroke-width="1" fill="#777" rx="1.5"/>
<path d="M924 560 A51 51 0 0 0 873 611" stroke="#999" stroke-width="1" fill="none"/>
<polygon points="720.2,612.6 873.8,612.6 873.8,621 869,621 869,657.2 720.2,657.2" stroke="#000" stroke-width="2.6" fill="#c2c2c2" stroke-linejoin="miter"/>
<rect x="720.2" y="619.2" width="80.5" height="38" stroke="#000" stroke-width="2.2" fill="#fff"/>
<rect x="806.8" y="612.6" width="53.7" height="39.4" stroke="#000" stroke-width="2.2" fill="#fff"/>
<path d="M733 628L732.6 648M735.5 628L735.2 648M737.8 628L736.8 648M739.4 628L740.9 648M741.6 628L740.4 648M744.1 628L745 648M745.9 628L746.2 648M748 628L748 648M749.5 628L748.1 648M752.7 628L753.8 648M755 628L755.2 648M757 628L757.8 648M759.2 628L760.5 648M762 628L763 648" stroke="#999" stroke-width="0.8" fill="none"/>
<line x1="730" y1="638" x2="768" y2="638" stroke="#aaa" stroke-width="0.8"/>
<path d="M778 628L777.3 648M779.6 628L778.7 648M781.4 628L780.1 648M783 628L783.1 648M785.9 628L785.8 648M789 628L790.3 648M790.7 628L791 648" stroke="#999" stroke-width="0.8" fill="none"/>
<line x1="775" y1="638" x2="794" y2="638" stroke="#aaa" stroke-width="0.8"/>
<path d="M820 623L818.9 643M823.1 623L822.4 643M825.6 623L826 643M828.7 623L829.2 643M830.9 623L830.7 643M832.7 623L834.1 643M835.8 623L835 643M837.4 623L836.7 643M839.5 623L840.7 643M842.5 623L843.6 643M844.1 623L845 643M846.8 623L847.3 643M850 623L848.7 643M851.8 623L852.5 643" stroke="#999" stroke-width="0.8" fill="none"/>
<line x1="817" y1="633" x2="856" y2="633" stroke="#aaa" stroke-width="0.8"/>
<polygon points="929.4,415 952.5,415 952.5,429.5 940.6,429.5 940.6,513.5 929.4,513.5" stroke="#000" stroke-width="2.6" fill="#c2c2c2" stroke-linejoin="miter"/>
<polygon points="929.4,555.5 940.6,555.5 940.6,649 1026.2,649 1026.2,419.7 1037.3,419.7 1037.3,649 1124,649 1124,618 1134,618 1134,659 929.4,659" stroke="#000" stroke-width="2.6" fill="#c2c2c2" stroke-linejoin="miter"/>
<polygon points="1111,415 1134,415 1134,574 1124,574 1124,429.5 1111,429.5" stroke="#000" stroke-width="2.6" fill="#c2c2c2" stroke-linejoin="miter"/>
<line x1="1031.7" y1="421" x2="1031.7" y2="648" stroke="#888" stroke-width="1"/>
<line x1="952.5" y1="424.8" x2="1026.2" y2="424.8" stroke="#000" stroke-width="1.6"/>
<line x1="952.5" y1="418" x2="1026.2" y2="418" stroke="#aaa" stroke-width="1"/>
<line x1="952.5" y1="428.7" x2="1026.2" y2="428.7" stroke="#aaa" stroke-width="1"/>
<line x1="1037.3" y1="424.8" x2="1111" y2="424.8" stroke="#000" stroke-width="1.6"/>
<line x1="1037.3" y1="418" x2="1111" y2="418" stroke="#aaa" stroke-width="1"/>
<line x1="1037.3" y1="428.7" x2="1111" y2="428.7" stroke="#aaa" stroke-width="1"/>
<path d="M940.6 430L1026.2 481.8M1026.2 430L940.6 481.8" stroke="#999" stroke-width="0.8" fill="none"/>
<line x1="940.6" y1="481.8" x2="1026.2" y2="481.8" stroke="#aaa" stroke-width="1.8"/>
<path d="M1037.3 430L1124 481.8M1124 430L1037.3 481.8" stroke="#999" stroke-width="0.8" fill="none"/>
<line x1="1037.3" y1="481.8" x2="1124" y2="481.8" stroke="#aaa" stroke-width="1.8"/>
<circle cx="957" cy="455.2" r="7.3" stroke="#999" stroke-width="0.8" fill="none"/>
<line x1="941" y1="455.2" x2="957" y2="455.2" stroke="#aaa" stroke-width="1.8"/>
<circle cx="1106.1" cy="455" r="7.3" stroke="#999" stroke-width="0.8" fill="none"/>
<line x1="1106" y1="455" x2="1123" y2="455" stroke="#aaa" stroke-width="1.8"/>
<line x1="986.4" y1="482" x2="986.4" y2="649" stroke="#c8c8c8" stroke-width="1"/>
<line x1="1078" y1="482" x2="1078" y2="649" stroke="#c8c8c8" stroke-width="1"/>
<line x1="940.6" y1="510.5" x2="1026.2" y2="510.5" stroke="#c8c8c8" stroke-width="1"/>
<line x1="940.6" y1="566" x2="1026.2" y2="566" stroke="#c8c8c8" stroke-width="1"/>
<line x1="940.6" y1="600" x2="1026.2" y2="600" stroke="#c8c8c8" stroke-width="1"/>
<line x1="1037.3" y1="521" x2="1124" y2="521" stroke="#c8c8c8" stroke-width="1"/>
<line x1="1037.3" y1="570" x2="1124" y2="570" stroke="#c8c8c8" stroke-width="1"/>
<line x1="1037.3" y1="600" x2="1124" y2="600" stroke="#c8c8c8" stroke-width="1"/>
<rect x="994.8" y="499.3" width="31.4" height="97" stroke="#000" stroke-width="1.3" fill="#fff"/>
<rect x="998.5" y="515.5" width="21.4" height="29.2" stroke="#888" stroke-width="0.8" fill="none"/>
<path d="M998.5 515.5 L1009 530 L1019.9 515.5 M998.5 544.7 L1009 530 L1019.9 544.7" stroke="#aaa" stroke-width="0.7" fill="none"/>
<rect x="1037.3" y="536.1" width="31.2" height="97.1" stroke="#000" stroke-width="1.3" fill="#fff"/>
<rect x="1043.6" y="586.9" width="22" height="30" stroke="#888" stroke-width="0.8" fill="none"/>
<path d="M1043.6 586.9 L1054.6 602 L1065.6 586.9 M1043.6 616.9 L1054.6 602 L1065.6 616.9" stroke="#aaa" stroke-width="0.7" fill="none"/>
<rect x="1015.6" y="611" width="10" height="23.5" stroke="#000" stroke-width="1.1" fill="#fff"/>
<path d="M1015.6 612 H995 A11.5 11 0 0 0 995 634 H1015.6" stroke="#000" stroke-width="1.1" fill="none"/>
<rect x="1037.9" y="498.4" width="10.6" height="22.9" stroke="#000" stroke-width="1.1" fill="#fff"/>
<path d="M1048.5 499.5 H1068 A12 10.5 0 0 1 1068 520.5 H1048.5" stroke="#000" stroke-width="1.1" fill="none"/>
<rect x="940.6" y="554" width="42.8" height="3" stroke="#222" stroke-width="1" fill="#777" rx="1.5"/>
<path d="M983.4 555.5 A42.8 42.8 0 0 0 940.6 513.5" stroke="#999" stroke-width="1" fill="none"/>
<rect x="1080.4" y="616.3" width="43.6" height="3" stroke="#222" stroke-width="1" fill="#777" rx="1.5"/>
<path d="M1080.4 617.8 A43.6 43.6 0 0 1 1124 574.2" stroke="#999" stroke-width="1" fill="none"/>
<rect x="941" y="571" width="3" height="30" stroke="#aaa" stroke-width="0.8" fill="none"/>
<line x1="1275" y1="354.2" x2="1342" y2="354.2" stroke="#000" stroke-width="1.6"/>
<line x1="1275" y1="349.7" x2="1342" y2="349.7" stroke="#aaa" stroke-width="1"/>
<line x1="1275" y1="358.3" x2="1342" y2="358.3" stroke="#aaa" stroke-width="1"/>
<rect x="1342" y="349.3" width="11.3" height="10.7" stroke="#000" stroke-width="1.4" fill="#fff"/>
<line x1="1348" y1="361" x2="1348" y2="402" stroke="#000" stroke-width="1.6"/>
<line x1="1343.6" y1="361" x2="1343.6" y2="402" stroke="#aaa" stroke-width="1"/>
<line x1="1352.4" y1="361" x2="1352.4" y2="402" stroke="#aaa" stroke-width="1"/>
<path d="M1275 343.7H1359.6V402" stroke="#aaa" stroke-width="1" fill="none"/>
<polygon points="1111,336 1275,336 1275,359.1 1133.6,359.1 1133.6,372.3 1111,372.3" stroke="#000" stroke-width="2.6" fill="#c2c2c2" stroke-linejoin="miter"/>
<line x1="1124" y1="349.3" x2="1273" y2="349.3" stroke="#8a8a8a" stroke-width="1"/>
<line x1="1124" y1="349.3" x2="1124" y2="371" stroke="#8a8a8a" stroke-width="1"/>
<path d="M1146 337V349.3M1168 337V349.3M1190 337V349.3M1212 337V349.3M1234 337V349.3M1256 337V349.3" stroke="#8a8a8a" stroke-width="1" fill="none"/>
<rect x="1133.6" y="371.2" width="44.4" height="3.4" stroke="#222" stroke-width="1" fill="#777" rx="1.5"/>
<path d="M1177 372 A43.3 43.3 0 0 1 1133.7 415.3" stroke="#999" stroke-width="1" fill="none"/>
<polygon points="1343.6,402 1367,402 1367,658.3 1194.3,658.3 1194.3,627 1202.8,627 1202.8,635.5 1246.5,635.5 1246.5,568.4 1202.8,568.4 1202.8,574 1190,574 1190,560.6 1257,560.6 1257,635.5 1344,635.5 1344,570 1297,570 1297,560.6 1343.6,560.6" stroke="#000" stroke-width="2.6" fill="#c2c2c2" stroke-linejoin="miter"/>
<line x1="1353.6" y1="403" x2="1353.6" y2="645" stroke="#8a8a8a" stroke-width="1"/>
<path d="M1353.6 424H1366M1353.6 446H1366M1353.6 468H1366M1353.6 490H1366M1353.6 512H1366M1353.6 534H1366M1353.6 556H1366M1353.6 578H1366M1353.6 600H1366M1353.6 622H1366" stroke="#8a8a8a" stroke-width="1" fill="none"/>
<line x1="1205" y1="645.5" x2="1353.6" y2="645.5" stroke="#8a8a8a" stroke-width="1"/>
<path d="M1227 646V657M1249 646V657M1271 646V657M1293 646V657M1315 646V657M1337 646V657" stroke="#8a8a8a" stroke-width="1" fill="none"/>
<line x1="1257" y1="560.6" x2="1297" y2="560.6" stroke="#000" stroke-width="2.2"/>
<rect x="1206" y="574" width="38" height="31" stroke="#999" stroke-width="1" fill="none"/>
<rect x="1209" y="577" width="32" height="25" stroke="#999" stroke-width="1" fill="none"/>
<rect x="1206" y="610" width="38" height="24" stroke="#aaa" stroke-width="1" fill="none"/>
<path d="M1261 617L1261.5 635M1263 617L1263.3 635M1265.8 617L1264.6 635M1267.8 617L1267.1 635M1269.6 617L1269.5 635M1271.3 617L1270.6 635M1273.1 617L1273.6 635M1274.6 617L1275.3 635M1276.4 617L1275 635M1279.5 617L1278.7 635M1282.6 617L1283.7 635M1285.6 617L1284.5 635M1287.9 617L1286.7 635" stroke="#999" stroke-width="0.8" fill="none"/>
<line x1="1258" y1="626" x2="1293" y2="626" stroke="#aaa" stroke-width="0.8"/>
<path d="M1313 578L1339 578.7M1313 581.3L1339 581.6M1313 584.6L1339 584.5M1313 587.9L1339 587.6M1313 591.2L1339 591.8M1313 594.5L1339 594.5M1313 597.8L1339 598.1M1313 601.1L1339 600.4M1313 604.4L1339 603.8M1313 607.7L1339 606.8M1313 611L1339 611.4M1313 614.3L1339 614.4M1313 617.6L1339 616.9M1313 620.9L1339 621.6" stroke="#999" stroke-width="0.8" fill="none"/>
<line x1="1326" y1="575" x2="1326" y2="630" stroke="#aaa" stroke-width="0.8"/>
<line x1="1300" y1="626" x2="1326" y2="626" stroke="#aaa" stroke-width="0.8"/>
<path d="M1303 560V551H1330V560 M1306 553H1327 M1306 556H1327" stroke="#999" stroke-width="0.8" fill="none"/>
<rect x="1219.5" y="402.6" width="122.5" height="104.9" stroke="#999" stroke-width="1" fill="none"/>
<line x1="1221.5" y1="403" x2="1221.5" y2="507" stroke="#999" stroke-width="1"/>
<rect x="1310.5" y="410.5" width="20.5" height="42" stroke="#999" stroke-width="1" fill="none"/>
<rect x="1310.5" y="458" width="20.5" height="42" stroke="#999" stroke-width="1" fill="none"/>
<path d="M1287.5 402.6 L1315 430.2 V507.5 M1287.5 402.6 V430.2 H1315" stroke="#888" stroke-width="1" fill="none"/>
<rect x="1319" y="377.4" width="23" height="23.7" stroke="#aaa" stroke-width="1" fill="none"/>
<rect x="1319" y="509" width="23" height="24" stroke="#aaa" stroke-width="1" fill="none"/>
<rect x="1137.7" y="508.4" width="3.6" height="51.6" stroke="#222" stroke-width="1" fill="#777" rx="1.5"/>
<path d="M1140 508.4 A51.6 51.6 0 0 1 1191.6 560" stroke="#999" stroke-width="1" fill="none"/>
<line x1="1195.7" y1="575.5" x2="1170" y2="620" stroke="#333" stroke-width="2.2"/>
<line x1="1195.7" y1="575.5" x2="1170" y2="620" stroke="#fff" stroke-width="0.8"/>
<path d="M1170 620 A51.4 51.4 0 0 0 1194.3 627" stroke="#999" stroke-width="1" fill="none"/>
<rect x="1193" y="658.3" width="10" height="7.7" stroke="#000" stroke-width="1.2" fill="#fff"/>
<path d="M1418.5 658V1171M1409.3 658V1171M1400.2 658V1171M1391 658V1171M1381.9 658V1171M1372.8 658V1171M1363.6 658V1171M1354.5 658V1171M1345.3 658V1171M1336.2 658V1171M1327 658V1171M1317.8 658V1171M1308.7 658V1171M1299.5 658V1171M1290.4 658V1171M1281.2 658V1171M1272.1 658V1171M1263 658V1171M1253.8 658V1171M1244.7 658V1171M1235.5 658V1171M1226.3 658V1171M1217.2 658V1171M1208 658V1171M1198.9 1090V1171M1189.8 1090V1171M1180.6 1090V1171M1171.5 1090V1171M1162.3 1090V1171M1153.2 1090V1171M1144 1090V1171M1134.8 1090V1171M1125.7 1090V1171M1116.5 1090V1171M1107.4 1090V1171M1098.2 1090V1171M1089.1 1090V1171M1080 1090V1171M1070.8 1090V1171M1061.7 1090V1171M1052.5 1090V1171M1043.3 1090V1171M1034.2 1090V1171M1025 1090V1171M1015.9 1090V1171M1006.8 1090V1171M997.6 1090V1171M988.5 1090V1171M979.3 1090V1171M970.1 1090V1171M961 1090V1171M951.8 1090V1171M942.7 1090V1171M933.5 1090V1171M924.4 1090V1171M915.2 1090V1171M906.1 1090V1171M896.9 1090V1171M887.8 1090V1171M878.6 1104V1171M869.5 1104V1171M860.4 1104V1171M851.2 1104V1171M842 1104V1171M832.9 1104V1171M823.8 1104V1171M814.6 1104V1171M805.4 1104V1171M796.3 1104V1171M787.1 1104V1171M778 1104V1171" stroke="#ababab" stroke-width="1" fill="none"/>
<path d="M1372.7 655.4H1427V1174.3H878" stroke="#222" stroke-width="1.3" fill="none"/>
<path d="M1372.7 658.3H1424V1171.5H768.6V1103.4" stroke="#222" stroke-width="1.3" fill="none"/>
<rect x="1344.8" y="747.3" width="8.4" height="8.4" stroke="#000" stroke-width="2.6" fill="#fff"/>
<rect x="1344.8" y="1080.8" width="8.4" height="8.4" stroke="#000" stroke-width="2.6" fill="#fff"/>
<polygon points="590.4,740.7 710.5,740.7 710.5,734.9 718.2,734.9 718.2,754.7 869.7,754.7 869.7,812.7 857,812.7 857,764.6 613.3,764.6 613.3,940.4 590.4,940.4" stroke="#000" stroke-width="2.6" fill="#c2c2c2" stroke-linejoin="miter"/>
<path d="M604.3 939V755.5H710.5" stroke="#8a8a8a" stroke-width="1" fill="none"/>
<path d="M620.3 742V755.5M642.3 742V755.5M664.3 742V755.5M686.3 742V755.5M708.3 742V755.5" stroke="#8a8a8a" stroke-width="1" fill="none"/>
<path d="M591.5 757.4H604.3M591.5 779.4H604.3M591.5 801.4H604.3M591.5 823.4H604.3M591.5 845.4H604.3M591.5 867.4H604.3M591.5 889.4H604.3M591.5 911.4H604.3M591.5 933.4H604.3" stroke="#8a8a8a" stroke-width="1" fill="none"/>
<path d="M613.3 807.8H666.6" stroke="#000" stroke-width="2.2" fill="none"/>
<path d="M666.6 808.3H857" stroke="#111" stroke-width="1.5" fill="none"/>
<line x1="666.6" y1="765" x2="666.6" y2="808" stroke="#000" stroke-width="2.2"/>
<line x1="666.6" y1="765" x2="666.6" y2="808" stroke="#fff" stroke-width="0.8"/>
<line x1="733.9" y1="772" x2="733.9" y2="809" stroke="#000" stroke-width="2"/>
<line x1="667" y1="772.8" x2="857" y2="772.8" stroke="#333" stroke-width="2.1"/>
<line x1="735" y1="792.6" x2="855" y2="792.6" stroke="#999" stroke-width="1" stroke-dasharray="9 4.3"/>
<rect x="772" y="777.5" width="45.7" height="30.5" stroke="#999" stroke-width="0.9" fill="#e4e4e4"/>
<path d="M779.9 779V807M787 779V807M794.9 779V807M802.8 779V807M809.9 779V807M774 781.5H816M774 784.8H816M774 788.2H816M774 791.6H816M774 795H816M774 798.4H816M774 801.8H816M774 805H816" stroke="#9a9a9a" stroke-width="0.8" fill="none"/>
<circle cx="779.9" cy="785" r="2.2" stroke="#888" stroke-width="0.7" fill="none"/>
<circle cx="809.9" cy="785" r="2.2" stroke="#888" stroke-width="0.7" fill="none"/>
<circle cx="794.9" cy="790" r="2.2" stroke="#888" stroke-width="0.7" fill="none"/>
<circle cx="779.9" cy="799" r="2.2" stroke="#888" stroke-width="0.7" fill="none"/>
<circle cx="809.9" cy="799" r="2.2" stroke="#888" stroke-width="0.7" fill="none"/>
<rect x="785.5" y="803" width="18.5" height="4.5" stroke="#888" stroke-width="0.7" fill="#fff"/>
<rect x="674.7" y="862.7" width="159.3" height="50.5" stroke="#000" stroke-width="1.5" fill="#fff"/>
<rect x="699.3" y="867.3" width="32.5" height="27.4" stroke="#555" stroke-width="0.9" fill="none"/>
<path d="M699.3 867.3L731.8 894.7M731.8 867.3L699.3 894.7" stroke="#666" stroke-width="0.8" fill="none"/>
<line x1="676" y1="898.4" x2="833" y2="898.4" stroke="#aaa" stroke-width="1" stroke-dasharray="8 6"/>
<path d="M723 913.5 V923 Q723 930.5 737 930.5 Q751 930.5 751 923 V913.5" stroke="#888" stroke-width="0.9" fill="none"/>
<path d="M757 913.5 V923 Q757 930.5 771 930.5 Q785 930.5 785 923 V913.5" stroke="#888" stroke-width="0.9" fill="none"/>
<path d="M791.5 913.5 V923 Q791.5 930.5 805.5 930.5 Q819.5 930.5 819.5 923 V913.5" stroke="#888" stroke-width="0.9" fill="none"/>
<rect x="677.6" y="996.3" width="153" height="53.1" stroke="#888" stroke-width="1" fill="none"/>
<rect x="684.7" y="980.3" width="28.6" height="16" stroke="#888" stroke-width="0.9" fill="none"/>
<line x1="684.7" y1="984" x2="713.3" y2="984" stroke="#999" stroke-width="0.8"/>
<line x1="684.7" y1="989.5" x2="713.3" y2="989.5" stroke="#999" stroke-width="0.8"/>
<rect x="721.3" y="980.3" width="29.1" height="16" stroke="#888" stroke-width="0.9" fill="none"/>
<line x1="721.3" y1="984" x2="750.4" y2="984" stroke="#999" stroke-width="0.8"/>
<line x1="721.3" y1="989.5" x2="750.4" y2="989.5" stroke="#999" stroke-width="0.8"/>
<rect x="758.4" y="980.3" width="28.6" height="16" stroke="#888" stroke-width="0.9" fill="none"/>
<line x1="758.4" y1="984" x2="787" y2="984" stroke="#999" stroke-width="0.8"/>
<line x1="758.4" y1="989.5" x2="787" y2="989.5" stroke="#999" stroke-width="0.8"/>
<rect x="795.5" y="980.3" width="28.5" height="16" stroke="#888" stroke-width="0.9" fill="none"/>
<line x1="795.5" y1="984" x2="824" y2="984" stroke="#999" stroke-width="0.8"/>
<line x1="795.5" y1="989.5" x2="824" y2="989.5" stroke="#999" stroke-width="0.8"/>
<rect x="677.6" y="1054.2" width="153" height="25.8" stroke="#999" stroke-width="1" fill="none"/>
<path d="M604.4 943V1078 M613.7 943V1078" stroke="#999" stroke-width="0.8" fill="none"/>
<path d="M610.5 943V997" stroke="#aaa" stroke-width="0.8" fill="none"/>
<polygon points="604.5,940.4 613.3,940.4 613.3,943.3 604.5,943.3" stroke="#000" stroke-width="1.6" fill="#c2c2c2" stroke-linejoin="miter"/>
<rect x="606.6" y="1003" width="4.6" height="67" stroke="#000" stroke-width="1.1" fill="#aaa"/>
<rect x="608.5" y="996" width="3.5" height="5.6" stroke="#000" stroke-width="1" fill="#fff"/>
<rect x="605.7" y="1007.4" width="3.3" height="5.8" stroke="#000" stroke-width="1" fill="#fff"/>
<rect x="608.5" y="1060.7" width="3.5" height="5.8" stroke="#000" stroke-width="1" fill="#fff"/>
<rect x="605.7" y="1072.3" width="3.9" height="5.7" stroke="#000" stroke-width="1" fill="#fff"/>
<polygon points="590.4,1080 878.6,1080 878.6,1103.4 590.4,1103.4" stroke="#000" stroke-width="2.6" fill="#c2c2c2" stroke-linejoin="miter"/>
<path d="M604 1103V1089.8H877" stroke="#8a8a8a" stroke-width="1" fill="none"/>
<path d="M620 1090V1102M642 1090V1102M664 1090V1102M686 1090V1102M708 1090V1102M730 1090V1102M752 1090V1102M774 1090V1102M796 1090V1102M818 1090V1102M840 1090V1102M862 1090V1102" stroke="#8a8a8a" stroke-width="1" fill="none"/>
<line x1="878.6" y1="1085" x2="1198" y2="1085" stroke="#000" stroke-width="1.6"/>
<line x1="878.6" y1="1081.5" x2="1198" y2="1081.5" stroke="#aaa" stroke-width="1"/>
<line x1="878.6" y1="1088.5" x2="1198" y2="1088.5" stroke="#aaa" stroke-width="1"/>
<rect x="953.8" y="1080.5" width="6" height="9" stroke="#000" stroke-width="1.2" fill="#fff"/>
<rect x="1033.2" y="1080.5" width="6" height="9" stroke="#000" stroke-width="1.2" fill="#fff"/>
<rect x="1112.3" y="1080.5" width="6" height="9" stroke="#000" stroke-width="1.2" fill="#fff"/>
<rect x="1192" y="1078.8" width="13" height="13" stroke="#000" stroke-width="2.2" fill="#fff"/>
<line x1="1198.4" y1="666" x2="1198.4" y2="752" stroke="#000" stroke-width="1.5"/>
<line x1="1195" y1="666" x2="1195" y2="752" stroke="#aaa" stroke-width="1"/>
<line x1="1202" y1="666" x2="1202" y2="752" stroke="#aaa" stroke-width="1"/>
<rect x="1194.5" y="749" width="8" height="6" stroke="#000" stroke-width="1" fill="#fff"/>
<line x1="1198.4" y1="903" x2="1198.4" y2="1078" stroke="#aaa" stroke-width="1"/>
<line x1="1195" y1="903" x2="1195" y2="1078" stroke="#aaa" stroke-width="1"/>
<line x1="1202" y1="903" x2="1202" y2="1078" stroke="#aaa" stroke-width="1"/>
<rect x="1194.5" y="902.5" width="8" height="6" stroke="#000" stroke-width="1" fill="#fff"/>
<line x1="1198.4" y1="985" x2="1198.4" y2="1078" stroke="#000" stroke-width="1.8"/>
<rect x="1196.5" y="982" width="4" height="8" stroke="#000" stroke-width="1" fill="#fff"/>
<rect x="1199" y="990" width="4" height="7" stroke="#000" stroke-width="1" fill="#fff"/>
<rect x="1161.2" y="810.5" width="13.4" height="91.5" stroke="#999" stroke-width="0.8" fill="none"/>
<polygon points="1174.6,754.2 1229.8,754.2 1229.8,902.7 1174.6,902.7 1174.6,890.4 1215.5,884 1215.5,829 1174.6,822.7" stroke="#000" stroke-width="2.6" fill="#c2c2c2" stroke-linejoin="miter"/>
<path d="M1176 765.2H1228M1176 776.2H1228M1176 787.2H1228M1176 798.2H1228M1176 809.2H1228" stroke="#8a8a8a" stroke-width="1" fill="none"/>
<rect x="1186.9" y="765.6" width="30.9" height="45.7" stroke="#000" stroke-width="2.4" fill="#fff"/>
<circle cx="1202.8" cy="777.5" r="4" stroke="#999" stroke-width="0.8" fill="none"/>
<circle cx="1205.5" cy="788" r="1.7" stroke="#999" stroke-width="0.7" fill="none"/>
<path d="M1181 846L1192 842L1200 872L1189 875Z M1194 843L1210 842L1211 872L1200 873Z M1188 872L1210 850" stroke="#999" stroke-width="0.8" fill="none"/>
<rect x="916.3" y="810.7" width="218.4" height="189.6" stroke="#aaa" stroke-width="1" fill="none"/>
<rect x="944.2" y="772.2" width="139.1" height="69.7" stroke="#888" stroke-width="1" fill="#fff" rx="3"/>
<line x1="990.5" y1="773" x2="990.5" y2="841.5" stroke="#aaa" stroke-width="1"/>
<line x1="1036.7" y1="773" x2="1036.7" y2="841.5" stroke="#aaa" stroke-width="1"/>
<path d="M952 789.5 C952 780 955.5 775.6 962.5 775.6 H976.5 C983.5 775.6 987 780 987 789.5 M954 789 Q969.5 781 985 789 M949 789.5 H990 Q990.7 790.7 989.7 793 L989 800.5 Q987.5 803.1 969.5 803.4 Q951.5 803.1 950 800.5 L949.3 793 Q948.3 790.7 949 789.5 Z M954 798.5 Q969.5 801.5 985 798.5" stroke="#888" stroke-width="0.9" fill="none"/>
<path d="M996 789.5 C996 780 999.5 775.6 1006.5 775.6 H1020.5 C1027.5 775.6 1031 780 1031 789.5 M998 789 Q1013.5 781 1029 789 M993 789.5 H1034 Q1034.7 790.7 1033.7 793 L1033 800.5 Q1031.5 803.1 1013.5 803.4 Q995.5 803.1 994 800.5 L993.3 793 Q992.3 790.7 993 789.5 Z M998 798.5 Q1013.5 801.5 1029 798.5" stroke="#888" stroke-width="0.9" fill="none"/>
<path d="M1040.5 789.5 C1040.5 780 1044 775.6 1051 775.6 H1065 C1072 775.6 1075.5 780 1075.5 789.5 M1042.5 789 Q1058 781 1073.5 789 M1037.5 789.5 H1078.5 Q1079.2 790.7 1078.2 793 L1077.5 800.5 Q1076 803.1 1058 803.4 Q1040 803.1 1038.5 800.5 L1037.8 793 Q1036.8 790.7 1037.5 789.5 Z M1042.5 798.5 Q1058 801.5 1073.5 798.5" stroke="#888" stroke-width="0.9" fill="none"/>
<rect x="951.2" y="810.5" width="13.3" height="22" stroke="#888" stroke-width="0.9" fill="none" rx="3"/>
<rect x="1063" y="810.5" width="13" height="22" stroke="#888" stroke-width="0.9" fill="none" rx="3"/>
<rect x="967.5" y="960" width="116" height="57.8" stroke="#888" stroke-width="1" fill="#fff" rx="3"/>
<line x1="1025.5" y1="960" x2="1025.5" y2="1017.5" stroke="#aaa" stroke-width="1"/>
<path d="M980.3 1001.5 C980.3 1011 983.8 1015.4 990.8 1015.4 H1004.8 C1011.8 1015.4 1015.3 1011 1015.3 1001.5 M982.3 1002 Q997.8 1010 1013.3 1002 M977.3 1001.5 H1018.3 Q1019 1000.3 1018 998 L1017.3 990.5 Q1015.8 987.9 997.8 987.6 Q979.8 987.9 978.3 990.5 L977.6 998 Q976.6 1000.3 977.3 1001.5 Z M982.3 992.5 Q997.8 989.5 1013.3 992.5" stroke="#888" stroke-width="0.9" fill="none"/>
<path d="M1035.3 1001.5 C1035.3 1011 1038.8 1015.4 1045.8 1015.4 H1059.8 C1066.8 1015.4 1070.3 1011 1070.3 1001.5 M1037.3 1002 Q1052.8 1010 1068.3 1002 M1032.3 1001.5 H1073.3 Q1074 1000.3 1073 998 L1072.3 990.5 Q1070.8 987.9 1052.8 987.6 Q1034.8 987.9 1033.3 990.5 L1032.6 998 Q1031.6 1000.3 1032.3 1001.5 Z M1037.3 992.5 Q1052.8 989.5 1068.3 992.5" stroke="#888" stroke-width="0.9" fill="none"/>
<rect x="990.8" y="867.6" width="89.6" height="47.1" stroke="#888" stroke-width="1" fill="#fff"/>
<path d="M902.5 872C899.5 873 898.5 877.5 898.5 889.5C898.5 901.5 899.5 906 902.5 907C910.5 909.2 918.5 909.5 939.5 909.5C942 909.5 943.3 903.5 943.3 889.5C943.3 875.5 942 869.5 939.5 869.5C918.5 869.5 910.5 869.8 902.5 872Z" stroke="#666" stroke-width="0.9" fill="#fff"/>
<line x1="903" y1="872.5" x2="903" y2="906.5" stroke="#999" stroke-width="0.8"/>
<line x1="896" y1="889.5" x2="898.5" y2="889.5" stroke="#777" stroke-width="0.8"/>
<line x1="943.3" y1="889.5" x2="946" y2="889.5" stroke="#777" stroke-width="0.8"/>
<path d="M902.5 927C899.5 928 898.5 932.5 898.5 944.5C898.5 956.5 899.5 961 902.5 962C910.5 964.2 918.5 964.5 939.5 964.5C942 964.5 943.3 958.5 943.3 944.5C943.3 930.5 942 924.5 939.5 924.5C918.5 924.5 910.5 924.8 902.5 927Z" stroke="#666" stroke-width="0.9" fill="#fff"/>
<line x1="903" y1="927.5" x2="903" y2="961.5" stroke="#999" stroke-width="0.8"/>
<line x1="896" y1="944.5" x2="898.5" y2="944.5" stroke="#777" stroke-width="0.8"/>
<line x1="943.3" y1="944.5" x2="946" y2="944.5" stroke="#777" stroke-width="0.8"/>
<path d="M921.5 864.5V869.5M921.5 909.5V914M921.5 919.5V924.5M921.5 964.5V969.5" stroke="#777" stroke-width="1" fill="none"/>
<rect x="1299.3" y="823.6" width="38.3" height="73.9" stroke="#888" stroke-width="1" fill="#fff"/>
<rect x="1370.4" y="768.5" width="48.8" height="44.2" stroke="#999" stroke-width="1" fill="#fff"/>
<rect x="1368.4" y="812.7" width="50.8" height="95.7" stroke="#888" stroke-width="1" fill="#fff" rx="3"/>
<line x1="1369" y1="860.5" x2="1418" y2="860.5" stroke="#aaa" stroke-width="1"/>
<path d="M1412 813.5 Q1403 815 1403 828 V848 Q1403 858 1412 860 M1412 861 Q1403 863 1403 875 V895 Q1403 905 1412 907.5" stroke="#999" stroke-width="0.9" fill="none"/>
<rect x="1262.8" y="943.2" width="49.9" height="51.7" stroke="#999" stroke-width="1" fill="#fff" rx="2"/>
<path d="M1264.8 987 V981 Q1264.8 975 1272.8 975 H1302.8 Q1310.8 975 1310.8 981 V987" stroke="#999" stroke-width="0.9" fill="none"/>
<line x1="1264.8" y1="987" x2="1310.8" y2="987" stroke="#999" stroke-width="0.9"/>
<rect x="1329.9" y="943.2" width="49.9" height="51.7" stroke="#999" stroke-width="1" fill="#fff" rx="2"/>
<path d="M1331.9 987 V981 Q1331.9 975 1339.9 975 H1369.9 Q1377.9 975 1377.9 981 V987" stroke="#999" stroke-width="0.9" fill="none"/>
<line x1="1331.9" y1="987" x2="1377.9" y2="987" stroke="#999" stroke-width="0.9"/>
<path d="M720 733.2 H784" stroke="#000" stroke-width="1.6" fill="none"/>
<rect x="720" y="731" width="7" height="4.5" stroke="#000" stroke-width="1" fill="#fff"/>
<rect x="778" y="731" width="6.5" height="4.5" stroke="#000" stroke-width="1" fill="#fff"/>
<path d="M784 733 A64 64 0 0 0 720 669" stroke="#888" stroke-width="1" fill="none"/>
<path d="M720 669 V666" stroke="#888" stroke-width="1" fill="none"/>
<polygon points="710,664 719.5,664 719.5,670.5 710,670.5" stroke="#000" stroke-width="2.2" fill="#c2c2c2" stroke-linejoin="miter"/>
<path d="M794 750V754M809 750V754M824 750V754M839 750V754M854 750V754" stroke="#aaa" stroke-width="1" fill="none"/>
<path transform="translate(1032 219.5)" d="M2.3 -8L-3.6 1.3M-4.3 3.6A4.3 4.3 0 1 0 4.3 3.6A4.3 4.3 0 1 0 -4.3 3.6" stroke="#111" stroke-width="1.65" fill="none"/>
<path transform="translate(1026.5 337)" d="M-2.7 -6.7L0 -7.9V7.9" stroke="#111" stroke-width="1.65" fill="none"/>
<path transform="translate(1039.4 337)" d="M-2.7 -6.7L0 -7.9V7.9" stroke="#111" stroke-width="1.65" fill="none"/>
<path transform="translate(900.2 454.9)" d="M-4.3 -3.7A4.3 4.3 0 1 0 4.3 -3.7A4.3 4.3 0 1 0 -4.3 -3.7M3.6 -1.4L-2.3 7.9" stroke="#111" stroke-width="1.65" fill="none"/>
<path transform="translate(1170 454.8)" d="M-4.3 -3.7A4.3 4.3 0 1 0 4.3 -3.7A4.3 4.3 0 1 0 -4.3 -3.7M3.6 -1.4L-2.3 7.9" stroke="#111" stroke-width="1.65" fill="none"/>
<path transform="translate(1094 541.4)" d="M-2.7 -6.7L0 -7.9V7.9" stroke="#111" stroke-width="1.65" fill="none"/>
<path transform="translate(1106.8 541.4)" d="M-5 0A5 7.9 0 1 0 5 0A5 7.9 0 1 0 -5 0" stroke="#111" stroke-width="1.65" fill="none"/>
<path transform="translate(955.1 622.3)" d="M-2.7 -6.7L0 -7.9V7.9" stroke="#111" stroke-width="1.65" fill="none"/>
<path transform="translate(967.5 622.3)" d="M-5 0A5 7.9 0 1 0 5 0A5 7.9 0 1 0 -5 0" stroke="#111" stroke-width="1.65" fill="none"/>
<path transform="translate(1228.9 589.5)" d="M-4.2 -4.5A4.1 3.5 0 1 0 4 -4.5A4.1 3.5 0 1 0 -4.2 -4.5M-5.2 3.9A5 4.1 0 1 0 4.8 3.9A5 4.1 0 1 0 -5.2 3.9" stroke="#111" stroke-width="1.65" fill="none"/>
<path transform="translate(818.8 711)" d="M-2.7 -6.7L0 -7.9V7.9" stroke="#111" stroke-width="1.65" fill="none"/>
<path transform="translate(1031.4 711.2)" d="M-4.4 -3.9C-4.4 -6.5 -2.2 -7.9 0.3 -7.9C2.8 -7.9 4.6 -6 4.6 -3.6C4.6 -1.6 3.4 0 2 1.5L-4.6 7.9H5.3" stroke="#111" stroke-width="1.65" fill="none"/>
<path transform="translate(1035.7 891.4)" d="M-4.2 -5.1C-3.4 -7 -1.9 -7.9 -0.1 -7.9C2.2 -7.9 3.9 -6.6 3.9 -4.6C3.9 -2.5 2.2 -1 -0.6 -1C2.6 -1 5 0.6 5 3.4C5 6 2.8 7.9 -0.1 7.9C-2.4 7.9 -4.2 6.5 -5 4.3" stroke="#111" stroke-width="1.65" fill="none"/>
<path transform="translate(755 882.6)" d="M2.6 7.9V-7.9L-5.3 3.7H5.6" stroke="#111" stroke-width="1.65" fill="none"/>
<path transform="translate(754.7 1024.6)" d="M5 -7.8H-2.1L-3.1 -1.2C-2.2 -2 -1.2 -2.4 0 -2.4C2.8 -2.4 4.7 -0.3 4.7 2.6C4.7 5.6 2.6 7.8 -0.2 7.8C-2.4 7.8 -4.2 6.5 -4.95 4.7" stroke="#111" stroke-width="1.65" fill="none"/>
<path transform="translate(416.3 1024.8)" d="M2.3 -8L-3.6 1.3M-4.3 3.6A4.3 4.3 0 1 0 4.3 3.6A4.3 4.3 0 1 0 -4.3 3.6" stroke="#111" stroke-width="1.65" fill="none"/>
<path transform="translate(1529.9 861.3)" d="M2.3 -8L-3.6 1.3M-4.3 3.6A4.3 4.3 0 1 0 4.3 3.6A4.3 4.3 0 1 0 -4.3 3.6" stroke="#111" stroke-width="1.65" fill="none"/>
<path transform="translate(1321 861.5)" d="M-4.9 -7.7H4.8L-3.7 7.9" stroke="#111" stroke-width="1.65" fill="none"/>
<text x="1610" y="370.4" font-size="16.3" text-anchor="end" class="leg" letter-spacing="0.6">1</text>
<text x="1620.8" y="368.8" font-size="16.3" text-anchor="start" class="leg" letter-spacing="0.62">entry</text>
<text x="1610" y="392.6" font-size="16.3" text-anchor="end" class="leg" letter-spacing="0.6">2</text>
<text x="1620.8" y="391" font-size="16.3" text-anchor="start" class="leg" letter-spacing="0.62">library</text>
<text x="1610" y="415.2" font-size="16.3" text-anchor="end" class="leg" letter-spacing="0.6">3</text>
<text x="1620.8" y="413.6" font-size="16.3" text-anchor="start" class="leg" letter-spacing="0.62">living</text>
<text x="1610" y="439.4" font-size="16.3" text-anchor="end" class="leg" letter-spacing="0.6">4</text>
<text x="1620.8" y="437.8" font-size="16.3" text-anchor="start" class="leg" letter-spacing="0.62">kitchen</text>
<text x="1610" y="460.2" font-size="16.3" text-anchor="end" class="leg" letter-spacing="0.6">5</text>
<text x="1620.8" y="458.6" font-size="16.3" text-anchor="start" class="leg" letter-spacing="0.62">dining</text>
<text x="1610" y="483" font-size="16.3" text-anchor="end" class="leg" letter-spacing="0.6">6</text>
<text x="1620.8" y="481.4" font-size="16.3" text-anchor="start" class="leg" letter-spacing="0.62">national monument beyond</text>
<text x="1610" y="505.2" font-size="16.3" text-anchor="end" class="leg" letter-spacing="0.6">7</text>
<text x="1620.8" y="503.6" font-size="16.3" text-anchor="start" class="leg" letter-spacing="0.62">outdoor living</text>
<text x="1610" y="527.9" font-size="16.3" text-anchor="end" class="leg" letter-spacing="0.6">8</text>
<text x="1620.8" y="526.3" font-size="16.3" text-anchor="start" class="leg" letter-spacing="0.62">laundry closet</text>
<text x="1610" y="552.2" font-size="16.3" text-anchor="end" class="leg" letter-spacing="0.6">9</text>
<text x="1620.8" y="550.6" font-size="16.3" text-anchor="start" class="leg" letter-spacing="0.62">bedroom</text>
<text x="1610" y="574.5" font-size="16.3" text-anchor="end" class="leg" letter-spacing="0.6">10</text>
<text x="1620.8" y="572.9" font-size="16.3" text-anchor="start" class="leg" letter-spacing="0.62">bathroom</text>
<text x="1610" y="595.7" font-size="16.3" text-anchor="end" class="leg" letter-spacing="0.6">11</text>
<text x="1620.8" y="594.1" font-size="16.3" text-anchor="start" class="leg" letter-spacing="0.62">outdoor bathing</text>
<path d="M558.4 1302 V1284.4 H576 V1302 H593.6 V1284.4 H611.4 V1302 H646.6 V1284.4 H735 V1302 H911 V1284.4 H1439.4 V1302.5" stroke="#000" stroke-width="2.6" fill="none" stroke-linejoin="miter"/>
<text x="558.7" y="1278.6" font-size="16.3" text-anchor="middle" class="leg" letter-spacing="0.6">0</text>
<text x="576.3" y="1278.6" font-size="16.3" text-anchor="middle" class="leg" letter-spacing="0.6">1</text>
<text x="593.9" y="1278.6" font-size="16.3" text-anchor="middle" class="leg" letter-spacing="0.6">2</text>
<text x="611.7" y="1278.6" font-size="16.3" text-anchor="middle" class="leg" letter-spacing="0.6">3</text>
<text x="646.9" y="1278.6" font-size="16.3" text-anchor="middle" class="leg" letter-spacing="0.6">5</text>
<text x="735.3" y="1278.6" font-size="16.3" text-anchor="middle" class="leg" letter-spacing="0.6">10</text>
<text x="911.3" y="1278.6" font-size="16.3" text-anchor="middle" class="leg" letter-spacing="0.6">20</text>
<text x="1438.8" y="1278.6" font-size="16.3" text-anchor="middle" class="leg" letter-spacing="0.6">50</text>
<text x="1432.5" y="1301" font-size="16" text-anchor="end" class="leg" letter-spacing="0.64">floor plan : 1,415 sqft</text>
<circle cx="1483.4" cy="1292.6" r="22" stroke="#000" stroke-width="2.7" fill="none"/>
<line x1="1477.2" y1="1270.5" x2="1483.8" y2="1294.5" stroke="#000" stroke-width="3"/>
</svg>
</body></html>
